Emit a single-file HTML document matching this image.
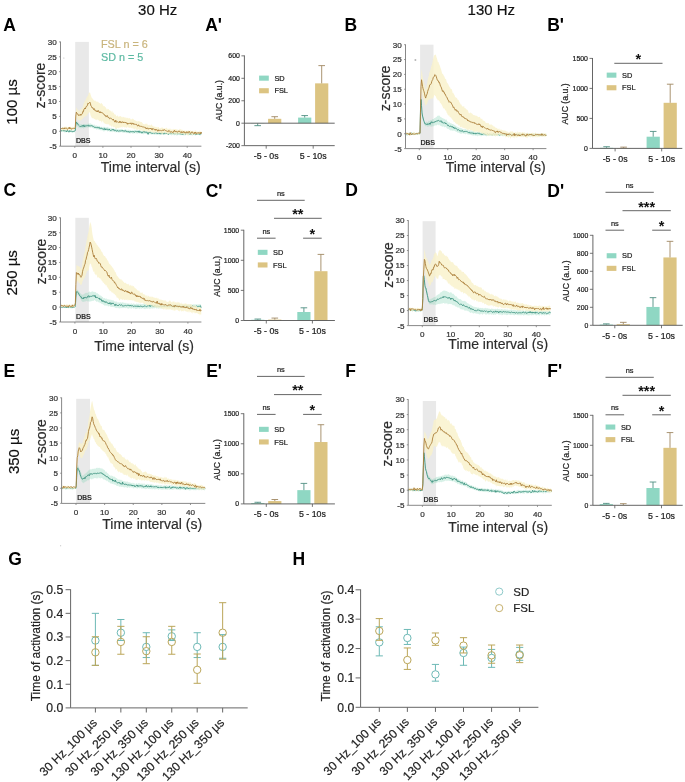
<!DOCTYPE html>
<html><head><meta charset="utf-8"><style>
html,body{margin:0;padding:0;background:#fff;}
svg{display:block;font-family:"Liberation Sans", sans-serif;will-change:transform;}
</style></head><body>
<svg width="685" height="782" viewBox="0 0 685 782">
<rect width="685" height="782" fill="#fff"/>
<rect x="75.2" y="41.9" width="13.7" height="104.3" fill="#e9e9e9"/>
<path d="M60.64,129.66 L61.15,129.66 L61.65,129.93 L62.16,129.22 L62.66,129.27 L63.17,129.52 L63.68,130.27 L64.18,129.52 L64.69,130.33 L65.19,130.06 L65.7,129.66 L66.2,129.6 L66.71,129.7 L67.22,130.07 L67.72,129.66 L68.23,130.1 L68.73,130.03 L69.24,129.7 L69.74,130.11 L70.25,130.16 L70.76,130.28 L71.26,129.86 L71.77,130.01 L72.27,130.76 L72.78,130.1 L73.29,129.89 L73.79,130.61 L74.3,129.86 L74.8,129.59 L75.31,129.21 L75.81,121.99 L76.32,120.39 L76.83,121.33 L77.33,121.4 L77.84,123.06 L78.34,122.32 L78.85,123.83 L79.36,123.43 L79.86,124.38 L80.37,123.94 L80.87,124.45 L81.38,123.95 L81.88,124.31 L82.39,125.01 L82.9,124.06 L83.4,125.06 L83.91,123.99 L84.41,124.31 L84.92,124.66 L85.42,123.96 L85.93,124.01 L86.44,124.06 L86.94,124.29 L87.45,123.6 L87.95,124.19 L88.46,123.24 L88.97,124.16 L89.47,123.64 L89.98,123.08 L90.48,123.26 L90.99,124.16 L91.49,123.67 L92,124.18 L92.51,124.48 L93.01,124.82 L93.52,124.76 L94.02,124.87 L94.53,124.57 L95.03,125.53 L95.54,125.45 L96.05,125.65 L96.55,124.97 L97.06,126.14 L97.56,125.72 L98.07,126.14 L98.58,126.02 L99.08,125.39 L99.59,126.6 L100.09,126.62 L100.6,127.65 L101.1,126.43 L101.61,126.93 L102.12,126.7 L102.62,127.69 L103.13,127.28 L103.63,126.81 L104.14,126.85 L104.65,127.04 L105.15,127.28 L105.66,127.45 L106.16,127.17 L106.67,127.56 L107.17,127.22 L107.68,126.69 L108.19,127.42 L108.69,127.78 L109.2,127.83 L109.7,128.54 L110.21,127.86 L110.71,128.53 L111.22,127.8 L111.73,127.81 L112.23,128.42 L112.74,128.22 L113.24,128.89 L113.75,128.29 L114.26,129.42 L114.76,128.81 L115.27,128.7 L115.77,128.36 L116.28,128.54 L116.78,128.47 L117.29,129.29 L117.8,129.01 L118.3,128.56 L118.81,129.92 L119.31,129.79 L119.82,129.04 L120.32,129.19 L120.83,129.2 L121.34,129.28 L121.84,128.77 L122.35,129.58 L122.85,130.06 L123.36,130.13 L123.87,129.91 L124.37,129.59 L124.88,129.77 L125.38,128.96 L125.89,129.46 L126.39,129.76 L126.9,129.93 L127.41,130.36 L127.91,129.45 L128.42,129.84 L128.92,129.82 L129.43,130.47 L129.94,129.61 L130.44,130.29 L130.95,130.54 L131.45,130.43 L131.96,130.87 L132.46,130.28 L132.97,129.81 L133.48,130.9 L133.98,130.02 L134.49,129.87 L134.99,129.94 L135.5,129.73 L136,130.08 L136.51,129.95 L137.02,130.41 L137.52,129.65 L138.03,130.21 L138.53,130.75 L139.04,129.78 L139.55,130.29 L140.05,130.86 L140.56,130.47 L141.06,130.63 L141.57,131.02 L142.07,130.38 L142.58,131.05 L143.09,129.83 L143.59,130.6 L144.1,130.65 L144.6,130.32 L145.11,130.99 L145.61,131.7 L146.12,130.94 L146.63,130.62 L147.13,131.64 L147.64,131.08 L148.14,131.37 L148.65,130.51 L149.16,131.74 L149.66,130.75 L150.17,130.75 L150.67,131.75 L151.18,132.25 L151.68,131.54 L152.19,131.82 L152.7,131.43 L153.2,131.4 L153.71,131.78 L154.21,131.68 L154.72,131.96 L155.23,131.8 L155.73,131.8 L156.24,131.87 L156.74,131.7 L157.25,131.72 L157.75,131.74 L158.26,132.61 L158.77,132.28 L159.27,132.36 L159.78,132.35 L160.28,132.13 L160.79,132.27 L161.29,131.83 L161.8,131.48 L162.31,132.03 L162.81,131.43 L163.32,131.67 L163.82,132.09 L164.33,132.16 L164.84,131.85 L165.34,132.14 L165.85,131.63 L166.35,132.05 L166.86,132.22 L167.36,131.75 L167.87,132.53 L168.38,131.99 L168.88,131.85 L169.39,131.83 L169.89,132.08 L170.4,132.25 L170.9,132.55 L171.41,132.18 L171.92,132.35 L172.42,132.44 L172.93,132.01 L173.43,132.3 L173.94,131.58 L174.45,131.85 L174.95,132.32 L175.46,131.98 L175.96,132.95 L176.47,132.06 L176.97,132.95 L177.48,132.53 L177.99,132.31 L178.49,132.1 L179,131.8 L179.5,132.82 L180.01,132.74 L180.52,132.4 L181.02,132.21 L181.53,132.84 L182.03,132.48 L182.54,132.44 L183.04,132.18 L183.55,132.47 L184.06,132.51 L184.56,132.81 L185.07,133.01 L185.57,132.43 L186.08,132.58 L186.58,132.34 L187.09,132.53 L187.6,132.58 L188.1,132.27 L188.61,132.81 L189.11,132.69 L189.62,132.97 L190.13,132.75 L190.63,132.4 L191.14,131.77 L191.64,132.21 L192.15,132.22 L192.65,132.89 L193.16,132.42 L193.67,132.53 L194.17,132.38 L194.68,132.48 L195.18,132.49 L195.69,132.26 L196.19,132.6 L196.7,132.77 L197.21,132.29 L197.71,133 L198.22,132.51 L198.72,133 L199.23,132.13 L199.74,132.64 L200.24,132.24 L200.75,132.51 L201.25,133 L201.26,132.28 L201.26,135.16 L201.25,134.9 L200.75,135.33 L200.24,135.4 L199.74,135.3 L199.23,135.14 L198.72,134.51 L198.22,134.88 L197.71,135.04 L197.21,135.12 L196.7,135.12 L196.19,134.36 L195.69,135.48 L195.18,135.5 L194.68,135.16 L194.17,134.76 L193.67,134.64 L193.16,134.26 L192.65,135 L192.15,135.93 L191.64,135.03 L191.14,135.18 L190.63,135.21 L190.13,135.02 L189.62,135.09 L189.11,135.31 L188.61,135.53 L188.1,134.93 L187.6,135.05 L187.09,135.33 L186.58,134.8 L186.08,135.12 L185.57,135.5 L185.07,134.93 L184.56,134.98 L184.06,135.96 L183.55,135.22 L183.04,134.85 L182.54,135.24 L182.03,135.07 L181.53,134.96 L181.02,135.52 L180.52,134.94 L180.01,135.32 L179.5,135.11 L179,134.51 L178.49,134.67 L177.99,134.82 L177.48,135.41 L176.97,135.28 L176.47,135.53 L175.96,134.91 L175.46,134.55 L174.95,135.53 L174.45,135.19 L173.94,134.69 L173.43,135.37 L172.93,134.88 L172.42,134.65 L171.92,135.57 L171.41,135.37 L170.9,135.07 L170.4,134.59 L169.89,134.82 L169.39,134.64 L168.88,134.82 L168.38,134.42 L167.87,134.75 L167.36,134.82 L166.86,134.5 L166.35,133.88 L165.85,134.89 L165.34,133.9 L164.84,134.48 L164.33,134.42 L163.82,134.54 L163.32,135.19 L162.81,134.45 L162.31,134.58 L161.8,134.54 L161.29,134.73 L160.79,134.61 L160.28,135.28 L159.78,134.23 L159.27,135.73 L158.77,134.51 L158.26,134.74 L157.75,135.09 L157.25,134.79 L156.74,134.33 L156.24,135.13 L155.73,134.6 L155.23,134.58 L154.72,134.61 L154.21,134.88 L153.71,134.27 L153.2,134.45 L152.7,134.36 L152.19,134.51 L151.68,134.25 L151.18,134.67 L150.67,134.28 L150.17,134.05 L149.66,133.95 L149.16,134.75 L148.65,133.86 L148.14,134.54 L147.64,134.09 L147.13,134.36 L146.63,133.43 L146.12,134.29 L145.61,133.63 L145.11,133.78 L144.6,133.77 L144.1,133.72 L143.59,134.78 L143.09,133.41 L142.58,134.08 L142.07,133.71 L141.57,133.83 L141.06,133.74 L140.56,133.34 L140.05,133.63 L139.55,133.25 L139.04,133.58 L138.53,133.26 L138.03,132.61 L137.52,134.07 L137.02,133.58 L136.51,132.92 L136,134.11 L135.5,133.1 L134.99,133.2 L134.49,133.03 L133.98,133.44 L133.48,133.57 L132.97,133.33 L132.46,133.91 L131.96,133.09 L131.45,133.06 L130.95,133.22 L130.44,133.44 L129.94,133.34 L129.43,133.35 L128.92,133.51 L128.42,132.78 L127.91,132.75 L127.41,133.22 L126.9,132.59 L126.39,133.39 L125.89,132.54 L125.38,132.85 L124.88,132.74 L124.37,132.79 L123.87,132.75 L123.36,132.33 L122.85,133.06 L122.35,132.32 L121.84,132.02 L121.34,132.19 L120.83,132.06 L120.32,132.21 L119.82,132.69 L119.31,132.16 L118.81,132.57 L118.3,132.5 L117.8,132.35 L117.29,132.01 L116.78,132.41 L116.28,131.77 L115.77,132.62 L115.27,132.06 L114.76,132.37 L114.26,131.59 L113.75,132.09 L113.24,131.4 L112.74,131.32 L112.23,132.22 L111.73,132.08 L111.22,131.39 L110.71,132.11 L110.21,131.85 L109.7,131.96 L109.2,131.11 L108.69,131.01 L108.19,131.28 L107.68,131.52 L107.17,131.15 L106.67,130.43 L106.16,130.86 L105.66,130.79 L105.15,130.38 L104.65,131.29 L104.14,131.23 L103.63,131.64 L103.13,130.42 L102.62,130.7 L102.12,129.96 L101.61,130.06 L101.1,130.71 L100.6,130.35 L100.09,130.07 L99.59,129.95 L99.08,129.65 L98.58,129.83 L98.07,129.28 L97.56,129.3 L97.06,129.18 L96.55,130.07 L96.05,128.92 L95.54,128.65 L95.03,129.05 L94.53,128.71 L94.02,128.49 L93.52,128.52 L93.01,128.21 L92.51,127.88 L92,127.81 L91.49,127.33 L90.99,127.22 L90.48,127.74 L89.98,127.52 L89.47,127.27 L88.97,127.3 L88.46,127.52 L87.95,127.14 L87.45,127.59 L86.94,127.85 L86.44,127.36 L85.93,127.58 L85.42,127.93 L84.92,127.36 L84.41,127.65 L83.91,128.74 L83.4,128.41 L82.9,128.07 L82.39,127.88 L81.88,128.21 L81.38,128.25 L80.87,128.36 L80.37,128.28 L79.86,127.66 L79.36,127.88 L78.85,128.13 L78.34,126.72 L77.84,126.57 L77.33,126.72 L76.83,125.32 L76.32,124.85 L75.81,126.21 L75.31,132.25 L74.8,132.36 L74.3,132.14 L73.79,132.17 L73.29,132.48 L72.78,132.73 L72.27,132.54 L71.77,131.94 L71.26,132.92 L70.76,132.29 L70.25,131.92 L69.74,132.68 L69.24,132.22 L68.73,132.33 L68.23,132.53 L67.72,131.82 L67.22,131.61 L66.71,132.06 L66.2,132.4 L65.7,132.17 L65.19,132.3 L64.69,132.73 L64.18,131.9 L63.68,131.76 L63.17,131.97 L62.66,131.93 L62.16,131.85 L61.65,132.06 L61.15,132.08 L60.64,131.77Z" fill="rgba(130,210,180,0.32)"/>
<path d="M60.64,131.08 L61.15,130.39 L61.65,130.82 L62.16,130.66 L62.66,130.1 L63.17,130.31 L63.68,131.12 L64.18,129.8 L64.69,130.91 L65.19,130.56 L65.7,131.27 L66.2,131 L66.71,131.84 L67.22,130.18 L67.72,130.4 L68.23,131.65 L68.73,131.82 L69.24,131.89 L69.74,130.58 L70.25,131.38 L70.76,131.21 L71.26,131.35 L71.77,131.28 L72.27,131.75 L72.78,131.24 L73.29,131.95 L73.79,131.31 L74.3,131.14 L74.8,131.07 L75.31,130.63 L75.81,124.53 L76.32,122.24 L76.83,123.29 L77.33,123.18 L77.84,124.24 L78.34,124.94 L78.85,125.42 L79.36,125.92 L79.86,126.44 L80.37,126.5 L80.87,126.39 L81.38,126.25 L81.88,126.18 L82.39,125.39 L82.9,126.67 L83.4,126.26 L83.91,124.86 L84.41,127.02 L84.92,126.32 L85.42,125.93 L85.93,125.9 L86.44,125.74 L86.94,125.99 L87.45,125.61 L87.95,125.65 L88.46,125.2 L88.97,126.36 L89.47,125.8 L89.98,125.37 L90.48,125.99 L90.99,126.16 L91.49,125.56 L92,126.39 L92.51,126.01 L93.01,126.18 L93.52,126.59 L94.02,126.68 L94.53,127.11 L95.03,127.82 L95.54,127.23 L96.05,127.08 L96.55,127.64 L97.06,127.55 L97.56,127.26 L98.07,128.17 L98.58,127.58 L99.08,127.13 L99.59,128.42 L100.09,128.22 L100.6,128.49 L101.1,127.81 L101.61,128.5 L102.12,128.32 L102.62,129.16 L103.13,128.9 L103.63,128.94 L104.14,129.82 L104.65,128.33 L105.15,128.64 L105.66,129.96 L106.16,128.83 L106.67,129.31 L107.17,129.11 L107.68,129.22 L108.19,130.18 L108.69,129.65 L109.2,128.92 L109.7,129.98 L110.21,130.28 L110.71,130.52 L111.22,130.54 L111.73,129.88 L112.23,129.31 L112.74,129.99 L113.24,130.15 L113.75,129.27 L114.26,130.65 L114.76,130.79 L115.27,130.27 L115.77,130.31 L116.28,131.11 L116.78,131.22 L117.29,130.56 L117.8,130.6 L118.3,131.36 L118.81,130.86 L119.31,131.05 L119.82,130.6 L120.32,130.9 L120.83,130.92 L121.34,131.08 L121.84,130.45 L122.35,130.33 L122.85,131.2 L123.36,130.66 L123.87,131.47 L124.37,131.12 L124.88,130.83 L125.38,130.51 L125.89,131.46 L126.39,131.35 L126.9,131.26 L127.41,132.1 L127.91,131.41 L128.42,131.78 L128.92,131.31 L129.43,132.05 L129.94,132.48 L130.44,131.54 L130.95,131.46 L131.45,131.86 L131.96,131.19 L132.46,131.77 L132.97,131.94 L133.48,131.45 L133.98,132.45 L134.49,132.05 L134.99,131.76 L135.5,131.37 L136,131.88 L136.51,131.68 L137.02,132.17 L137.52,131.75 L138.03,131.13 L138.53,132.29 L139.04,130.87 L139.55,132.34 L140.05,132.06 L140.56,132.02 L141.06,131.65 L141.57,132.77 L142.07,133.22 L142.58,131.97 L143.09,131.92 L143.59,132.04 L144.1,131.13 L144.6,132.33 L145.11,132.34 L145.61,132.06 L146.12,132.37 L146.63,131.79 L147.13,133.22 L147.64,132.85 L148.14,134.35 L148.65,132.36 L149.16,132.97 L149.66,132.39 L150.17,131.84 L150.67,132.91 L151.18,133.06 L151.68,133.22 L152.19,133.41 L152.7,133.35 L153.2,132.77 L153.71,133.09 L154.21,133.11 L154.72,133.25 L155.23,132.76 L155.73,132.99 L156.24,133.32 L156.74,132.96 L157.25,133.37 L157.75,133.87 L158.26,132.65 L158.77,133.14 L159.27,133.84 L159.78,132.87 L160.28,133.23 L160.79,134.14 L161.29,132.63 L161.8,133.24 L162.31,132.98 L162.81,133.32 L163.32,133.49 L163.82,134.16 L164.33,132.96 L164.84,133.42 L165.34,133.57 L165.85,133.28 L166.35,133.41 L166.86,133.13 L167.36,133.64 L167.87,133.48 L168.38,134.49 L168.88,133.68 L169.39,133.16 L169.89,132.86 L170.4,133.67 L170.9,133.56 L171.41,132.76 L171.92,133.68 L172.42,133.18 L172.93,132.74 L173.43,133.52 L173.94,132.97 L174.45,133.9 L174.95,133.47 L175.46,133.61 L175.96,133.53 L176.47,133.05 L176.97,132.46 L177.48,133.93 L177.99,133.89 L178.49,133.39 L179,134.14 L179.5,133.4 L180.01,133.38 L180.52,133.79 L181.02,133.41 L181.53,134.41 L182.03,133.32 L182.54,134.43 L183.04,134.03 L183.55,133.98 L184.06,133.91 L184.56,133.32 L185.07,133.7 L185.57,133.93 L186.08,133.49 L186.58,133.01 L187.09,133.77 L187.6,133.6 L188.1,133.2 L188.61,133.67 L189.11,134.41 L189.62,132.62 L190.13,132.77 L190.63,134.77 L191.14,133.85 L191.64,133.64 L192.15,133.39 L192.65,133.54 L193.16,133.99 L193.67,134.37 L194.17,133.83 L194.68,133.39 L195.18,134.41 L195.69,134.39 L196.19,133.91 L196.7,134.83 L197.21,134.04 L197.71,134.13 L198.22,133.71 L198.72,134.27 L199.23,134.36 L199.74,134.13 L200.24,133.97 L200.75,134.27 L201.25,133.95 L201.26,133.6" fill="none" stroke="#3f9481" stroke-width="0.9" stroke-linejoin="round"/>
<path d="M60.64,126.74 L61.15,127.78 L61.65,128.67 L62.16,127.71 L62.66,127.02 L63.17,127.03 L63.68,128.24 L64.18,126.6 L64.69,126.78 L65.19,126.94 L65.7,126.47 L66.2,126.68 L66.71,126.73 L67.22,127.16 L67.72,126.84 L68.23,127.67 L68.73,126.93 L69.24,126.78 L69.74,127.01 L70.25,127.18 L70.76,126.47 L71.26,127.08 L71.77,127.05 L72.27,126.71 L72.78,126.65 L73.29,127.4 L73.79,127 L74.3,126.42 L74.8,127.2 L75.31,125.68 L75.81,112.23 L76.32,108.3 L76.83,107.33 L77.33,109.47 L77.84,109.99 L78.34,109.27 L78.85,111.32 L79.36,111.09 L79.86,110.19 L80.37,108.91 L80.87,110.1 L81.38,108.44 L81.88,108.78 L82.39,107.04 L82.9,107.28 L83.4,104.24 L83.91,102.94 L84.41,102.14 L84.92,99.91 L85.42,100.69 L85.93,99.12 L86.44,97.93 L86.94,97.25 L87.45,96.12 L87.95,95.91 L88.46,93.83 L88.97,92.96 L89.47,92.86 L89.98,92.01 L90.48,94.18 L90.99,95.4 L91.49,97.48 L92,97.67 L92.51,98.8 L93.01,99.09 L93.52,99.95 L94.02,100.58 L94.53,100.89 L95.03,99.97 L95.54,101.31 L96.05,101.06 L96.55,101.71 L97.06,101.9 L97.56,101.53 L98.07,101.71 L98.58,102.62 L99.08,102.86 L99.59,103.06 L100.09,103.36 L100.6,103.9 L101.1,103.28 L101.61,102.73 L102.12,104.32 L102.62,104.12 L103.13,106.48 L103.63,105.38 L104.14,105.9 L104.65,106.27 L105.15,107.23 L105.66,107.36 L106.16,107.99 L106.67,109.65 L107.17,108.59 L107.68,109.46 L108.19,109.02 L108.69,109.08 L109.2,110.61 L109.7,110 L110.21,110.2 L110.71,111.24 L111.22,110.71 L111.73,112.49 L112.23,110.57 L112.74,112.71 L113.24,112.67 L113.75,112.56 L114.26,114.31 L114.76,114.48 L115.27,114.59 L115.77,114.78 L116.28,116.26 L116.78,116.15 L117.29,115.62 L117.8,115.46 L118.3,116.34 L118.81,117.21 L119.31,115.97 L119.82,116.45 L120.32,116.04 L120.83,116.3 L121.34,116.73 L121.84,117.29 L122.35,117.55 L122.85,116.4 L123.36,117.33 L123.87,116.81 L124.37,116.88 L124.88,117.95 L125.38,116.92 L125.89,118.24 L126.39,118.24 L126.9,117.2 L127.41,118.13 L127.91,117.64 L128.42,118.75 L128.92,117.69 L129.43,118.02 L129.94,118.54 L130.44,118.7 L130.95,119.8 L131.45,118.99 L131.96,119.4 L132.46,118.3 L132.97,119.35 L133.48,118.67 L133.98,119.91 L134.49,120.11 L134.99,120.24 L135.5,120.45 L136,121.11 L136.51,121.16 L137.02,121.06 L137.52,121.63 L138.03,121.03 L138.53,121.36 L139.04,121.04 L139.55,121.48 L140.05,121.73 L140.56,121.93 L141.06,122.09 L141.57,121.93 L142.07,122.41 L142.58,123.28 L143.09,123.7 L143.59,124.18 L144.1,123.74 L144.6,124.42 L145.11,124.25 L145.61,123.87 L146.12,123.2 L146.63,124.34 L147.13,123.62 L147.64,124.9 L148.14,124.71 L148.65,125.23 L149.16,125.35 L149.66,124.53 L150.17,125.95 L150.67,124.96 L151.18,124.58 L151.68,124.61 L152.19,125.58 L152.7,125.91 L153.2,125.61 L153.71,127 L154.21,126.79 L154.72,126.44 L155.23,126.77 L155.73,127.17 L156.24,126.66 L156.74,127.38 L157.25,127.64 L157.75,126.81 L158.26,127.09 L158.77,127.08 L159.27,128.55 L159.78,128.22 L160.28,128.14 L160.79,127.66 L161.29,127.71 L161.8,127.53 L162.31,127.83 L162.81,127.37 L163.32,129.01 L163.82,127.86 L164.33,128.75 L164.84,128.32 L165.34,128.37 L165.85,128.56 L166.35,127.84 L166.86,127.67 L167.36,128.87 L167.87,128.97 L168.38,129.13 L168.88,128.58 L169.39,128.73 L169.89,128.77 L170.4,128.42 L170.9,129.8 L171.41,128.99 L171.92,129.98 L172.42,129.13 L172.93,129.46 L173.43,128.65 L173.94,129.72 L174.45,129.02 L174.95,129.23 L175.46,128.96 L175.96,129.12 L176.47,129.3 L176.97,129.81 L177.48,129.39 L177.99,129.61 L178.49,129.99 L179,129.89 L179.5,128.93 L180.01,128.74 L180.52,129.48 L181.02,129.01 L181.53,130.08 L182.03,129.83 L182.54,129.85 L183.04,130.3 L183.55,131.01 L184.06,130.52 L184.56,130.75 L185.07,129.94 L185.57,131.17 L186.08,130.01 L186.58,131.32 L187.09,130.9 L187.6,130.79 L188.1,130.5 L188.61,130.16 L189.11,131.05 L189.62,131 L190.13,130.28 L190.63,130.6 L191.14,131.08 L191.64,131.36 L192.15,131.26 L192.65,131.46 L193.16,130.62 L193.67,130.88 L194.17,132.46 L194.68,130.39 L195.18,130.58 L195.69,130.51 L196.19,130.59 L196.7,132.01 L197.21,131.98 L197.71,130.94 L198.22,132.39 L198.72,131.12 L199.23,132.06 L199.74,130.27 L200.24,131.52 L200.75,131.52 L201.25,130.91 L201.26,132.19 L201.26,134.15 L201.25,134.5 L200.75,134 L200.24,134.38 L199.74,133.44 L199.23,133.94 L198.72,133.71 L198.22,133.79 L197.71,135.05 L197.21,134.53 L196.7,134.67 L196.19,134.03 L195.69,134.67 L195.18,133.63 L194.68,134.26 L194.17,134.31 L193.67,134.92 L193.16,133.68 L192.65,135.49 L192.15,134.76 L191.64,134.1 L191.14,134.67 L190.63,135.2 L190.13,134.05 L189.62,133.67 L189.11,134.83 L188.61,135.02 L188.1,135.21 L187.6,135.48 L187.09,134.2 L186.58,134.78 L186.08,134.69 L185.57,133.87 L185.07,133.79 L184.56,134.79 L184.06,134.92 L183.55,133.75 L183.04,134.2 L182.54,134.04 L182.03,133.53 L181.53,134.79 L181.02,134.3 L180.52,133.86 L180.01,133.33 L179.5,134.26 L179,133.8 L178.49,134.13 L177.99,133.58 L177.48,133.78 L176.97,135.01 L176.47,133.58 L175.96,134.26 L175.46,133.56 L174.95,134.67 L174.45,133.46 L173.94,134.71 L173.43,133.1 L172.93,133.56 L172.42,134.71 L171.92,134.1 L171.41,133.31 L170.9,133.11 L170.4,134.22 L169.89,133.41 L169.39,133.86 L168.88,133.89 L168.38,133.4 L167.87,134.03 L167.36,134.52 L166.86,133.12 L166.35,133.05 L165.85,134.1 L165.34,133.09 L164.84,132.13 L164.33,132.54 L163.82,132.76 L163.32,133.24 L162.81,133.24 L162.31,134.7 L161.8,133.19 L161.29,133.46 L160.79,133.31 L160.28,133.2 L159.78,132.41 L159.27,132.71 L158.77,132.93 L158.26,133.59 L157.75,133.08 L157.25,132.52 L156.74,131.97 L156.24,132.67 L155.73,132.14 L155.23,132.93 L154.72,132.34 L154.21,132.72 L153.71,133.06 L153.2,133.03 L152.7,132.06 L152.19,131.84 L151.68,132.66 L151.18,131.5 L150.67,132.91 L150.17,131.09 L149.66,131.51 L149.16,132.6 L148.65,132.46 L148.14,131.71 L147.64,131.45 L147.13,130.87 L146.63,131.45 L146.12,130.9 L145.61,130.61 L145.11,131.41 L144.6,130.75 L144.1,131.94 L143.59,130.59 L143.09,131.92 L142.58,131.08 L142.07,129.16 L141.57,130.5 L141.06,130.51 L140.56,131.19 L140.05,129.39 L139.55,129.75 L139.04,129.67 L138.53,128.75 L138.03,130.09 L137.52,129.58 L137.02,129.71 L136.51,130.16 L136,128.29 L135.5,128.76 L134.99,128.51 L134.49,129.2 L133.98,129.07 L133.48,128.3 L132.97,129.05 L132.46,127.79 L131.96,127.63 L131.45,128.31 L130.95,128.01 L130.44,127.24 L129.94,128 L129.43,127.77 L128.92,127.42 L128.42,127.45 L127.91,127.4 L127.41,126.33 L126.9,127.74 L126.39,127.79 L125.89,127.45 L125.38,127.14 L124.88,126.91 L124.37,127.85 L123.87,126.78 L123.36,126.94 L122.85,126.34 L122.35,127.75 L121.84,127.57 L121.34,126.72 L120.83,127.16 L120.32,127.52 L119.82,127.69 L119.31,127.38 L118.81,127.83 L118.3,128.2 L117.8,127.83 L117.29,127.96 L116.78,128.49 L116.28,129.3 L115.77,128.4 L115.27,128.05 L114.76,127.57 L114.26,126.75 L113.75,127.23 L113.24,127.3 L112.74,127.01 L112.23,125.32 L111.73,126.64 L111.22,126.38 L110.71,126.11 L110.21,125.18 L109.7,124.62 L109.2,126.23 L108.69,123.85 L108.19,124.56 L107.68,124.41 L107.17,123.84 L106.67,124.15 L106.16,124.22 L105.66,123.96 L105.15,123.71 L104.65,122.85 L104.14,123.88 L103.63,122.46 L103.13,121.87 L102.62,120.18 L102.12,122.3 L101.61,122.5 L101.1,121.03 L100.6,120.9 L100.09,120.81 L99.59,121.6 L99.08,120.69 L98.58,120.35 L98.07,119.83 L97.56,119.55 L97.06,119.76 L96.55,119.59 L96.05,120.51 L95.54,119.5 L95.03,119.37 L94.53,119.1 L94.02,118.64 L93.52,118.29 L93.01,118.57 L92.51,118.28 L92,117.83 L91.49,117.57 L90.99,115.94 L90.48,115.29 L89.98,112.26 L89.47,112.46 L88.97,112.25 L88.46,113.57 L87.95,113.26 L87.45,114.82 L86.94,115.32 L86.44,115.96 L85.93,116.16 L85.42,116.13 L84.92,116.74 L84.41,116.24 L83.91,118.35 L83.4,117.34 L82.9,118.66 L82.39,118.87 L81.88,119.33 L81.38,119.75 L80.87,121.02 L80.37,120.15 L79.86,120.26 L79.36,119.81 L78.85,120.01 L78.34,120.18 L77.84,119.85 L77.33,118.31 L76.83,119.03 L76.32,116.52 L75.81,118.95 L75.31,127.46 L74.8,129.58 L74.3,129.11 L73.79,130.01 L73.29,129.43 L72.78,129.76 L72.27,130.52 L71.77,129.56 L71.26,130.22 L70.76,129.89 L70.25,130.24 L69.74,129.24 L69.24,129.71 L68.73,129.51 L68.23,130.46 L67.72,130.14 L67.22,129.15 L66.71,130.54 L66.2,130.35 L65.7,130.27 L65.19,129.94 L64.69,130.08 L64.18,131.22 L63.68,130.08 L63.17,130.28 L62.66,131.01 L62.16,130.32 L61.65,129.3 L61.15,130.56 L60.64,129.44Z" fill="rgba(249,241,203,0.82)"/>
<path d="M60.64,129.11 L61.15,128.51 L61.65,128.69 L62.16,127.94 L62.66,128.18 L63.17,129.01 L63.68,128.56 L64.18,127.78 L64.69,128.99 L65.19,128.45 L65.7,128.02 L66.2,127.96 L66.71,128.34 L67.22,129.3 L67.72,129.24 L68.23,128.41 L68.73,128.31 L69.24,127.13 L69.74,128.94 L70.25,127.85 L70.76,128.03 L71.26,129.32 L71.77,128.84 L72.27,128.3 L72.78,128.64 L73.29,128.44 L73.79,128.09 L74.3,128.77 L74.8,128.07 L75.31,127.3 L75.81,116.07 L76.32,112.17 L76.83,113.4 L77.33,113.75 L77.84,113.85 L78.34,115.31 L78.85,115.53 L79.36,114.91 L79.86,115.3 L80.37,114.32 L80.87,115.42 L81.38,114.28 L81.88,114.34 L82.39,113.69 L82.9,111.33 L83.4,111.68 L83.91,109.28 L84.41,109.01 L84.92,107.97 L85.42,108.85 L85.93,107.12 L86.44,106.26 L86.94,106.28 L87.45,105.4 L87.95,103.13 L88.46,103.54 L88.97,103.15 L89.47,102.71 L89.98,102.18 L90.48,103.9 L90.99,105.99 L91.49,106.53 L92,107.88 L92.51,107.81 L93.01,107.73 L93.52,109.52 L94.02,108.88 L94.53,108.84 L95.03,110.82 L95.54,110.81 L96.05,110.92 L96.55,111.52 L97.06,110.48 L97.56,111.94 L98.07,110.9 L98.58,110.62 L99.08,112.48 L99.59,111.99 L100.09,113.02 L100.6,111.71 L101.1,112.64 L101.61,112.61 L102.12,112.74 L102.62,112.83 L103.13,113.72 L103.63,113.97 L104.14,114.73 L104.65,114.83 L105.15,115.95 L105.66,115.67 L106.16,117.07 L106.67,116.55 L107.17,115.44 L107.68,116.65 L108.19,117.67 L108.69,117.19 L109.2,118.19 L109.7,118.84 L110.21,118.55 L110.71,117.92 L111.22,118.33 L111.73,118.86 L112.23,119.62 L112.74,120.06 L113.24,119.12 L113.75,120.09 L114.26,121.1 L114.76,122.06 L115.27,121.97 L115.77,120.16 L116.28,122.31 L116.78,121.82 L117.29,121.69 L117.8,121.91 L118.3,122.01 L118.81,122.64 L119.31,122.51 L119.82,121.09 L120.32,122.44 L120.83,121.63 L121.34,123.04 L121.84,122.32 L122.35,122.08 L122.85,121.7 L123.36,122.9 L123.87,122 L124.37,122.14 L124.88,122.78 L125.38,122.19 L125.89,123 L126.39,123.03 L126.9,122.72 L127.41,124.27 L127.91,122.99 L128.42,123.58 L128.92,123.94 L129.43,123.49 L129.94,122.95 L130.44,123.65 L130.95,122.83 L131.45,124.18 L131.96,124.34 L132.46,122.91 L132.97,123.66 L133.48,123.51 L133.98,124.62 L134.49,123.92 L134.99,124.38 L135.5,124.34 L136,124.84 L136.51,124.35 L137.02,125.48 L137.52,125.76 L138.03,126.12 L138.53,124.78 L139.04,125.9 L139.55,126.18 L140.05,126.25 L140.56,126.13 L141.06,126.74 L141.57,126.38 L142.07,126.74 L142.58,126.89 L143.09,127.3 L143.59,126.96 L144.1,127.41 L144.6,127.29 L145.11,127.39 L145.61,127.51 L146.12,129.02 L146.63,128.27 L147.13,128.54 L147.64,127.8 L148.14,129.15 L148.65,128.74 L149.16,128.58 L149.66,128.67 L150.17,128.04 L150.67,128.9 L151.18,128.24 L151.68,129.65 L152.19,129.94 L152.7,128.43 L153.2,128.97 L153.71,129.06 L154.21,129.38 L154.72,129.3 L155.23,130.33 L155.73,129.28 L156.24,130.19 L156.74,129.47 L157.25,130.05 L157.75,131.24 L158.26,130.95 L158.77,129.72 L159.27,130.46 L159.78,130.63 L160.28,130.31 L160.79,130.7 L161.29,130.8 L161.8,130.49 L162.31,130.5 L162.81,129.81 L163.32,130.65 L163.82,129.71 L164.33,129.8 L164.84,129.9 L165.34,130.3 L165.85,130.86 L166.35,130.91 L166.86,131.11 L167.36,131.49 L167.87,131.18 L168.38,131.54 L168.88,130.37 L169.39,131.01 L169.89,131.59 L170.4,132.42 L170.9,131.46 L171.41,131.7 L171.92,132.09 L172.42,132.15 L172.93,132.78 L173.43,131.29 L173.94,131.65 L174.45,130.25 L174.95,131.67 L175.46,131.76 L175.96,130.93 L176.47,131.66 L176.97,131.68 L177.48,132 L177.99,132.17 L178.49,131.07 L179,131.38 L179.5,131.04 L180.01,132.19 L180.52,132.02 L181.02,132.55 L181.53,131.6 L182.03,132.91 L182.54,131.9 L183.04,131.65 L183.55,131.52 L184.06,132.82 L184.56,131.76 L185.07,132.76 L185.57,132.81 L186.08,133.14 L186.58,131.83 L187.09,131.59 L187.6,132.81 L188.1,132.91 L188.61,132.69 L189.11,131.18 L189.62,132 L190.13,132.84 L190.63,133.53 L191.14,132.95 L191.64,131.97 L192.15,131.62 L192.65,132.79 L193.16,133.03 L193.67,132.96 L194.17,133.72 L194.68,132.24 L195.18,133.33 L195.69,132.2 L196.19,133.71 L196.7,133.5 L197.21,132.69 L197.71,133.28 L198.22,132.47 L198.72,132.9 L199.23,133.56 L199.74,132.62 L200.24,132.52 L200.75,134.01 L201.25,132.03 L201.26,132.74" fill="none" stroke="#ab7f3a" stroke-width="0.9" stroke-linejoin="round"/>
<line x1="60.5" y1="41.6" x2="60.5" y2="146.2" stroke="#7a7a7a" stroke-width="0.9"/>
<line x1="60.5" y1="146.2" x2="201.4" y2="146.2" stroke="#7a7a7a" stroke-width="0.9"/>
<line x1="59.1" y1="146.2" x2="60.5" y2="146.2" stroke="#7a7a7a" stroke-width="0.8"/>
<text x="56.8" y="149.1" font-size="8.1" fill="#333" text-anchor="end" stroke="#333" stroke-width="0.22">-5</text>
<line x1="59.1" y1="131.3" x2="60.5" y2="131.3" stroke="#7a7a7a" stroke-width="0.8"/>
<text x="56.8" y="134.2" font-size="8.1" fill="#333" text-anchor="end" stroke="#333" stroke-width="0.22">0</text>
<line x1="59.1" y1="116.4" x2="60.5" y2="116.4" stroke="#7a7a7a" stroke-width="0.8"/>
<text x="56.8" y="119.3" font-size="8.1" fill="#333" text-anchor="end" stroke="#333" stroke-width="0.22">5</text>
<line x1="59.1" y1="101.5" x2="60.5" y2="101.5" stroke="#7a7a7a" stroke-width="0.8"/>
<text x="56.8" y="104.4" font-size="8.1" fill="#333" text-anchor="end" stroke="#333" stroke-width="0.22">10</text>
<line x1="59.1" y1="86.6" x2="60.5" y2="86.6" stroke="#7a7a7a" stroke-width="0.8"/>
<text x="56.8" y="89.5" font-size="8.1" fill="#333" text-anchor="end" stroke="#333" stroke-width="0.22">15</text>
<line x1="59.1" y1="71.7" x2="60.5" y2="71.7" stroke="#7a7a7a" stroke-width="0.8"/>
<text x="56.8" y="74.6" font-size="8.1" fill="#333" text-anchor="end" stroke="#333" stroke-width="0.22">20</text>
<line x1="59.1" y1="56.8" x2="60.5" y2="56.8" stroke="#7a7a7a" stroke-width="0.8"/>
<text x="56.8" y="59.7" font-size="8.1" fill="#333" text-anchor="end" stroke="#333" stroke-width="0.22">25</text>
<line x1="59.1" y1="41.9" x2="60.5" y2="41.9" stroke="#7a7a7a" stroke-width="0.8"/>
<text x="56.8" y="44.8" font-size="8.1" fill="#333" text-anchor="end" stroke="#333" stroke-width="0.22">30</text>
<line x1="74.8" y1="146.2" x2="74.8" y2="147.8" stroke="#7a7a7a" stroke-width="0.8"/>
<text x="74.8" y="157.5" font-size="8.1" fill="#333" text-anchor="middle" stroke="#333" stroke-width="0.22">0</text>
<line x1="102.9" y1="146.2" x2="102.9" y2="147.8" stroke="#7a7a7a" stroke-width="0.8"/>
<text x="102.9" y="157.5" font-size="8.1" fill="#333" text-anchor="middle" stroke="#333" stroke-width="0.22">10</text>
<line x1="131" y1="146.2" x2="131" y2="147.8" stroke="#7a7a7a" stroke-width="0.8"/>
<text x="131" y="157.5" font-size="8.1" fill="#333" text-anchor="middle" stroke="#333" stroke-width="0.22">20</text>
<line x1="159.1" y1="146.2" x2="159.1" y2="147.8" stroke="#7a7a7a" stroke-width="0.8"/>
<text x="159.1" y="157.5" font-size="8.1" fill="#333" text-anchor="middle" stroke="#333" stroke-width="0.22">30</text>
<line x1="187.2" y1="146.2" x2="187.2" y2="147.8" stroke="#7a7a7a" stroke-width="0.8"/>
<text x="187.2" y="157.5" font-size="8.1" fill="#333" text-anchor="middle" stroke="#333" stroke-width="0.22">40</text>
<text x="76" y="142.9" font-size="7.1" fill="#111" stroke="#111" stroke-width="0.22">DBS</text>
<text x="45.3" y="85.5" font-size="13.9" fill="#2c2c2c" text-anchor="middle" transform="rotate(-90 45.3 85.5)" stroke="#2c2c2c" stroke-width="0.18">z-score</text>
<text x="200.6" y="171.7" font-size="14" fill="#2c2c2c" text-anchor="end" stroke="#2c2c2c" stroke-width="0.18">Time interval (s)</text>
<rect x="420.1" y="44.7" width="13.4" height="103.9" fill="#e9e9e9"/>
<path d="M405.64,132.6 L406.15,133.12 L406.67,132.48 L407.18,133.18 L407.69,132.95 L408.2,133.47 L408.71,132.68 L409.23,132.63 L409.74,133.29 L410.25,133.1 L410.76,132.88 L411.28,132.76 L411.79,132.32 L412.3,132.83 L412.81,133.53 L413.32,132.54 L413.84,133.34 L414.35,132.78 L414.86,132.63 L415.37,133.17 L415.88,133.22 L416.4,132.8 L416.91,132.52 L417.42,132.47 L417.93,132.82 L418.44,133.13 L418.96,132.94 L419.47,131.8 L419.98,132.07 L420.49,108.64 L421.01,96.54 L421.52,102.52 L422.03,109.91 L422.54,113.83 L423.05,115.45 L423.57,117.63 L424.08,120.65 L424.59,122.54 L425.1,122.28 L425.61,122.59 L426.13,121.52 L426.64,122.07 L427.15,122.47 L427.66,121.94 L428.17,121.82 L428.69,120.41 L429.2,121.23 L429.71,120.98 L430.22,120.01 L430.74,120.24 L431.25,119.82 L431.76,120.24 L432.27,119.13 L432.78,119.04 L433.3,118.98 L433.81,119.09 L434.32,118.04 L434.83,117.98 L435.34,117.86 L435.86,117.29 L436.37,117.01 L436.88,116.73 L437.39,115.62 L437.9,116.03 L438.42,115.5 L438.93,115.8 L439.44,115.58 L439.95,116.24 L440.47,117.12 L440.98,116.95 L441.49,117.61 L442,117.79 L442.51,118.24 L443.03,118 L443.54,118.74 L444.05,118.76 L444.56,118.94 L445.07,119.18 L445.59,120.03 L446.1,119.34 L446.61,119.79 L447.12,121.06 L447.63,121.67 L448.15,121.83 L448.66,122.94 L449.17,121.78 L449.68,122.66 L450.19,123.05 L450.71,123.36 L451.22,123.43 L451.73,123.58 L452.24,123.9 L452.76,123.93 L453.27,124.25 L453.78,124.45 L454.29,125.11 L454.8,124.96 L455.32,125.56 L455.83,125.67 L456.34,126.42 L456.85,126.43 L457.36,127.11 L457.88,126.8 L458.39,127.22 L458.9,127.56 L459.41,127.8 L459.92,127.9 L460.44,127.85 L460.95,128.51 L461.46,128.29 L461.97,128.6 L462.49,128.67 L463,129.17 L463.51,129.42 L464.02,128.72 L464.53,129.63 L465.05,128.9 L465.56,129.11 L466.07,129.74 L466.58,130.04 L467.09,129.04 L467.61,129.43 L468.12,130.38 L468.63,130.13 L469.14,129.94 L469.65,130.25 L470.17,130.44 L470.68,130.41 L471.19,130.77 L471.7,130.34 L472.22,131.32 L472.73,131.11 L473.24,130.79 L473.75,131.11 L474.26,131.8 L474.78,131.52 L475.29,131.73 L475.8,132.25 L476.31,131.46 L476.82,131.81 L477.34,131.46 L477.85,132.17 L478.36,131.68 L478.87,132.63 L479.38,131.94 L479.9,132.01 L480.41,133 L480.92,131.85 L481.43,131.89 L481.95,131.8 L482.46,131.45 L482.97,132.29 L483.48,132.57 L483.99,132.52 L484.51,132.81 L485.02,132.28 L485.53,131.91 L486.04,132.09 L486.55,132.33 L487.07,132.56 L487.58,132.85 L488.09,132.83 L488.6,133.52 L489.11,132.96 L489.63,133.17 L490.14,132.54 L490.65,133.02 L491.16,132.52 L491.68,132.46 L492.19,132.93 L492.7,133.09 L493.21,132.77 L493.72,133.01 L494.24,132.99 L494.75,132.55 L495.26,132.69 L495.77,133.43 L496.28,132.81 L496.8,133.43 L497.31,133.31 L497.82,133.12 L498.33,132.96 L498.84,133.4 L499.36,132.74 L499.87,132.91 L500.38,133.49 L500.89,133.34 L501.4,133.3 L501.92,133.07 L502.43,132.89 L502.94,132.84 L503.45,133.72 L503.97,132.99 L504.48,132.64 L504.99,133.03 L505.5,133.54 L506.01,133.74 L506.53,133.04 L507.04,133.27 L507.55,133.21 L508.06,133.12 L508.57,133.09 L509.09,133.23 L509.6,133.21 L510.11,134.18 L510.62,133.6 L511.13,133.12 L511.65,133.55 L512.16,133.66 L512.67,133.34 L513.18,133.65 L513.7,133.54 L514.21,133.15 L514.72,133.7 L515.23,133.2 L515.74,133.04 L516.26,133.47 L516.77,133.07 L517.28,132.97 L517.79,133.12 L518.3,134.06 L518.82,133.26 L519.33,133.76 L519.84,132.85 L520.35,134.63 L520.86,133.83 L521.38,133.55 L521.89,133.71 L522.4,133.93 L522.91,133.62 L523.43,133.16 L523.94,133.81 L524.45,134.11 L524.96,133.06 L525.47,133.93 L525.99,133.15 L526.5,134.12 L527.01,133.34 L527.52,132.83 L528.03,133.67 L528.55,133.08 L529.06,133.05 L529.57,133.24 L530.08,133.37 L530.59,133.96 L531.11,133.46 L531.62,133.89 L532.13,134.25 L532.64,133.64 L533.16,134.11 L533.67,133.77 L534.18,133.29 L534.69,133.34 L535.2,133.72 L535.72,134.06 L536.23,133.67 L536.74,134.82 L537.25,133.96 L537.76,133.49 L538.28,133.63 L538.79,133.47 L539.3,134.31 L539.81,134.15 L540.32,133.61 L540.84,133.63 L541.35,133.75 L541.86,133.55 L542.37,133.06 L542.89,133.98 L543.4,134.03 L543.91,133 L544.42,134.49 L544.93,134.17 L545.45,133.72 L545.96,133.09 L546.26,134.03 L546.26,135.43 L545.96,136.42 L545.45,136.02 L544.93,135.94 L544.42,136.57 L543.91,135.87 L543.4,136.01 L542.89,136.28 L542.37,135.67 L541.86,135.87 L541.35,136.44 L540.84,136.43 L540.32,136.09 L539.81,136.54 L539.3,136.21 L538.79,135.98 L538.28,136.28 L537.76,135.97 L537.25,136.27 L536.74,136.35 L536.23,135.6 L535.72,136.1 L535.2,136.31 L534.69,136.5 L534.18,136.09 L533.67,135.59 L533.16,135.77 L532.64,136.18 L532.13,135.19 L531.62,136.45 L531.11,135.88 L530.59,136.12 L530.08,135.85 L529.57,136.33 L529.06,137.07 L528.55,136.42 L528.03,136.1 L527.52,136.18 L527.01,135.81 L526.5,136.21 L525.99,136.09 L525.47,135.9 L524.96,136.17 L524.45,136.41 L523.94,135.81 L523.43,135.88 L522.91,136.47 L522.4,135.38 L521.89,135.7 L521.38,136.4 L520.86,136.12 L520.35,136.38 L519.84,136.37 L519.33,136.24 L518.82,136.06 L518.3,135.72 L517.79,136.13 L517.28,136.64 L516.77,136.22 L516.26,136.14 L515.74,135.7 L515.23,135.79 L514.72,136.07 L514.21,136.74 L513.7,135.86 L513.18,135.78 L512.67,136.36 L512.16,135.95 L511.65,136.29 L511.13,136.78 L510.62,136.23 L510.11,136.06 L509.6,136.54 L509.09,136.1 L508.57,136.17 L508.06,136.62 L507.55,136.48 L507.04,136.66 L506.53,136.46 L506.01,136.54 L505.5,135.65 L504.99,135.81 L504.48,136.22 L503.97,135.9 L503.45,135.84 L502.94,135.92 L502.43,136.32 L501.92,135.92 L501.4,135.44 L500.89,134.99 L500.38,136.15 L499.87,136.2 L499.36,135.96 L498.84,135.66 L498.33,135.54 L497.82,135.7 L497.31,136.2 L496.8,135.82 L496.28,135.38 L495.77,136.12 L495.26,136.31 L494.75,135.65 L494.24,135.62 L493.72,135.52 L493.21,135.72 L492.7,135.89 L492.19,135.45 L491.68,135.96 L491.16,135.51 L490.65,135.35 L490.14,135.92 L489.63,135.87 L489.11,136 L488.6,136.02 L488.09,136.05 L487.58,136.01 L487.07,135.84 L486.55,136.46 L486.04,135.95 L485.53,135.86 L485.02,135.71 L484.51,135.55 L483.99,135.74 L483.48,135.95 L482.97,135.32 L482.46,135.9 L481.95,135.53 L481.43,136.3 L480.92,136.41 L480.41,135.27 L479.9,135.34 L479.38,135.98 L478.87,135.15 L478.36,136.03 L477.85,135.43 L477.34,136.43 L476.82,135.89 L476.31,135.28 L475.8,136 L475.29,135.46 L474.78,135.34 L474.26,135.45 L473.75,135.35 L473.24,135.74 L472.73,135.41 L472.22,135.37 L471.7,135.03 L471.19,135.22 L470.68,134.88 L470.17,134.16 L469.65,134.57 L469.14,134.68 L468.63,134.56 L468.12,134.49 L467.61,134.48 L467.09,134 L466.58,133.79 L466.07,133.61 L465.56,134.7 L465.05,133.59 L464.53,133.77 L464.02,133.85 L463.51,133.47 L463,133.62 L462.49,133.09 L461.97,133.82 L461.46,133.72 L460.95,133.38 L460.44,133.84 L459.92,133.38 L459.41,133.03 L458.9,133.1 L458.39,132.42 L457.88,132.79 L457.36,132.51 L456.85,131.71 L456.34,132.01 L455.83,131.47 L455.32,131.58 L454.8,130.61 L454.29,131.06 L453.78,130.94 L453.27,130.31 L452.76,130.9 L452.24,130.38 L451.73,130.6 L451.22,130.21 L450.71,130.43 L450.19,130.16 L449.68,129.78 L449.17,129.76 L448.66,128.67 L448.15,128.96 L447.63,128.83 L447.12,128.75 L446.61,127.94 L446.1,127.24 L445.59,126.91 L445.07,127.02 L444.56,127.48 L444.05,126.87 L443.54,126.61 L443.03,126.23 L442.51,127.02 L442,126.21 L441.49,126.2 L440.98,126.15 L440.47,125.43 L439.95,125.7 L439.44,124.61 L438.93,124.63 L438.42,125.42 L437.9,124.13 L437.39,124.86 L436.88,125.4 L436.37,125.37 L435.86,125.27 L435.34,125.58 L434.83,125.56 L434.32,125.65 L433.81,126.24 L433.3,126.21 L432.78,126.77 L432.27,125.86 L431.76,126.81 L431.25,126.61 L430.74,126.27 L430.22,126.72 L429.71,126.03 L429.2,126.31 L428.69,126.66 L428.17,126.28 L427.66,126.6 L427.15,126.93 L426.64,125.74 L426.13,125.55 L425.61,126.35 L425.1,126.18 L424.59,125.09 L424.08,123.91 L423.57,121.66 L423.05,119.71 L422.54,118.59 L422.03,116.42 L421.52,108.96 L421.01,102.9 L420.49,112.15 L419.98,134.44 L419.47,134.42 L418.96,134.66 L418.44,134.84 L417.93,134.85 L417.42,134.34 L416.91,134.65 L416.4,134.56 L415.88,134.4 L415.37,134.3 L414.86,134.15 L414.35,134.43 L413.84,134.58 L413.32,134.93 L412.81,135.01 L412.3,134.9 L411.79,134.31 L411.28,135.03 L410.76,134.05 L410.25,134.6 L409.74,134.98 L409.23,134.76 L408.71,134.08 L408.2,134.86 L407.69,134.52 L407.18,135.37 L406.67,135.17 L406.15,134.77 L405.64,135.31Z" fill="rgba(130,210,180,0.32)"/>
<path d="M405.64,133.59 L406.15,134.13 L406.67,134.72 L407.18,134.48 L407.69,134.92 L408.2,133.72 L408.71,133.74 L409.23,133.29 L409.74,133.82 L410.25,134.09 L410.76,134.11 L411.28,132.85 L411.79,134.6 L412.3,133.67 L412.81,133.74 L413.32,133.46 L413.84,133.95 L414.35,133.52 L414.86,133.37 L415.37,133.83 L415.88,133.97 L416.4,133.85 L416.91,134.22 L417.42,133.86 L417.93,133.9 L418.44,133.66 L418.96,133.12 L419.47,133.14 L419.98,133.45 L420.49,109.92 L421.01,99.43 L421.52,105.56 L422.03,112.93 L422.54,116.13 L423.05,117.95 L423.57,120.1 L424.08,121.4 L424.59,122.89 L425.1,123.94 L425.61,124.01 L426.13,124.05 L426.64,124.34 L427.15,124.92 L427.66,123.71 L428.17,123.89 L428.69,124.21 L429.2,124.29 L429.71,123.06 L430.22,124.32 L430.74,122.4 L431.25,122.7 L431.76,121.67 L432.27,122.97 L432.78,122.51 L433.3,122.63 L433.81,122.17 L434.32,122.17 L434.83,122.21 L435.34,121.12 L435.86,121.76 L436.37,121.39 L436.88,120.66 L437.39,120.98 L437.9,120.77 L438.42,120.26 L438.93,120.66 L439.44,121.26 L439.95,120.95 L440.47,121.27 L440.98,120.65 L441.49,122.29 L442,121.61 L442.51,122.73 L443.03,122.79 L443.54,122.99 L444.05,122.88 L444.56,122.75 L445.07,122.55 L445.59,123.96 L446.1,123.36 L446.61,123.88 L447.12,124.35 L447.63,125.49 L448.15,125.08 L448.66,125.91 L449.17,126 L449.68,126.55 L450.19,126.3 L450.71,126.2 L451.22,126.31 L451.73,127.09 L452.24,126.68 L452.76,126.64 L453.27,127.97 L453.78,127.04 L454.29,128.59 L454.8,127.93 L455.32,128.15 L455.83,127.97 L456.34,128.79 L456.85,129.4 L457.36,129.8 L457.88,130.26 L458.39,129.54 L458.9,130.24 L459.41,130.69 L459.92,130.3 L460.44,131.1 L460.95,131.12 L461.46,131.29 L461.97,130.42 L462.49,130.63 L463,131.48 L463.51,132.2 L464.02,131.38 L464.53,131.54 L465.05,131.48 L465.56,131.45 L466.07,131.96 L466.58,131.46 L467.09,131.6 L467.61,131.99 L468.12,132.39 L468.63,132.53 L469.14,132.08 L469.65,133.04 L470.17,132.71 L470.68,133.1 L471.19,133.51 L471.7,132.67 L472.22,133.07 L472.73,133.14 L473.24,132.83 L473.75,134.05 L474.26,133.46 L474.78,133.36 L475.29,133.18 L475.8,134.15 L476.31,133.35 L476.82,133.64 L477.34,133.12 L477.85,133.24 L478.36,133.53 L478.87,132.79 L479.38,133.83 L479.9,134.05 L480.41,134.03 L480.92,134.34 L481.43,133.93 L481.95,134.83 L482.46,134.01 L482.97,133.79 L483.48,133.55 L483.99,134.21 L484.51,133.42 L485.02,134.41 L485.53,134.19 L486.04,135.05 L486.55,134.54 L487.07,134.58 L487.58,133.54 L488.09,134.01 L488.6,134.78 L489.11,134.04 L489.63,134.09 L490.14,134.43 L490.65,134.33 L491.16,134.49 L491.68,134.61 L492.19,135.18 L492.7,134.41 L493.21,133.78 L493.72,133.72 L494.24,134.53 L494.75,134.76 L495.26,134.52 L495.77,134.02 L496.28,134.28 L496.8,134.73 L497.31,134.3 L497.82,134.58 L498.33,134.26 L498.84,134.7 L499.36,135.21 L499.87,134.51 L500.38,134.2 L500.89,135.08 L501.4,134.63 L501.92,134.18 L502.43,134.77 L502.94,134.91 L503.45,133.68 L503.97,134.24 L504.48,134.16 L504.99,135.08 L505.5,133.89 L506.01,135.42 L506.53,134.89 L507.04,134.31 L507.55,134.04 L508.06,135.09 L508.57,134.97 L509.09,134.57 L509.6,135.56 L510.11,134.37 L510.62,134.41 L511.13,134.88 L511.65,134.43 L512.16,134.32 L512.67,134.54 L513.18,134.44 L513.7,133.99 L514.21,134.91 L514.72,134.62 L515.23,134.94 L515.74,134.22 L516.26,134.89 L516.77,134.49 L517.28,134.65 L517.79,134.68 L518.3,133.93 L518.82,134.76 L519.33,134.07 L519.84,134.35 L520.35,134.13 L520.86,134.81 L521.38,134.31 L521.89,134.4 L522.4,135.03 L522.91,134.63 L523.43,134.82 L523.94,134.78 L524.45,134.17 L524.96,135.1 L525.47,135.55 L525.99,135.58 L526.5,134.99 L527.01,135.08 L527.52,134.78 L528.03,134.54 L528.55,133.99 L529.06,134.66 L529.57,134.6 L530.08,135.15 L530.59,134.55 L531.11,134.2 L531.62,134.21 L532.13,135.72 L532.64,134.42 L533.16,134.11 L533.67,134.46 L534.18,135.53 L534.69,134.99 L535.2,134.58 L535.72,134.67 L536.23,135.23 L536.74,135.27 L537.25,134.43 L537.76,135.48 L538.28,134.22 L538.79,134.87 L539.3,134.75 L539.81,135.5 L540.32,135.16 L540.84,134.58 L541.35,135.57 L541.86,133.95 L542.37,135.55 L542.89,135.47 L543.4,134.89 L543.91,134.69 L544.42,134.58 L544.93,135.09 L545.45,135.02 L545.96,135.03 L546.26,135.19" fill="none" stroke="#3f9481" stroke-width="0.9" stroke-linejoin="round"/>
<path d="M405.64,134.19 L406.15,132.74 L406.67,133.19 L407.18,132.87 L407.69,132.3 L408.2,132.74 L408.71,133.03 L409.23,133.42 L409.74,133.17 L410.25,133.37 L410.76,132.6 L411.28,133.03 L411.79,133.32 L412.3,132.79 L412.81,133.13 L413.32,131.72 L413.84,131.91 L414.35,132.14 L414.86,132.8 L415.37,133.19 L415.88,133.07 L416.4,132.28 L416.91,133.14 L417.42,133.48 L417.93,132.53 L418.44,133.12 L418.96,132.19 L419.47,133.36 L419.98,132.92 L420.49,108.85 L421.01,77.07 L421.52,69.29 L422.03,72.12 L422.54,76.31 L423.05,78.82 L423.57,81.06 L424.08,82.9 L424.59,85.27 L425.1,88.23 L425.61,89.17 L426.13,88.6 L426.64,86.58 L427.15,83.57 L427.66,80.3 L428.17,77.81 L428.69,76.39 L429.2,73.18 L429.71,71.8 L430.22,70.22 L430.74,68.65 L431.25,66.21 L431.76,64.9 L432.27,63.13 L432.78,60.4 L433.3,58.56 L433.81,56.34 L434.32,55.33 L434.83,55.04 L435.34,54.57 L435.86,54.81 L436.37,56.69 L436.88,58.23 L437.39,60.06 L437.9,62.3 L438.42,61.68 L438.93,63.79 L439.44,64.67 L439.95,66.01 L440.47,67.96 L440.98,69.01 L441.49,71.08 L442,72.95 L442.51,74.06 L443.03,74.07 L443.54,75.5 L444.05,75.79 L444.56,76.93 L445.07,78.84 L445.59,78.8 L446.1,79.59 L446.61,81.41 L447.12,82.68 L447.63,83.21 L448.15,84.07 L448.66,85.14 L449.17,86.18 L449.68,87.26 L450.19,87.44 L450.71,88.88 L451.22,89.24 L451.73,88.99 L452.24,90.69 L452.76,93.18 L453.27,92.44 L453.78,93.97 L454.29,94.83 L454.8,95.67 L455.32,97.67 L455.83,96.77 L456.34,98.3 L456.85,97.42 L457.36,99.27 L457.88,99.81 L458.39,100.02 L458.9,100.41 L459.41,102.3 L459.92,102.85 L460.44,103.92 L460.95,104.82 L461.46,104.5 L461.97,106.2 L462.49,106.45 L463,106.24 L463.51,106.72 L464.02,105.84 L464.53,107.91 L465.05,108.26 L465.56,108.28 L466.07,109.09 L466.58,109.62 L467.09,109.66 L467.61,110.05 L468.12,110.92 L468.63,113.09 L469.14,112.73 L469.65,113.5 L470.17,112.28 L470.68,112.69 L471.19,113.22 L471.7,113.21 L472.22,113.8 L472.73,114.27 L473.24,115.15 L473.75,114.84 L474.26,115.09 L474.78,115.44 L475.29,115.16 L475.8,115.97 L476.31,115.78 L476.82,115.65 L477.34,116.03 L477.85,116.97 L478.36,117.12 L478.87,117.28 L479.38,116.85 L479.9,116.98 L480.41,118.37 L480.92,118.77 L481.43,118.91 L481.95,118.62 L482.46,119.46 L482.97,120.7 L483.48,120.57 L483.99,120.68 L484.51,121.2 L485.02,121.36 L485.53,122.61 L486.04,122.96 L486.55,122.88 L487.07,122.76 L487.58,123.16 L488.09,123.02 L488.6,123.05 L489.11,123.88 L489.63,124.97 L490.14,123.94 L490.65,125.07 L491.16,124.56 L491.68,124.6 L492.19,125.34 L492.7,125.44 L493.21,125.52 L493.72,126.8 L494.24,126.37 L494.75,127 L495.26,127.62 L495.77,127.77 L496.28,128.05 L496.8,127.74 L497.31,128.89 L497.82,128.57 L498.33,129.47 L498.84,128.46 L499.36,128.6 L499.87,130.34 L500.38,128.94 L500.89,130.72 L501.4,129.13 L501.92,129.91 L502.43,130.16 L502.94,130.21 L503.45,130.36 L503.97,131.06 L504.48,130.55 L504.99,130.25 L505.5,130.7 L506.01,131.12 L506.53,131.37 L507.04,132.53 L507.55,131.11 L508.06,132.14 L508.57,132.75 L509.09,131.6 L509.6,132.57 L510.11,131.85 L510.62,131.02 L511.13,132.26 L511.65,131.14 L512.16,131.08 L512.67,131.76 L513.18,132.02 L513.7,132.4 L514.21,132.96 L514.72,132.57 L515.23,132.22 L515.74,132.28 L516.26,132.44 L516.77,132.79 L517.28,132.65 L517.79,130.82 L518.3,132.91 L518.82,132.03 L519.33,132.12 L519.84,132.16 L520.35,132.01 L520.86,132.81 L521.38,132.95 L521.89,132.16 L522.4,132.3 L522.91,131.98 L523.43,132.69 L523.94,132.68 L524.45,132.07 L524.96,133.27 L525.47,132.77 L525.99,133.04 L526.5,133.41 L527.01,133.34 L527.52,132.2 L528.03,133.19 L528.55,134.09 L529.06,133.26 L529.57,133.12 L530.08,132.84 L530.59,133.86 L531.11,132.95 L531.62,133.23 L532.13,132.88 L532.64,132.47 L533.16,132.86 L533.67,133.18 L534.18,133.45 L534.69,133.63 L535.2,132.19 L535.72,132.7 L536.23,134.55 L536.74,133.05 L537.25,133.16 L537.76,133.28 L538.28,133.9 L538.79,133.39 L539.3,133.66 L539.81,133.09 L540.32,133.34 L540.84,134.09 L541.35,133.86 L541.86,133.22 L542.37,132.7 L542.89,133.95 L543.4,133.16 L543.91,132.86 L544.42,134.08 L544.93,132.82 L545.45,133.25 L545.96,134.11 L546.26,133.26 L546.26,136.76 L545.96,135.83 L545.45,136.65 L544.93,137.54 L544.42,136.36 L543.91,135.69 L543.4,136.94 L542.89,136.69 L542.37,136.89 L541.86,136.33 L541.35,136.72 L540.84,136.5 L540.32,135.5 L539.81,135.95 L539.3,137.17 L538.79,137.13 L538.28,136.84 L537.76,137.25 L537.25,137.27 L536.74,136.02 L536.23,137.73 L535.72,137.31 L535.2,136.81 L534.69,135.53 L534.18,137.39 L533.67,137.31 L533.16,136.98 L532.64,137.69 L532.13,136.67 L531.62,136.66 L531.11,136.23 L530.59,137.74 L530.08,137 L529.57,136.86 L529.06,136.69 L528.55,136.35 L528.03,136.8 L527.52,137.7 L527.01,138.52 L526.5,137.31 L525.99,137.87 L525.47,137.11 L524.96,136.81 L524.45,137.03 L523.94,137.02 L523.43,136.91 L522.91,137.84 L522.4,135.92 L521.89,137.54 L521.38,136.82 L520.86,137.34 L520.35,136.65 L519.84,136.64 L519.33,136.97 L518.82,136.99 L518.3,136.43 L517.79,137.24 L517.28,137.36 L516.77,137.49 L516.26,137.64 L515.74,136.57 L515.23,137.55 L514.72,138.63 L514.21,136.56 L513.7,137.8 L513.18,137.41 L512.67,136.91 L512.16,137.56 L511.65,136.71 L511.13,137.55 L510.62,138.93 L510.11,137.82 L509.6,136.79 L509.09,136.36 L508.57,137.88 L508.06,137.6 L507.55,136.47 L507.04,136.96 L506.53,136.48 L506.01,137.83 L505.5,137.02 L504.99,135.7 L504.48,135.79 L503.97,134.7 L503.45,136.98 L502.94,135.73 L502.43,135.39 L501.92,135.44 L501.4,135.98 L500.89,134.97 L500.38,135.25 L499.87,134.79 L499.36,135.05 L498.84,134.81 L498.33,134.34 L497.82,135.97 L497.31,135.84 L496.8,135.62 L496.28,135.99 L495.77,135.52 L495.26,136.85 L494.75,135.38 L494.24,135.83 L493.72,135.73 L493.21,135.35 L492.7,135.49 L492.19,135.72 L491.68,135.45 L491.16,135.86 L490.65,135.18 L490.14,135.18 L489.63,135.36 L489.11,134.99 L488.6,136.53 L488.09,135.47 L487.58,135.84 L487.07,135.29 L486.55,135.05 L486.04,134.91 L485.53,134.67 L485.02,134.86 L484.51,134.4 L483.99,133.74 L483.48,133.58 L482.97,134.16 L482.46,133.4 L481.95,133.5 L481.43,132.96 L480.92,133.02 L480.41,132.06 L479.9,132.2 L479.38,132.05 L478.87,132.53 L478.36,132.4 L477.85,131.05 L477.34,131.91 L476.82,132.2 L476.31,130.97 L475.8,131.24 L475.29,132.38 L474.78,131.36 L474.26,132.46 L473.75,131.23 L473.24,131.44 L472.73,130.44 L472.22,130.88 L471.7,130.04 L471.19,130.19 L470.68,130.48 L470.17,129.9 L469.65,129.59 L469.14,129.22 L468.63,130.58 L468.12,129.5 L467.61,129.83 L467.09,129.51 L466.58,129.81 L466.07,128.53 L465.56,128.62 L465.05,128.82 L464.53,128.31 L464.02,128.3 L463.51,128.01 L463,127.76 L462.49,127.95 L461.97,126.32 L461.46,127.24 L460.95,127.21 L460.44,126.97 L459.92,126.77 L459.41,124.79 L458.9,125.47 L458.39,125.75 L457.88,123.95 L457.36,124.48 L456.85,124.29 L456.34,123.75 L455.83,123.29 L455.32,123.35 L454.8,122.08 L454.29,121.65 L453.78,122.03 L453.27,120.87 L452.76,119.82 L452.24,119.38 L451.73,118.76 L451.22,117.87 L450.71,117.59 L450.19,116.94 L449.68,117.03 L449.17,115.29 L448.66,115.51 L448.15,115.5 L447.63,114.58 L447.12,113.2 L446.61,112.81 L446.1,110.51 L445.59,110.65 L445.07,109.67 L444.56,108.63 L444.05,108.23 L443.54,108.52 L443.03,107.63 L442.51,106.51 L442,105.24 L441.49,104.51 L440.98,103.5 L440.47,103 L439.95,102.72 L439.44,100.81 L438.93,101.21 L438.42,99.81 L437.9,100.4 L437.39,99.44 L436.88,98.42 L436.37,98.49 L435.86,95.91 L435.34,96.51 L434.83,94.86 L434.32,95.21 L433.81,97 L433.3,97.54 L432.78,98.13 L432.27,98.76 L431.76,98.25 L431.25,98.92 L430.74,98.58 L430.22,99.13 L429.71,99.14 L429.2,99.37 L428.69,99.7 L428.17,100.28 L427.66,102.07 L427.15,103.46 L426.64,104.54 L426.13,104.76 L425.61,105.65 L425.1,105.02 L424.59,102.63 L424.08,100.15 L423.57,98.79 L423.05,97.6 L422.54,95.77 L422.03,92.46 L421.52,90.86 L421.01,94.99 L420.49,116.16 L419.98,133.8 L419.47,134.14 L418.96,134.25 L418.44,135.17 L417.93,134.59 L417.42,133.72 L416.91,135.01 L416.4,134.83 L415.88,133.98 L415.37,135.3 L414.86,134.82 L414.35,134.82 L413.84,135.73 L413.32,134.86 L412.81,134.12 L412.3,134.44 L411.79,134.84 L411.28,134.09 L410.76,134.83 L410.25,135.51 L409.74,134.16 L409.23,134.7 L408.71,133.88 L408.2,135.2 L407.69,135.53 L407.18,134.69 L406.67,134.52 L406.15,134.57 L405.64,134.15Z" fill="rgba(249,241,203,0.82)"/>
<path d="M405.64,133.53 L406.15,133.42 L406.67,133.36 L407.18,133.46 L407.69,133.54 L408.2,134.37 L408.71,133.98 L409.23,133.69 L409.74,135.2 L410.25,132.65 L410.76,133.95 L411.28,134.31 L411.79,134.7 L412.3,133.63 L412.81,133.74 L413.32,134.06 L413.84,133.97 L414.35,134.22 L414.86,134.15 L415.37,133.81 L415.88,134.09 L416.4,133.4 L416.91,133.83 L417.42,133.69 L417.93,133.55 L418.44,133.1 L418.96,133.44 L419.47,133.64 L419.98,133.32 L420.49,112.57 L421.01,86.45 L421.52,79.76 L422.03,82.92 L422.54,86.36 L423.05,88.67 L423.57,90.41 L424.08,91.75 L424.59,93.86 L425.1,96.28 L425.61,98.09 L426.13,96.49 L426.64,94.91 L427.15,93.87 L427.66,91.41 L428.17,89.86 L428.69,88.46 L429.2,87.17 L429.71,84.93 L430.22,84.41 L430.74,84.36 L431.25,83.49 L431.76,81.38 L432.27,80.29 L432.78,79.47 L433.3,77.21 L433.81,77.03 L434.32,76.42 L434.83,74.51 L435.34,74.97 L435.86,75.55 L436.37,76.87 L436.88,78.75 L437.39,80.19 L437.9,80.85 L438.42,80.87 L438.93,82.75 L439.44,82.41 L439.95,84.14 L440.47,86.14 L440.98,86.79 L441.49,87.95 L442,89.85 L442.51,91.39 L443.03,90.67 L443.54,91.96 L444.05,91.81 L444.56,93.82 L445.07,93.78 L445.59,95.1 L446.1,96.47 L446.61,96.88 L447.12,97.72 L447.63,99.11 L448.15,100.39 L448.66,100.54 L449.17,102.31 L449.68,101.76 L450.19,102.28 L450.71,102.09 L451.22,103.07 L451.73,104.06 L452.24,104.92 L452.76,105.92 L453.27,107.53 L453.78,106.95 L454.29,108.24 L454.8,109.34 L455.32,110.33 L455.83,109.33 L456.34,110.15 L456.85,111.46 L457.36,110.99 L457.88,110.92 L458.39,112.53 L458.9,112.95 L459.41,114.04 L459.92,114.8 L460.44,114.54 L460.95,114.07 L461.46,116.12 L461.97,116.69 L462.49,116.56 L463,117.36 L463.51,117.02 L464.02,117.21 L464.53,118.45 L465.05,118.79 L465.56,118.62 L466.07,118.52 L466.58,119.19 L467.09,119.07 L467.61,120.8 L468.12,120.18 L468.63,121.08 L469.14,121 L469.65,121.13 L470.17,122 L470.68,121.75 L471.19,122.36 L471.7,121.78 L472.22,122.55 L472.73,122.57 L473.24,122.43 L473.75,123.12 L474.26,122.43 L474.78,123.58 L475.29,123.02 L475.8,123.5 L476.31,124.34 L476.82,124.04 L477.34,124.48 L477.85,124.38 L478.36,124.52 L478.87,123.64 L479.38,125.03 L479.9,124.25 L480.41,125.09 L480.92,126.29 L481.43,127.1 L481.95,125.86 L482.46,127.55 L482.97,126.45 L483.48,126.59 L483.99,127.21 L484.51,127.81 L485.02,128.09 L485.53,128.07 L486.04,128.59 L486.55,128.91 L487.07,129 L487.58,128.34 L488.09,129.38 L488.6,128.97 L489.11,129.89 L489.63,129.81 L490.14,130.32 L490.65,129.9 L491.16,129.64 L491.68,130.05 L492.19,130.67 L492.7,130.32 L493.21,131.02 L493.72,130.86 L494.24,131.1 L494.75,131.14 L495.26,132.87 L495.77,132.41 L496.28,131.46 L496.8,132.01 L497.31,130.86 L497.82,132.21 L498.33,132.45 L498.84,131.47 L499.36,132.05 L499.87,131.46 L500.38,132.28 L500.89,132.76 L501.4,132.41 L501.92,133.31 L502.43,133.27 L502.94,133.46 L503.45,133.42 L503.97,133.04 L504.48,133.83 L504.99,133.55 L505.5,134.11 L506.01,133.53 L506.53,135.53 L507.04,134.34 L507.55,134.26 L508.06,135.02 L508.57,134.04 L509.09,134.54 L509.6,134.08 L510.11,134.32 L510.62,134.55 L511.13,135.02 L511.65,135.51 L512.16,135.06 L512.67,135.18 L513.18,134.82 L513.7,135.18 L514.21,133.37 L514.72,135.77 L515.23,134.34 L515.74,135.19 L516.26,135.07 L516.77,134.47 L517.28,134.94 L517.79,135.57 L518.3,134.73 L518.82,135.05 L519.33,136.01 L519.84,134.84 L520.35,135.49 L520.86,135.33 L521.38,134.7 L521.89,134.79 L522.4,135.09 L522.91,133.82 L523.43,134.73 L523.94,135.26 L524.45,134.82 L524.96,135.01 L525.47,136.08 L525.99,135.76 L526.5,135.66 L527.01,133.88 L527.52,135.04 L528.03,135.09 L528.55,135.24 L529.06,134.44 L529.57,134.93 L530.08,134.06 L530.59,134.54 L531.11,134.1 L531.62,135.01 L532.13,134.75 L532.64,135.17 L533.16,135.03 L533.67,135.84 L534.18,135.24 L534.69,135.43 L535.2,135.28 L535.72,134.32 L536.23,134.81 L536.74,134.31 L537.25,134.5 L537.76,134.47 L538.28,134.43 L538.79,135.26 L539.3,134.53 L539.81,135.11 L540.32,135.22 L540.84,134.33 L541.35,133.83 L541.86,135.45 L542.37,134.05 L542.89,134.52 L543.4,135.38 L543.91,134.8 L544.42,134.75 L544.93,134.75 L545.45,135.13 L545.96,135.61 L546.26,134.93" fill="none" stroke="#ab7f3a" stroke-width="0.9" stroke-linejoin="round"/>
<line x1="405.5" y1="44.4" x2="405.5" y2="148.6" stroke="#7a7a7a" stroke-width="0.9"/>
<line x1="405.5" y1="148.6" x2="546.4" y2="148.6" stroke="#7a7a7a" stroke-width="0.9"/>
<line x1="404.1" y1="148.6" x2="405.5" y2="148.6" stroke="#7a7a7a" stroke-width="0.8"/>
<text x="401.8" y="151.5" font-size="8.1" fill="#333" text-anchor="end" stroke="#333" stroke-width="0.22">-5</text>
<line x1="404.1" y1="133.76" x2="405.5" y2="133.76" stroke="#7a7a7a" stroke-width="0.8"/>
<text x="401.8" y="136.66" font-size="8.1" fill="#333" text-anchor="end" stroke="#333" stroke-width="0.22">0</text>
<line x1="404.1" y1="118.91" x2="405.5" y2="118.91" stroke="#7a7a7a" stroke-width="0.8"/>
<text x="401.8" y="121.81" font-size="8.1" fill="#333" text-anchor="end" stroke="#333" stroke-width="0.22">5</text>
<line x1="404.1" y1="104.07" x2="405.5" y2="104.07" stroke="#7a7a7a" stroke-width="0.8"/>
<text x="401.8" y="106.97" font-size="8.1" fill="#333" text-anchor="end" stroke="#333" stroke-width="0.22">10</text>
<line x1="404.1" y1="89.23" x2="405.5" y2="89.23" stroke="#7a7a7a" stroke-width="0.8"/>
<text x="401.8" y="92.13" font-size="8.1" fill="#333" text-anchor="end" stroke="#333" stroke-width="0.22">15</text>
<line x1="404.1" y1="74.39" x2="405.5" y2="74.39" stroke="#7a7a7a" stroke-width="0.8"/>
<text x="401.8" y="77.29" font-size="8.1" fill="#333" text-anchor="end" stroke="#333" stroke-width="0.22">20</text>
<line x1="404.1" y1="59.54" x2="405.5" y2="59.54" stroke="#7a7a7a" stroke-width="0.8"/>
<text x="401.8" y="62.44" font-size="8.1" fill="#333" text-anchor="end" stroke="#333" stroke-width="0.22">25</text>
<line x1="404.1" y1="44.7" x2="405.5" y2="44.7" stroke="#7a7a7a" stroke-width="0.8"/>
<text x="401.8" y="47.6" font-size="8.1" fill="#333" text-anchor="end" stroke="#333" stroke-width="0.22">30</text>
<line x1="419.3" y1="148.6" x2="419.3" y2="150.2" stroke="#7a7a7a" stroke-width="0.8"/>
<text x="419.3" y="160.1" font-size="8.1" fill="#333" text-anchor="middle" stroke="#333" stroke-width="0.22">0</text>
<line x1="447.75" y1="148.6" x2="447.75" y2="150.2" stroke="#7a7a7a" stroke-width="0.8"/>
<text x="447.75" y="160.1" font-size="8.1" fill="#333" text-anchor="middle" stroke="#333" stroke-width="0.22">10</text>
<line x1="476.2" y1="148.6" x2="476.2" y2="150.2" stroke="#7a7a7a" stroke-width="0.8"/>
<text x="476.2" y="160.1" font-size="8.1" fill="#333" text-anchor="middle" stroke="#333" stroke-width="0.22">20</text>
<line x1="504.65" y1="148.6" x2="504.65" y2="150.2" stroke="#7a7a7a" stroke-width="0.8"/>
<text x="504.65" y="160.1" font-size="8.1" fill="#333" text-anchor="middle" stroke="#333" stroke-width="0.22">30</text>
<line x1="533.1" y1="148.6" x2="533.1" y2="150.2" stroke="#7a7a7a" stroke-width="0.8"/>
<text x="533.1" y="160.1" font-size="8.1" fill="#333" text-anchor="middle" stroke="#333" stroke-width="0.22">40</text>
<text x="420.5" y="145.1" font-size="7.1" fill="#111" stroke="#111" stroke-width="0.22">DBS</text>
<text x="390.3" y="88.3" font-size="13.9" fill="#2c2c2c" text-anchor="middle" transform="rotate(-90 390.3 88.3)" stroke="#2c2c2c" stroke-width="0.18">z-score</text>
<text x="545.6" y="172.2" font-size="14" fill="#2c2c2c" text-anchor="end" stroke="#2c2c2c" stroke-width="0.18">Time interval (s)</text>
<rect x="75.35" y="217.8" width="13.5" height="104.2" fill="#e9e9e9"/>
<path d="M60.64,305.92 L61.15,305.99 L61.66,306.56 L62.17,306.1 L62.68,306.17 L63.18,306.18 L63.69,306.97 L64.2,305.37 L64.71,306.85 L65.22,306.71 L65.73,306.14 L66.23,306.06 L66.74,305.87 L67.25,306.52 L67.76,306.11 L68.27,306.45 L68.78,306.74 L69.29,306.25 L69.79,306.21 L70.3,306.12 L70.81,306.62 L71.32,306.09 L71.83,306.07 L72.34,306.17 L72.85,305.88 L73.35,306.35 L73.86,306.2 L74.37,306.31 L74.88,306.33 L75.39,304.36 L75.9,295.94 L76.4,288.65 L76.91,290.01 L77.42,289.87 L77.93,290.52 L78.44,290.95 L78.95,291.39 L79.46,291.92 L79.96,293.16 L80.47,293.1 L80.98,294.15 L81.49,294.18 L82,294.4 L82.51,294.69 L83.02,295.1 L83.52,294.23 L84.03,294.02 L84.54,293.5 L85.05,293.45 L85.56,292.7 L86.07,293.03 L86.57,292.72 L87.08,292.76 L87.59,293.07 L88.1,292.35 L88.61,292.5 L89.12,291.76 L89.63,291.2 L90.13,291.93 L90.64,292.16 L91.15,292 L91.66,291.39 L92.17,291.29 L92.68,291.51 L93.19,291.54 L93.69,292 L94.2,291.83 L94.71,292.2 L95.22,292.25 L95.73,292.11 L96.24,292.85 L96.74,293.48 L97.25,293.16 L97.76,293.32 L98.27,294.21 L98.78,294.31 L99.29,294.75 L99.8,295.69 L100.3,295.73 L100.81,295.34 L101.32,295.92 L101.83,296.47 L102.34,297.02 L102.85,297.03 L103.36,298.42 L103.86,298.12 L104.37,298.01 L104.88,298.25 L105.39,299.19 L105.9,298.27 L106.41,298.34 L106.91,299.73 L107.42,299.34 L107.93,299.36 L108.44,299.78 L108.95,299.04 L109.46,300.17 L109.97,299.04 L110.47,300.02 L110.98,300.56 L111.49,299.71 L112,300.32 L112.51,300.57 L113.02,299.93 L113.53,300.52 L114.03,301.07 L114.54,301.6 L115.05,301.47 L115.56,301.42 L116.07,301.95 L116.58,301.22 L117.08,301.68 L117.59,302.66 L118.1,302.25 L118.61,302.26 L119.12,302.92 L119.63,302.32 L120.14,302.21 L120.64,302.37 L121.15,302.58 L121.66,302.66 L122.17,302.76 L122.68,301.81 L123.19,302.64 L123.7,302.58 L124.2,303.02 L124.71,302.69 L125.22,303.23 L125.73,302.73 L126.24,302.83 L126.75,303.76 L127.25,303.57 L127.76,303.29 L128.27,303.25 L128.78,303.81 L129.29,303.36 L129.8,303.93 L130.31,303.75 L130.81,303.69 L131.32,303.53 L131.83,303.37 L132.34,304.13 L132.85,303.68 L133.36,303.27 L133.87,303.7 L134.37,304.29 L134.88,303.53 L135.39,304.36 L135.9,304.17 L136.41,303.77 L136.92,303.3 L137.42,304.06 L137.93,303.76 L138.44,303.59 L138.95,304.3 L139.46,304.25 L139.97,303.66 L140.48,303.55 L140.98,304.59 L141.49,304.12 L142,304.28 L142.51,304 L143.02,303.74 L143.53,303.59 L144.04,303.9 L144.54,303.3 L145.05,303.95 L145.56,304.36 L146.07,303.55 L146.58,304.07 L147.09,303.95 L147.59,304.47 L148.1,303.98 L148.61,303.92 L149.12,304.38 L149.63,303.84 L150.14,304 L150.65,303.79 L151.15,303.46 L151.66,303.79 L152.17,303.61 L152.68,304.59 L153.19,303.33 L153.7,303.79 L154.21,304.22 L154.71,304.22 L155.22,303.88 L155.73,303.83 L156.24,303.85 L156.75,303.41 L157.26,303.61 L157.76,304.14 L158.27,304.42 L158.78,304.35 L159.29,304.52 L159.8,303.94 L160.31,303.41 L160.82,303.75 L161.32,303.93 L161.83,304.26 L162.34,304.6 L162.85,304.19 L163.36,304.22 L163.87,304.34 L164.38,303.91 L164.88,304.5 L165.39,303.95 L165.9,304.04 L166.41,304.66 L166.92,303.57 L167.43,303.4 L167.93,304.26 L168.44,303.95 L168.95,303.47 L169.46,304.28 L169.97,304.23 L170.48,303.95 L170.99,303.91 L171.49,304.01 L172,304.71 L172.51,304.11 L173.02,304.12 L173.53,303.91 L174.04,305.35 L174.55,303.74 L175.05,304.95 L175.56,304.18 L176.07,304.7 L176.58,304.25 L177.09,303.55 L177.6,304.55 L178.1,303.97 L178.61,304.39 L179.12,304.1 L179.63,304.33 L180.14,304.28 L180.65,304.43 L181.16,304.1 L181.66,304.51 L182.17,304.08 L182.68,304.14 L183.19,304.96 L183.7,304.95 L184.21,304.38 L184.72,304.17 L185.22,304.09 L185.73,304.31 L186.24,304.95 L186.75,304.86 L187.26,304.63 L187.77,304.53 L188.27,304.88 L188.78,304.79 L189.29,304.51 L189.8,304.69 L190.31,304.06 L190.82,304.67 L191.33,304.5 L191.83,304.53 L192.34,304.43 L192.85,304.99 L193.36,304.45 L193.87,303.97 L194.38,304.51 L194.89,304.57 L195.39,304.53 L195.9,304.17 L196.41,304.4 L196.92,304.61 L197.43,304.65 L197.94,304.11 L198.44,304.42 L198.95,304.45 L199.46,304.18 L199.97,304.07 L200.48,303.99 L200.99,305.32 L201.26,305.19 L201.26,308.32 L200.99,308.54 L200.48,308.3 L199.97,308.82 L199.46,307.92 L198.95,307.94 L198.44,307.71 L197.94,308.4 L197.43,308.48 L196.92,308.25 L196.41,308.44 L195.9,308.52 L195.39,307.79 L194.89,307.48 L194.38,308.28 L193.87,308.41 L193.36,308.27 L192.85,308.75 L192.34,308.96 L191.83,307.96 L191.33,307.26 L190.82,308.38 L190.31,307.7 L189.8,308.69 L189.29,307.79 L188.78,308.81 L188.27,308.24 L187.77,308.43 L187.26,308.26 L186.75,308.73 L186.24,308.18 L185.73,308.14 L185.22,308.02 L184.72,308.51 L184.21,308.05 L183.7,308.26 L183.19,308.84 L182.68,308.18 L182.17,308.6 L181.66,308.29 L181.16,308.86 L180.65,308.28 L180.14,307.85 L179.63,308.27 L179.12,308.95 L178.61,308.67 L178.1,308.36 L177.6,309.15 L177.09,308.22 L176.58,308.06 L176.07,308.49 L175.56,308.2 L175.05,308.23 L174.55,308.66 L174.04,308.13 L173.53,307.82 L173.02,308.23 L172.51,308.7 L172,307.73 L171.49,308.27 L170.99,308.35 L170.48,307.91 L169.97,308.01 L169.46,308.84 L168.95,308.29 L168.44,308.25 L167.93,308.91 L167.43,308.61 L166.92,308.45 L166.41,308.56 L165.9,308.09 L165.39,307.83 L164.88,308.4 L164.38,307.82 L163.87,308.2 L163.36,308.18 L162.85,308.75 L162.34,308.22 L161.83,308.35 L161.32,308.4 L160.82,308.46 L160.31,308.41 L159.8,307.68 L159.29,308.44 L158.78,308.59 L158.27,308.83 L157.76,308.36 L157.26,308.35 L156.75,308.31 L156.24,308.84 L155.73,307.77 L155.22,307.82 L154.71,308.04 L154.21,308.69 L153.7,308.29 L153.19,308.29 L152.68,308.68 L152.17,308.33 L151.66,308.25 L151.15,308.47 L150.65,308.75 L150.14,308.62 L149.63,308.81 L149.12,309.36 L148.61,308.34 L148.1,308.26 L147.59,308.91 L147.09,308.38 L146.58,308.99 L146.07,308.11 L145.56,309.11 L145.05,309.19 L144.54,308.99 L144.04,308.95 L143.53,308.1 L143.02,309.2 L142.51,307.86 L142,308.28 L141.49,308.96 L140.98,308.56 L140.48,308.41 L139.97,308.32 L139.46,309.24 L138.95,308.65 L138.44,307.9 L137.93,308.88 L137.42,308.28 L136.92,308.78 L136.41,308.9 L135.9,308.94 L135.39,309.25 L134.88,308.3 L134.37,308.14 L133.87,308.99 L133.36,308.24 L132.85,308.14 L132.34,307.71 L131.83,308.76 L131.32,308.44 L130.81,308.52 L130.31,308.35 L129.8,307.67 L129.29,308.54 L128.78,308.43 L128.27,308.63 L127.76,308.02 L127.25,308.67 L126.75,307.97 L126.24,307.42 L125.73,308.22 L125.22,307.93 L124.71,307.97 L124.2,307.79 L123.7,308.22 L123.19,307.85 L122.68,308.33 L122.17,307.81 L121.66,308.04 L121.15,308.37 L120.64,308.32 L120.14,307.85 L119.63,308.48 L119.12,308.43 L118.61,307.87 L118.1,308.55 L117.59,307.33 L117.08,308.39 L116.58,307.88 L116.07,307.82 L115.56,307.93 L115.05,307.76 L114.54,307.06 L114.03,307.37 L113.53,306.84 L113.02,307.32 L112.51,306.81 L112,306.96 L111.49,307.12 L110.98,306.44 L110.47,306.94 L109.97,306.18 L109.46,305.57 L108.95,306.44 L108.44,306.18 L107.93,306.27 L107.42,305.53 L106.91,305.54 L106.41,305.55 L105.9,306.04 L105.39,305.09 L104.88,305.94 L104.37,305.21 L103.86,304.92 L103.36,304.78 L102.85,303.87 L102.34,304.28 L101.83,304.1 L101.32,303.58 L100.81,303.36 L100.3,302.72 L99.8,303.25 L99.29,301.9 L98.78,302.59 L98.27,302.03 L97.76,301.86 L97.25,301.37 L96.74,301.98 L96.24,301.5 L95.73,300.72 L95.22,300.86 L94.71,299.96 L94.2,300.32 L93.69,300.86 L93.19,301.05 L92.68,300.78 L92.17,300.88 L91.66,301.54 L91.15,300.68 L90.64,301.73 L90.13,301.18 L89.63,301.58 L89.12,301.87 L88.61,300.92 L88.1,301.78 L87.59,301.21 L87.08,301.18 L86.57,301.04 L86.07,300.63 L85.56,301.47 L85.05,301.44 L84.54,301.52 L84.03,301.65 L83.52,301.98 L83.02,301.59 L82.51,301.89 L82,301.24 L81.49,301.05 L80.98,299.79 L80.47,298.92 L79.96,297.78 L79.46,296.76 L78.95,296.71 L78.44,294.87 L77.93,295.07 L77.42,294.65 L76.91,293.26 L76.4,292.88 L75.9,297.41 L75.39,306.03 L74.88,307.84 L74.37,308.19 L73.86,307.43 L73.35,307.92 L72.85,308.14 L72.34,308.03 L71.83,308.38 L71.32,308.31 L70.81,308.38 L70.3,308.02 L69.79,307.52 L69.29,308.13 L68.78,308.36 L68.27,308.13 L67.76,308.1 L67.25,308.04 L66.74,307.94 L66.23,307.78 L65.73,307.42 L65.22,308.24 L64.71,307.96 L64.2,307.93 L63.69,308.02 L63.18,307.29 L62.68,307.83 L62.17,307.66 L61.66,308.02 L61.15,307.63 L60.64,307.74Z" fill="rgba(130,210,180,0.32)"/>
<path d="M60.64,307.82 L61.15,307.59 L61.66,306.97 L62.17,307.04 L62.68,307.49 L63.18,307.23 L63.69,307.16 L64.2,307.08 L64.71,307.12 L65.22,307.22 L65.73,306.7 L66.23,307.88 L66.74,307.35 L67.25,307.05 L67.76,307.3 L68.27,307.38 L68.78,307.32 L69.29,307.01 L69.79,306.52 L70.3,307.2 L70.81,307.24 L71.32,306.95 L71.83,307.23 L72.34,308.03 L72.85,306.99 L73.35,307.29 L73.86,307.39 L74.37,306.82 L74.88,307.09 L75.39,305.62 L75.9,297.9 L76.4,291.9 L76.91,291.45 L77.42,292 L77.93,292.34 L78.44,293.12 L78.95,294.19 L79.46,295.33 L79.96,296.01 L80.47,296.28 L80.98,297.42 L81.49,297.08 L82,298.53 L82.51,299.02 L83.02,298.18 L83.52,298.81 L84.03,297.05 L84.54,298.14 L85.05,297.53 L85.56,297.45 L86.07,297.55 L86.57,297.85 L87.08,297.76 L87.59,296.36 L88.1,296.21 L88.61,295.63 L89.12,297.32 L89.63,296.32 L90.13,296.54 L90.64,296.07 L91.15,296.66 L91.66,296.01 L92.17,295.87 L92.68,295.95 L93.19,295.5 L93.69,296.23 L94.2,295.38 L94.71,296.48 L95.22,295.55 L95.73,297.92 L96.24,296.92 L96.74,297.66 L97.25,297.65 L97.76,297.51 L98.27,297.97 L98.78,298.52 L99.29,297.95 L99.8,299.64 L100.3,299.57 L100.81,298.78 L101.32,299.7 L101.83,301.23 L102.34,300.48 L102.85,301.59 L103.36,300.68 L103.86,301.14 L104.37,302.19 L104.88,301.45 L105.39,302.53 L105.9,301.76 L106.41,302.01 L106.91,302.43 L107.42,303.14 L107.93,302.7 L108.44,303.77 L108.95,303.06 L109.46,303.8 L109.97,302.47 L110.47,303.64 L110.98,304.47 L111.49,303.17 L112,303.42 L112.51,303.97 L113.02,302.86 L113.53,303.64 L114.03,304.12 L114.54,304.59 L115.05,305.82 L115.56,304.31 L116.07,304.2 L116.58,305.05 L117.08,305.55 L117.59,304.99 L118.1,305.86 L118.61,305.14 L119.12,304.85 L119.63,304.57 L120.14,305.21 L120.64,305.25 L121.15,305.01 L121.66,304.71 L122.17,305.55 L122.68,306.01 L123.19,305.82 L123.7,306.07 L124.2,305.92 L124.71,305.58 L125.22,305.39 L125.73,305.51 L126.24,305.58 L126.75,305.82 L127.25,305.48 L127.76,305.29 L128.27,305.38 L128.78,305.06 L129.29,305.95 L129.8,305.96 L130.31,305.07 L130.81,305.81 L131.32,305.74 L131.83,306.13 L132.34,305.54 L132.85,306.22 L133.36,306.54 L133.87,306.11 L134.37,306.32 L134.88,305.73 L135.39,306.33 L135.9,306.11 L136.41,306.29 L136.92,306.04 L137.42,306.52 L137.93,305.69 L138.44,306.9 L138.95,306.4 L139.46,306.56 L139.97,305.91 L140.48,306.2 L140.98,305.99 L141.49,306.38 L142,306.56 L142.51,306.75 L143.02,306.38 L143.53,306.48 L144.04,306.09 L144.54,306.05 L145.05,305.76 L145.56,306.27 L146.07,306.58 L146.58,306.73 L147.09,306.19 L147.59,306.05 L148.1,305.29 L148.61,306.13 L149.12,305.38 L149.63,305.33 L150.14,306.72 L150.65,305.64 L151.15,305.68 L151.66,305.58 L152.17,306.23 L152.68,305.77 L153.19,306.45 L153.7,306.25 L154.21,306.21 L154.71,305.37 L155.22,306.32 L155.73,305.77 L156.24,306.19 L156.75,306.56 L157.26,306.11 L157.76,305.91 L158.27,306.56 L158.78,305.92 L159.29,306.56 L159.8,306.64 L160.31,306.12 L160.82,306.34 L161.32,306.69 L161.83,307 L162.34,306.22 L162.85,306.12 L163.36,306.45 L163.87,306.15 L164.38,306.97 L164.88,306.05 L165.39,306.05 L165.9,306.11 L166.41,306.54 L166.92,306.21 L167.43,306.19 L167.93,305.75 L168.44,306.13 L168.95,306.14 L169.46,306.61 L169.97,305.86 L170.48,305.72 L170.99,306.51 L171.49,305.98 L172,306.14 L172.51,306.31 L173.02,306.9 L173.53,305.46 L174.04,307.19 L174.55,306.16 L175.05,306.49 L175.56,305.77 L176.07,306.52 L176.58,306.3 L177.09,306.03 L177.6,306.11 L178.1,306.58 L178.61,306.01 L179.12,306.15 L179.63,305.87 L180.14,306.59 L180.65,306.37 L181.16,306.54 L181.66,306.76 L182.17,306.24 L182.68,306.18 L183.19,305.7 L183.7,306.53 L184.21,306.2 L184.72,305.84 L185.22,306.45 L185.73,306.37 L186.24,306.34 L186.75,306.73 L187.26,306.88 L187.77,305.88 L188.27,306.33 L188.78,306.46 L189.29,307.01 L189.8,306.37 L190.31,305.88 L190.82,306.98 L191.33,306.86 L191.83,305.92 L192.34,305.77 L192.85,305.71 L193.36,306.72 L193.87,306.17 L194.38,306.82 L194.89,306.22 L195.39,306.64 L195.9,306.38 L196.41,305.84 L196.92,306.32 L197.43,306.6 L197.94,306.46 L198.44,306.36 L198.95,306.73 L199.46,306.4 L199.97,306.21 L200.48,305.76 L200.99,307.48 L201.26,307.07" fill="none" stroke="#3f9481" stroke-width="0.9" stroke-linejoin="round"/>
<path d="M60.64,305.39 L61.15,303.43 L61.66,304.67 L62.17,306.03 L62.68,306.39 L63.18,305 L63.69,304.55 L64.2,304.14 L64.71,304.53 L65.22,304.97 L65.73,305.17 L66.23,304.22 L66.74,304.2 L67.25,304 L67.76,304.76 L68.27,305.51 L68.78,304.47 L69.29,303.74 L69.79,304.56 L70.3,305.43 L70.81,304.59 L71.32,304.7 L71.83,305.24 L72.34,305.68 L72.85,305.29 L73.35,304.32 L73.86,304.22 L74.37,303.61 L74.88,304.65 L75.39,301.06 L75.9,278.86 L76.4,265.73 L76.91,264.82 L77.42,266.09 L77.93,265.68 L78.44,266.52 L78.95,266.13 L79.46,266.66 L79.96,266.57 L80.47,268.43 L80.98,268.69 L81.49,268.02 L82,266.56 L82.51,261.97 L83.02,260.05 L83.52,257.36 L84.03,254.35 L84.54,253.13 L85.05,250.29 L85.56,246.15 L86.07,243.81 L86.57,240.39 L87.08,239.03 L87.59,235.13 L88.1,233.58 L88.61,231.59 L89.12,227.68 L89.63,224.65 L90.13,222 L90.64,223.19 L91.15,224.54 L91.66,227.66 L92.17,232.3 L92.68,235.43 L93.19,237.99 L93.69,239.92 L94.2,241.23 L94.71,240.84 L95.22,242.23 L95.73,243.06 L96.24,243.32 L96.74,244.68 L97.25,245.07 L97.76,245.45 L98.27,246.92 L98.78,246.48 L99.29,247.85 L99.8,248.49 L100.3,248.99 L100.81,249.9 L101.32,251.3 L101.83,252.06 L102.34,252.14 L102.85,253.64 L103.36,255.04 L103.86,255.61 L104.37,256.32 L104.88,256.11 L105.39,256.7 L105.9,258.06 L106.41,258.31 L106.91,259.17 L107.42,260.39 L107.93,260.41 L108.44,261.72 L108.95,263.15 L109.46,263.92 L109.97,264.35 L110.47,264.71 L110.98,265.52 L111.49,265.93 L112,266.7 L112.51,267.68 L113.02,267.79 L113.53,269.02 L114.03,269.92 L114.54,270.59 L115.05,272.36 L115.56,271.64 L116.07,273.38 L116.58,274.95 L117.08,276.21 L117.59,276.08 L118.1,277.22 L118.61,277.5 L119.12,278.19 L119.63,279.12 L120.14,279.06 L120.64,279.78 L121.15,279.08 L121.66,280.02 L122.17,280.91 L122.68,280.08 L123.19,281.89 L123.7,281.52 L124.2,282.88 L124.71,282.84 L125.22,282.91 L125.73,282.62 L126.24,283.68 L126.75,283.67 L127.25,283.98 L127.76,284.22 L128.27,284.7 L128.78,283.47 L129.29,285.07 L129.8,285.9 L130.31,285.45 L130.81,284.48 L131.32,285.42 L131.83,286.3 L132.34,285.37 L132.85,286.39 L133.36,286.34 L133.87,286.03 L134.37,287.18 L134.88,288.01 L135.39,288.34 L135.9,288.62 L136.41,289.24 L136.92,289.39 L137.42,290.62 L137.93,290.23 L138.44,290.53 L138.95,291.1 L139.46,290.42 L139.97,292.94 L140.48,292.3 L140.98,293.12 L141.49,292.67 L142,292.54 L142.51,292.61 L143.02,293.96 L143.53,294.13 L144.04,294.16 L144.54,294.5 L145.05,294.69 L145.56,295.57 L146.07,296.5 L146.58,295.35 L147.09,295.06 L147.59,297 L148.1,295.72 L148.61,295.67 L149.12,296.38 L149.63,296.78 L150.14,296.71 L150.65,296.46 L151.15,297.39 L151.66,296.18 L152.17,296.95 L152.68,296.58 L153.19,297.39 L153.7,297.25 L154.21,297.85 L154.71,297.55 L155.22,298.33 L155.73,297.81 L156.24,297.61 L156.75,298.13 L157.26,297.69 L157.76,299.02 L158.27,297.81 L158.78,299.57 L159.29,299.66 L159.8,299.11 L160.31,299.38 L160.82,299.64 L161.32,299.85 L161.83,299.83 L162.34,299.9 L162.85,300.24 L163.36,300.87 L163.87,300.04 L164.38,300.87 L164.88,300.22 L165.39,300.1 L165.9,301.32 L166.41,301.22 L166.92,301.94 L167.43,301.76 L167.93,302.15 L168.44,301.42 L168.95,301.61 L169.46,300.53 L169.97,300.55 L170.48,300.75 L170.99,302.29 L171.49,301.79 L172,302.63 L172.51,301.6 L173.02,301.64 L173.53,301.75 L174.04,300.71 L174.55,302.51 L175.05,302.42 L175.56,302.05 L176.07,302.69 L176.58,302.09 L177.09,303.23 L177.6,301.68 L178.1,301.9 L178.61,302.57 L179.12,302.16 L179.63,302.74 L180.14,303.66 L180.65,302.91 L181.16,304.14 L181.66,301.97 L182.17,304.35 L182.68,303.43 L183.19,303.86 L183.7,303.89 L184.21,303.32 L184.72,303.93 L185.22,303.68 L185.73,303.04 L186.24,303.8 L186.75,303.67 L187.26,304.14 L187.77,304.84 L188.27,303.81 L188.78,304.3 L189.29,304.45 L189.8,304.52 L190.31,304.34 L190.82,304.09 L191.33,304.59 L191.83,304.67 L192.34,304.67 L192.85,306.38 L193.36,305.79 L193.87,305.45 L194.38,305.31 L194.89,306.08 L195.39,305.69 L195.9,305.73 L196.41,306.43 L196.92,306.06 L197.43,307.79 L197.94,307.87 L198.44,307.06 L198.95,307.09 L199.46,306.86 L199.97,307.5 L200.48,307.61 L200.99,307.75 L201.26,307.56 L201.26,315.08 L200.99,314.3 L200.48,314.14 L199.97,315.66 L199.46,314.03 L198.95,314.27 L198.44,313.93 L197.94,313.76 L197.43,313.22 L196.92,313.07 L196.41,312.92 L195.9,313.2 L195.39,312.93 L194.89,313.42 L194.38,312.52 L193.87,312.5 L193.36,311.95 L192.85,314.03 L192.34,312.02 L191.83,313.13 L191.33,312.13 L190.82,312.32 L190.31,312.09 L189.8,310.88 L189.29,312.61 L188.78,312.56 L188.27,310.91 L187.77,312.2 L187.26,311.45 L186.75,310.92 L186.24,312.13 L185.73,311.17 L185.22,311.07 L184.72,310.75 L184.21,310.58 L183.7,310.64 L183.19,311.66 L182.68,311.04 L182.17,310.98 L181.66,311.64 L181.16,310.84 L180.65,310.67 L180.14,309.81 L179.63,311.77 L179.12,311 L178.61,310.91 L178.1,310.53 L177.6,309.42 L177.09,310.42 L176.58,309.73 L176.07,309.53 L175.56,309.8 L175.05,311.37 L174.55,309.9 L174.04,311.17 L173.53,310.35 L173.02,309.06 L172.51,310.37 L172,309.97 L171.49,309.67 L170.99,309.38 L170.48,309.53 L169.97,308.81 L169.46,309.82 L168.95,309.19 L168.44,309.86 L167.93,308.97 L167.43,309.57 L166.92,309.97 L166.41,309.49 L165.9,308.3 L165.39,309.74 L164.88,309.51 L164.38,308.34 L163.87,310.21 L163.36,308.71 L162.85,309.08 L162.34,308.52 L161.83,308.85 L161.32,308.24 L160.82,307.97 L160.31,307.6 L159.8,309 L159.29,307 L158.78,307.82 L158.27,307.17 L157.76,308.04 L157.26,307.53 L156.75,307.25 L156.24,307.76 L155.73,307.19 L155.22,306.72 L154.71,306.7 L154.21,306.76 L153.7,306.56 L153.19,306.94 L152.68,307.47 L152.17,304.6 L151.66,306.28 L151.15,305.17 L150.65,304.31 L150.14,305.2 L149.63,304.94 L149.12,304.7 L148.61,305.94 L148.1,305.21 L147.59,305.71 L147.09,304.82 L146.58,305.27 L146.07,304.07 L145.56,304.11 L145.05,303.45 L144.54,304.44 L144.04,303.9 L143.53,303.1 L143.02,303.18 L142.51,302.74 L142,301.92 L141.49,303.32 L140.98,302.73 L140.48,303.07 L139.97,302.49 L139.46,303.39 L138.95,301.76 L138.44,302.68 L137.93,302.33 L137.42,302.3 L136.92,301.57 L136.41,302.48 L135.9,301.41 L135.39,301.6 L134.88,301.75 L134.37,301.07 L133.87,300.19 L133.36,300.45 L132.85,301.1 L132.34,300 L131.83,300.57 L131.32,299.8 L130.81,300.34 L130.31,300.01 L129.8,299.9 L129.29,300.22 L128.78,300.54 L128.27,299.51 L127.76,300.77 L127.25,299.26 L126.75,300.1 L126.24,299.68 L125.73,299.47 L125.22,299.92 L124.71,300.29 L124.2,299.69 L123.7,299.16 L123.19,299.47 L122.68,299.98 L122.17,299.51 L121.66,299.36 L121.15,299.17 L120.64,298.61 L120.14,299.82 L119.63,300.52 L119.12,299.89 L118.61,298.21 L118.1,298.47 L117.59,297.2 L117.08,297.9 L116.58,297.22 L116.07,295.59 L115.56,295.28 L115.05,295.05 L114.54,293.75 L114.03,294.07 L113.53,293.4 L113.02,292.54 L112.51,292.99 L112,291.81 L111.49,292.65 L110.98,290.7 L110.47,290.68 L109.97,291.5 L109.46,290.36 L108.95,289.8 L108.44,288.49 L107.93,288.14 L107.42,287.08 L106.91,286.87 L106.41,284.78 L105.9,285.73 L105.39,284.46 L104.88,284.21 L104.37,283.91 L103.86,283.05 L103.36,282.47 L102.85,282.48 L102.34,280.93 L101.83,281.05 L101.32,279.47 L100.81,279.59 L100.3,278.19 L99.8,278.3 L99.29,278.24 L98.78,277.36 L98.27,277.34 L97.76,277.74 L97.25,277.04 L96.74,275.37 L96.24,274.18 L95.73,275.61 L95.22,274.12 L94.71,273.88 L94.2,271.34 L93.69,272.24 L93.19,271.05 L92.68,269.62 L92.17,267.5 L91.66,266.76 L91.15,264.68 L90.64,263.54 L90.13,263.63 L89.63,264.87 L89.12,267.14 L88.61,270.13 L88.1,270.87 L87.59,270.96 L87.08,270.78 L86.57,272.74 L86.07,273.42 L85.56,275.6 L85.05,276.87 L84.54,278.3 L84.03,278.04 L83.52,279.33 L83.02,280.21 L82.51,281.29 L82,283.74 L81.49,284.53 L80.98,285.54 L80.47,284.74 L79.96,283.34 L79.46,283.16 L78.95,283.42 L78.44,282.34 L77.93,281.09 L77.42,281.43 L76.91,281.2 L76.4,279.74 L75.9,289.62 L75.39,303.16 L74.88,307.05 L74.37,306.74 L73.86,307.31 L73.35,307.23 L72.85,308.02 L72.34,306.51 L71.83,307.42 L71.32,306.79 L70.81,307.23 L70.3,307.21 L69.79,306.88 L69.29,306.18 L68.78,306.81 L68.27,307.43 L67.76,306.53 L67.25,307.11 L66.74,306.26 L66.23,307.04 L65.73,306.45 L65.22,306.62 L64.71,305.76 L64.2,307.12 L63.69,307.43 L63.18,307.37 L62.68,307.03 L62.17,307.21 L61.66,306.51 L61.15,307.01 L60.64,306.65Z" fill="rgba(249,241,203,0.82)"/>
<path d="M60.64,305.31 L61.15,305.05 L61.66,305.98 L62.17,305.95 L62.68,305.42 L63.18,306.63 L63.69,306.38 L64.2,305.32 L64.71,305.45 L65.22,306.18 L65.73,306.33 L66.23,305.74 L66.74,306.67 L67.25,306.19 L67.76,306.05 L68.27,307.23 L68.78,305.61 L69.29,305.52 L69.79,305.36 L70.3,306.69 L70.81,306.6 L71.32,306.36 L71.83,306.62 L72.34,304.83 L72.85,306.44 L73.35,306.09 L73.86,305.81 L74.37,305.68 L74.88,305.15 L75.39,302.85 L75.9,284.19 L76.4,272.52 L76.91,273.52 L77.42,273.23 L77.93,274.41 L78.44,273.08 L78.95,274.8 L79.46,274.51 L79.96,275.03 L80.47,276.69 L80.98,277.33 L81.49,276.48 L82,275.25 L82.51,271.75 L83.02,269.61 L83.52,268.1 L84.03,266.88 L84.54,264.77 L85.05,264.11 L85.56,260.31 L86.07,259.35 L86.57,256.8 L87.08,255.19 L87.59,252.22 L88.1,251.52 L88.61,249.54 L89.12,247.33 L89.63,244.96 L90.13,242.09 L90.64,242.94 L91.15,244.86 L91.66,247.1 L92.17,249.58 L92.68,252.28 L93.19,254.56 L93.69,256.72 L94.2,255.22 L94.71,257.6 L95.22,258.79 L95.73,258.85 L96.24,258.3 L96.74,259.5 L97.25,261.21 L97.76,261.33 L98.27,261.9 L98.78,263.34 L99.29,262.98 L99.8,263.28 L100.3,263.53 L100.81,265.58 L101.32,266.97 L101.83,267.44 L102.34,267.24 L102.85,268.14 L103.36,268.79 L103.86,269.38 L104.37,270.13 L104.88,271.03 L105.39,270.5 L105.9,271.1 L106.41,271.67 L106.91,272.08 L107.42,274.24 L107.93,275.69 L108.44,276.25 L108.95,274.99 L109.46,277.4 L109.97,277.39 L110.47,278.2 L110.98,278.26 L111.49,277.28 L112,279.67 L112.51,279.95 L113.02,280.73 L113.53,280.9 L114.03,281.43 L114.54,282.96 L115.05,282.49 L115.56,283.36 L116.07,284.51 L116.58,285.57 L117.08,286.37 L117.59,287.81 L118.1,287.21 L118.61,288.65 L119.12,288.88 L119.63,288.48 L120.14,289.78 L120.64,289.7 L121.15,289.14 L121.66,288.81 L122.17,290.42 L122.68,289.71 L123.19,290.9 L123.7,290.58 L124.2,290.74 L124.71,291.78 L125.22,290.76 L125.73,290.43 L126.24,291.47 L126.75,291.48 L127.25,292.4 L127.76,290.98 L128.27,292.08 L128.78,292.98 L129.29,292.06 L129.8,293.42 L130.31,293.16 L130.81,294.07 L131.32,292.3 L131.83,291.93 L132.34,293.62 L132.85,293.85 L133.36,294.07 L133.87,294.37 L134.37,294.11 L134.88,293.97 L135.39,295.65 L135.9,295.23 L136.41,296.76 L136.92,295.28 L137.42,296.4 L137.93,296.94 L138.44,295.89 L138.95,296.9 L139.46,296.26 L139.97,296.6 L140.48,296.49 L140.98,298.03 L141.49,297.81 L142,297.9 L142.51,298.47 L143.02,297.82 L143.53,299.29 L144.04,298.63 L144.54,298.7 L145.05,300.72 L145.56,300.41 L146.07,300.58 L146.58,300.57 L147.09,300.22 L147.59,300.64 L148.1,300.58 L148.61,300.94 L149.12,300.81 L149.63,300.6 L150.14,300.55 L150.65,301.47 L151.15,301.22 L151.66,301.69 L152.17,301.49 L152.68,302.29 L153.19,301.15 L153.7,301.44 L154.21,302 L154.71,302.45 L155.22,302.48 L155.73,302.74 L156.24,303.37 L156.75,301.82 L157.26,301.09 L157.76,303.67 L158.27,303.79 L158.78,303.01 L159.29,303.15 L159.8,304.47 L160.31,304.81 L160.82,303.64 L161.32,305.14 L161.83,303.45 L162.34,304.61 L162.85,304.43 L163.36,304.6 L163.87,305.01 L164.38,304.9 L164.88,305.08 L165.39,304.35 L165.9,305.16 L166.41,305.2 L166.92,305.54 L167.43,305.67 L167.93,305.75 L168.44,305.39 L168.95,304.44 L169.46,304.87 L169.97,305.39 L170.48,304.67 L170.99,305.08 L171.49,305.57 L172,305.82 L172.51,306.39 L173.02,305.73 L173.53,306.1 L174.04,306.85 L174.55,306.76 L175.05,305.1 L175.56,306.1 L176.07,306.02 L176.58,306.25 L177.09,306.67 L177.6,306.24 L178.1,305.98 L178.61,306.79 L179.12,306.41 L179.63,306.2 L180.14,307.06 L180.65,306.77 L181.16,307.31 L181.66,306.64 L182.17,307.2 L182.68,306.43 L183.19,307.49 L183.7,306.2 L184.21,307.32 L184.72,307.67 L185.22,307.77 L185.73,307 L186.24,307.89 L186.75,306.55 L187.26,306.92 L187.77,307.43 L188.27,308.57 L188.78,307.92 L189.29,308.41 L189.8,309.11 L190.31,308.03 L190.82,307.2 L191.33,308.79 L191.83,308.2 L192.34,308.07 L192.85,309.41 L193.36,309.21 L193.87,309.02 L194.38,309.04 L194.89,310.05 L195.39,309.45 L195.9,309.76 L196.41,309.33 L196.92,310.83 L197.43,310.4 L197.94,310.5 L198.44,310.52 L198.95,310.08 L199.46,310.93 L199.97,309.24 L200.48,311.19 L200.99,310.47 L201.26,310.42" fill="none" stroke="#ab7f3a" stroke-width="0.9" stroke-linejoin="round"/>
<line x1="60.5" y1="217.5" x2="60.5" y2="322" stroke="#7a7a7a" stroke-width="0.9"/>
<line x1="60.5" y1="322" x2="201.4" y2="322" stroke="#7a7a7a" stroke-width="0.9"/>
<line x1="59.1" y1="322" x2="60.5" y2="322" stroke="#7a7a7a" stroke-width="0.8"/>
<text x="56.8" y="324.9" font-size="8.1" fill="#333" text-anchor="end" stroke="#333" stroke-width="0.22">-5</text>
<line x1="59.1" y1="307.11" x2="60.5" y2="307.11" stroke="#7a7a7a" stroke-width="0.8"/>
<text x="56.8" y="310.01" font-size="8.1" fill="#333" text-anchor="end" stroke="#333" stroke-width="0.22">0</text>
<line x1="59.1" y1="292.23" x2="60.5" y2="292.23" stroke="#7a7a7a" stroke-width="0.8"/>
<text x="56.8" y="295.13" font-size="8.1" fill="#333" text-anchor="end" stroke="#333" stroke-width="0.22">5</text>
<line x1="59.1" y1="277.34" x2="60.5" y2="277.34" stroke="#7a7a7a" stroke-width="0.8"/>
<text x="56.8" y="280.24" font-size="8.1" fill="#333" text-anchor="end" stroke="#333" stroke-width="0.22">10</text>
<line x1="59.1" y1="262.46" x2="60.5" y2="262.46" stroke="#7a7a7a" stroke-width="0.8"/>
<text x="56.8" y="265.36" font-size="8.1" fill="#333" text-anchor="end" stroke="#333" stroke-width="0.22">15</text>
<line x1="59.1" y1="247.57" x2="60.5" y2="247.57" stroke="#7a7a7a" stroke-width="0.8"/>
<text x="56.8" y="250.47" font-size="8.1" fill="#333" text-anchor="end" stroke="#333" stroke-width="0.22">20</text>
<line x1="59.1" y1="232.69" x2="60.5" y2="232.69" stroke="#7a7a7a" stroke-width="0.8"/>
<text x="56.8" y="235.59" font-size="8.1" fill="#333" text-anchor="end" stroke="#333" stroke-width="0.22">25</text>
<line x1="59.1" y1="217.8" x2="60.5" y2="217.8" stroke="#7a7a7a" stroke-width="0.8"/>
<text x="56.8" y="220.7" font-size="8.1" fill="#333" text-anchor="end" stroke="#333" stroke-width="0.22">30</text>
<line x1="74.9" y1="322" x2="74.9" y2="323.6" stroke="#7a7a7a" stroke-width="0.8"/>
<text x="74.9" y="333.6" font-size="8.1" fill="#333" text-anchor="middle" stroke="#333" stroke-width="0.22">0</text>
<line x1="103.15" y1="322" x2="103.15" y2="323.6" stroke="#7a7a7a" stroke-width="0.8"/>
<text x="103.15" y="333.6" font-size="8.1" fill="#333" text-anchor="middle" stroke="#333" stroke-width="0.22">10</text>
<line x1="131.4" y1="322" x2="131.4" y2="323.6" stroke="#7a7a7a" stroke-width="0.8"/>
<text x="131.4" y="333.6" font-size="8.1" fill="#333" text-anchor="middle" stroke="#333" stroke-width="0.22">20</text>
<line x1="159.65" y1="322" x2="159.65" y2="323.6" stroke="#7a7a7a" stroke-width="0.8"/>
<text x="159.65" y="333.6" font-size="8.1" fill="#333" text-anchor="middle" stroke="#333" stroke-width="0.22">30</text>
<line x1="187.9" y1="322" x2="187.9" y2="323.6" stroke="#7a7a7a" stroke-width="0.8"/>
<text x="187.9" y="333.6" font-size="8.1" fill="#333" text-anchor="middle" stroke="#333" stroke-width="0.22">40</text>
<text x="76.1" y="318.7" font-size="7.1" fill="#111" stroke="#111" stroke-width="0.22">DBS</text>
<text x="45.8" y="261.5" font-size="13.9" fill="#2c2c2c" text-anchor="middle" transform="rotate(-90 45.8 261.5)" stroke="#2c2c2c" stroke-width="0.18">z-score</text>
<text x="194" y="351.1" font-size="14" fill="#2c2c2c" text-anchor="end" stroke="#2c2c2c" stroke-width="0.18">Time interval (s)</text>
<rect x="422.6" y="221.2" width="13" height="104.4" fill="#e9e9e9"/>
<path d="M408.44,308.25 L408.96,308.92 L409.47,308.41 L409.98,308.47 L410.49,309.02 L411.01,308.22 L411.52,309.34 L412.03,309.1 L412.55,308.49 L413.06,309.19 L413.57,309.2 L414.09,308.91 L414.6,308.93 L415.11,309.24 L415.62,309.23 L416.14,308.8 L416.65,309.44 L417.16,308.6 L417.68,309.18 L418.19,308.84 L418.7,308.93 L419.22,309.3 L419.73,309.96 L420.24,309.88 L420.75,309.09 L421.27,309.05 L421.78,308.69 L422.29,309.46 L422.81,297.79 L423.32,273.81 L423.83,272.76 L424.35,276.63 L424.86,281.46 L425.37,285.36 L425.88,287.05 L426.4,287.38 L426.91,290.21 L427.42,293.27 L427.94,295.59 L428.45,298.03 L428.96,298.99 L429.48,299.16 L429.99,299.66 L430.5,298.69 L431.01,299.11 L431.53,298.85 L432.04,298.1 L432.55,298.21 L433.07,297.73 L433.58,297.4 L434.09,296.97 L434.61,297.29 L435.12,296.72 L435.63,296.75 L436.14,296.48 L436.66,295.27 L437.17,295.27 L437.68,294.65 L438.2,294.08 L438.71,294.39 L439.22,294.55 L439.74,293.29 L440.25,293.02 L440.76,292.05 L441.27,292.36 L441.79,291.64 L442.3,291.2 L442.81,290.93 L443.33,290.55 L443.84,290.81 L444.35,290.56 L444.87,290.75 L445.38,290.85 L445.89,290.91 L446.4,290.98 L446.92,291.15 L447.43,291.38 L447.94,292.1 L448.46,292.03 L448.97,292.23 L449.48,292.77 L450,292.71 L450.51,292.28 L451.02,292.03 L451.53,292.71 L452.05,293.55 L452.56,293.8 L453.07,293.81 L453.59,293.67 L454.1,294.84 L454.61,295.23 L455.13,295.68 L455.64,296.75 L456.15,295.77 L456.66,296.71 L457.18,297.26 L457.69,298.14 L458.2,298.39 L458.72,298.86 L459.23,299.03 L459.74,299.26 L460.26,299.09 L460.77,299.54 L461.28,299.75 L461.79,300.44 L462.31,301 L462.82,300.65 L463.33,301.35 L463.85,300.77 L464.36,300.75 L464.87,301.18 L465.39,301.23 L465.9,301.55 L466.41,302.12 L466.92,302.87 L467.44,303.15 L467.95,303.37 L468.46,303.54 L468.98,304.16 L469.49,304.22 L470,304.7 L470.52,304.66 L471.03,304.95 L471.54,305.32 L472.05,305.95 L472.57,305.96 L473.08,306.29 L473.59,306.94 L474.11,306.48 L474.62,306.95 L475.13,307.31 L475.65,307.07 L476.16,307.08 L476.67,307.57 L477.18,307.76 L477.7,307.54 L478.21,307.7 L478.72,307.32 L479.24,308.29 L479.75,307.8 L480.26,308 L480.78,307.77 L481.29,308.31 L481.8,308.04 L482.31,308.21 L482.83,307.64 L483.34,308.45 L483.85,308.52 L484.37,308.09 L484.88,308.38 L485.39,308.07 L485.91,307.86 L486.42,308.57 L486.93,308.36 L487.44,307.88 L487.96,308.83 L488.47,308.77 L488.98,308.23 L489.5,308.67 L490.01,309.09 L490.52,308.98 L491.04,308.91 L491.55,308.25 L492.06,309.05 L492.57,308.63 L493.09,308.65 L493.6,309.3 L494.11,308.96 L494.63,309.17 L495.14,309.29 L495.65,308.79 L496.17,309.12 L496.68,309.51 L497.19,308.23 L497.7,309 L498.22,309.04 L498.73,309.15 L499.24,308.91 L499.76,309.2 L500.27,310.2 L500.78,308.84 L501.3,309.12 L501.81,309.1 L502.32,309.58 L502.83,309.22 L503.35,309.33 L503.86,310.38 L504.37,309.01 L504.89,309.37 L505.4,309.27 L505.91,309.69 L506.43,309.76 L506.94,309.62 L507.45,309.3 L507.96,309.96 L508.48,310.07 L508.99,309.42 L509.5,309.84 L510.02,310.01 L510.53,309.72 L511.04,309.38 L511.56,309.35 L512.07,310.09 L512.58,310.13 L513.09,310.02 L513.61,309.52 L514.12,310.05 L514.63,310.18 L515.15,310.28 L515.66,309.89 L516.17,310.64 L516.69,310.42 L517.2,309.78 L517.71,309.52 L518.22,310.26 L518.74,310.33 L519.25,309.87 L519.76,310.23 L520.28,310.27 L520.79,310.34 L521.3,310.5 L521.82,310.39 L522.33,310.72 L522.84,310.03 L523.35,310.44 L523.87,310.72 L524.38,310.5 L524.89,310.91 L525.41,310.84 L525.92,310.56 L526.43,309.65 L526.95,310.42 L527.46,310.41 L527.97,309.46 L528.48,310.4 L529,310.24 L529.51,310.18 L530.02,309.64 L530.54,311.04 L531.05,310.59 L531.56,310.28 L532.08,310.18 L532.59,310.14 L533.1,310.34 L533.61,310.61 L534.13,310.34 L534.64,310.65 L535.15,309.92 L535.67,310.15 L536.18,310.46 L536.69,309.97 L537.21,310.6 L537.72,309.9 L538.23,311.07 L538.74,310.48 L539.26,310.75 L539.77,310.55 L540.28,310.35 L540.8,310.77 L541.31,310.54 L541.82,310.8 L542.34,310.65 L542.85,310.37 L543.36,311.14 L543.87,310.13 L544.39,310.76 L544.9,310.9 L545.41,311.09 L545.93,310.97 L546.44,310.98 L546.95,310.43 L547.47,311.43 L547.98,310.62 L548.49,311.21 L549,310.58 L549.52,311.1 L550.03,311.18 L550.36,310.77 L550.36,314.71 L550.03,314.76 L549.52,315.4 L549,314.93 L548.49,314.57 L547.98,314.55 L547.47,315.12 L546.95,315.29 L546.44,315.12 L545.93,315.4 L545.41,314.61 L544.9,314.9 L544.39,315.82 L543.87,314.99 L543.36,315.11 L542.85,315.19 L542.34,314.84 L541.82,315.43 L541.31,315.32 L540.8,314.5 L540.28,314.23 L539.77,315.47 L539.26,315.47 L538.74,315.24 L538.23,315.24 L537.72,314.64 L537.21,315.34 L536.69,315.38 L536.18,315.36 L535.67,315.11 L535.15,315.49 L534.64,314.29 L534.13,314.83 L533.61,315.21 L533.1,315.03 L532.59,315.03 L532.08,315.28 L531.56,315.27 L531.05,315.5 L530.54,314.84 L530.02,315.02 L529.51,315.48 L529,315.29 L528.48,315.38 L527.97,315.49 L527.46,315.17 L526.95,315.25 L526.43,315.24 L525.92,314.82 L525.41,315.37 L524.89,314.89 L524.38,315.24 L523.87,315.56 L523.35,315.55 L522.84,314.91 L522.33,315.1 L521.82,315.21 L521.3,315.17 L520.79,315.29 L520.28,315.3 L519.76,315.4 L519.25,314.68 L518.74,315.09 L518.22,315.5 L517.71,315.26 L517.2,315.07 L516.69,314.69 L516.17,314.92 L515.66,314.46 L515.15,314.96 L514.63,315.53 L514.12,314.94 L513.61,315.14 L513.09,314.72 L512.58,314.42 L512.07,315.08 L511.56,314.66 L511.04,315.09 L510.53,314.83 L510.02,315.28 L509.5,314.7 L508.99,314.23 L508.48,314.41 L507.96,314.95 L507.45,314.93 L506.94,315.31 L506.43,314.89 L505.91,314.58 L505.4,314.77 L504.89,314.82 L504.37,314.61 L503.86,314.4 L503.35,314.2 L502.83,314.95 L502.32,314.89 L501.81,315.45 L501.3,314.26 L500.78,314.63 L500.27,314.6 L499.76,314.11 L499.24,315.35 L498.73,314.64 L498.22,314.23 L497.7,313.99 L497.19,313.99 L496.68,314.1 L496.17,314.33 L495.65,314.5 L495.14,314.93 L494.63,314.21 L494.11,314.58 L493.6,314.9 L493.09,314.79 L492.57,313.95 L492.06,314.8 L491.55,314.52 L491.04,314.73 L490.52,314.07 L490.01,314.07 L489.5,314.44 L488.98,314.4 L488.47,314.57 L487.96,314.24 L487.44,313.81 L486.93,314.65 L486.42,314.16 L485.91,314.84 L485.39,314.45 L484.88,313.36 L484.37,313.93 L483.85,313.19 L483.34,313.91 L482.83,314.61 L482.31,314.74 L481.8,313.56 L481.29,313.92 L480.78,314.49 L480.26,313.76 L479.75,314.14 L479.24,314.7 L478.72,313.94 L478.21,313.72 L477.7,313.61 L477.18,314.1 L476.67,314.08 L476.16,312.97 L475.65,313.83 L475.13,313.1 L474.62,313.25 L474.11,313.02 L473.59,313.24 L473.08,313.82 L472.57,312.69 L472.05,312.91 L471.54,311.9 L471.03,312.97 L470.52,312.91 L470,312.22 L469.49,312.15 L468.98,311.76 L468.46,311.12 L467.95,311.47 L467.44,310.82 L466.92,310.9 L466.41,310.33 L465.9,310.71 L465.39,310.49 L464.87,310.59 L464.36,310.42 L463.85,309.96 L463.33,309.25 L462.82,309.74 L462.31,309.27 L461.79,309.66 L461.28,308.71 L460.77,309.49 L460.26,308.56 L459.74,308.61 L459.23,307.36 L458.72,307.63 L458.2,307.29 L457.69,307.72 L457.18,307 L456.66,306.96 L456.15,306.31 L455.64,306.62 L455.13,306.37 L454.61,305.55 L454.1,305.27 L453.59,305.33 L453.07,305.13 L452.56,305.03 L452.05,304.48 L451.53,304.12 L451.02,304.33 L450.51,304.06 L450,304.12 L449.48,303.8 L448.97,304.25 L448.46,303.66 L447.94,304.84 L447.43,303.49 L446.92,303.15 L446.4,303.4 L445.89,303.41 L445.38,303.52 L444.87,303.13 L444.35,303.67 L443.84,303 L443.33,303.06 L442.81,302.88 L442.3,303.82 L441.79,303.44 L441.27,303.52 L440.76,304.03 L440.25,303.55 L439.74,303.76 L439.22,304.16 L438.71,304.07 L438.2,304.04 L437.68,304.25 L437.17,304.37 L436.66,304.79 L436.14,304.49 L435.63,305.24 L435.12,304.9 L434.61,304.43 L434.09,304.38 L433.58,304.77 L433.07,304.73 L432.55,304.3 L432.04,304.4 L431.53,304.18 L431.01,304.63 L430.5,304.07 L429.99,304.77 L429.48,304.24 L428.96,303.76 L428.45,301.78 L427.94,300.77 L427.42,298.13 L426.91,295.54 L426.4,293.62 L425.88,291.11 L425.37,289.94 L424.86,286.34 L424.35,282.82 L423.83,277.64 L423.32,278.79 L422.81,300.36 L422.29,311.04 L421.78,311.27 L421.27,311.14 L420.75,311.71 L420.24,312.07 L419.73,311.29 L419.22,311.68 L418.7,311.7 L418.19,311.49 L417.68,311.6 L417.16,311.57 L416.65,312.27 L416.14,311.94 L415.62,311.46 L415.11,311.49 L414.6,311.36 L414.09,310.38 L413.57,310.4 L413.06,310.9 L412.55,311.65 L412.03,311.54 L411.52,310.5 L411.01,311.31 L410.49,311.45 L409.98,310.87 L409.47,311.01 L408.96,311.11 L408.44,311.07Z" fill="rgba(130,210,180,0.32)"/>
<path d="M408.44,308.94 L408.96,309.81 L409.47,309.87 L409.98,308.97 L410.49,310.52 L411.01,310.15 L411.52,310.15 L412.03,310.18 L412.55,309.97 L413.06,310.47 L413.57,309.56 L414.09,310.78 L414.6,310.56 L415.11,311.01 L415.62,310.91 L416.14,310 L416.65,310.02 L417.16,310.44 L417.68,309.98 L418.19,310.11 L418.7,310.71 L419.22,310.48 L419.73,310.31 L420.24,309.56 L420.75,310.74 L421.27,310.37 L421.78,310.31 L422.29,310.01 L422.81,298.7 L423.32,275.93 L423.83,275.62 L424.35,279.65 L424.86,285.24 L425.37,287.76 L425.88,288 L426.4,290.77 L426.91,293.07 L427.42,295.42 L427.94,297.85 L428.45,300.58 L428.96,301.8 L429.48,301.92 L429.99,301.69 L430.5,302.07 L431.01,301.61 L431.53,301.78 L432.04,301.94 L432.55,301.51 L433.07,301.48 L433.58,300.63 L434.09,300.32 L434.61,300.56 L435.12,300.8 L435.63,300.79 L436.14,301.08 L436.66,300.38 L437.17,299.17 L437.68,299.13 L438.2,299.31 L438.71,299.27 L439.22,298.9 L439.74,298.44 L440.25,298.38 L440.76,297.92 L441.27,298.25 L441.79,297.63 L442.3,297.61 L442.81,296.75 L443.33,297.67 L443.84,296.32 L444.35,296.85 L444.87,297.05 L445.38,296.91 L445.89,296.99 L446.4,297.31 L446.92,297.16 L447.43,297.81 L447.94,298.51 L448.46,297.57 L448.97,298.08 L449.48,297.44 L450,298.18 L450.51,299.42 L451.02,297.98 L451.53,299.04 L452.05,298.64 L452.56,298.08 L453.07,298.87 L453.59,300.18 L454.1,300.02 L454.61,301.07 L455.13,300.34 L455.64,300.76 L456.15,301.87 L456.66,301.56 L457.18,301.72 L457.69,302.16 L458.2,303.22 L458.72,303.59 L459.23,304.13 L459.74,304.54 L460.26,304.07 L460.77,304.48 L461.28,304.12 L461.79,304.82 L462.31,305.27 L462.82,305.92 L463.33,304.65 L463.85,305.44 L464.36,305.69 L464.87,306.34 L465.39,306.55 L465.9,305.98 L466.41,306.95 L466.92,306.46 L467.44,306.69 L467.95,307.42 L468.46,308.26 L468.98,307.57 L469.49,307.37 L470,308.68 L470.52,309.13 L471.03,308.27 L471.54,308.95 L472.05,309.54 L472.57,308.88 L473.08,309.78 L473.59,309.61 L474.11,310.18 L474.62,310.47 L475.13,310.14 L475.65,310.71 L476.16,311.21 L476.67,310.7 L477.18,309.95 L477.7,310.11 L478.21,309.69 L478.72,310.33 L479.24,310.09 L479.75,310.77 L480.26,311.11 L480.78,310.71 L481.29,311.4 L481.8,310.63 L482.31,311.22 L482.83,310.92 L483.34,311.48 L483.85,311.17 L484.37,310.69 L484.88,311.29 L485.39,311.55 L485.91,311.13 L486.42,310.9 L486.93,311.44 L487.44,311.95 L487.96,312.16 L488.47,312.11 L488.98,311.01 L489.5,311.59 L490.01,311.36 L490.52,311.12 L491.04,311.52 L491.55,311.46 L492.06,311.94 L492.57,312.5 L493.09,311.46 L493.6,311.82 L494.11,311.52 L494.63,312.3 L495.14,311.87 L495.65,310.87 L496.17,312.22 L496.68,311.8 L497.19,311.24 L497.7,311.98 L498.22,311.82 L498.73,312.9 L499.24,311.54 L499.76,312.13 L500.27,311.34 L500.78,312 L501.3,312.14 L501.81,311.79 L502.32,312.12 L502.83,312.27 L503.35,311.33 L503.86,311.61 L504.37,312.03 L504.89,311.73 L505.4,311.74 L505.91,311.88 L506.43,312.14 L506.94,312.16 L507.45,312.02 L507.96,311.97 L508.48,312.08 L508.99,312.53 L509.5,312.32 L510.02,312.1 L510.53,312.79 L511.04,312.36 L511.56,312.02 L512.07,312.32 L512.58,312.54 L513.09,312.44 L513.61,312.67 L514.12,312.01 L514.63,312.66 L515.15,313.29 L515.66,313.08 L516.17,312.4 L516.69,312.45 L517.2,312.79 L517.71,313.19 L518.22,312.67 L518.74,312.99 L519.25,312.93 L519.76,312.63 L520.28,313.01 L520.79,312.51 L521.3,313.02 L521.82,312.89 L522.33,312.79 L522.84,312.01 L523.35,311.95 L523.87,312.25 L524.38,313.05 L524.89,312.69 L525.41,312.28 L525.92,312.33 L526.43,313.48 L526.95,312.74 L527.46,313.07 L527.97,312.37 L528.48,312.43 L529,312.98 L529.51,311.73 L530.02,312.87 L530.54,311.6 L531.05,312.83 L531.56,312.8 L532.08,311.89 L532.59,313.02 L533.1,312.99 L533.61,312.09 L534.13,312.8 L534.64,312.57 L535.15,313.37 L535.67,311.97 L536.18,312.36 L536.69,312.65 L537.21,312.5 L537.72,313.07 L538.23,313.05 L538.74,313.59 L539.26,312.68 L539.77,312.28 L540.28,312.46 L540.8,312.44 L541.31,312.54 L541.82,313.32 L542.34,313.48 L542.85,312.59 L543.36,312.82 L543.87,312.44 L544.39,313.03 L544.9,313.33 L545.41,312.71 L545.93,313.19 L546.44,313.68 L546.95,313.23 L547.47,313.34 L547.98,313.47 L548.49,313.2 L549,312.51 L549.52,311.88 L550.03,312.15 L550.36,313.15" fill="none" stroke="#3f9481" stroke-width="0.9" stroke-linejoin="round"/>
<path d="M408.44,307.35 L408.96,307.76 L409.47,308.03 L409.98,307.06 L410.49,307.72 L411.01,307.91 L411.52,308.27 L412.03,307.78 L412.55,307.67 L413.06,307.99 L413.57,308.5 L414.09,308.32 L414.6,307.73 L415.11,308.06 L415.62,308.76 L416.14,308.42 L416.65,308.37 L417.16,308.81 L417.68,307.27 L418.19,308.37 L418.7,308.01 L419.22,308.4 L419.73,307.73 L420.24,308.99 L420.75,308.44 L421.27,307.95 L421.78,307.35 L422.29,307.74 L422.81,295.61 L423.32,270.62 L423.83,259.24 L424.35,248.98 L424.86,251.51 L425.37,254.12 L425.88,257.6 L426.4,258.09 L426.91,257.66 L427.42,260.2 L427.94,260.68 L428.45,262.14 L428.96,264.07 L429.48,265.12 L429.99,263.74 L430.5,264.2 L431.01,262.35 L431.53,260.46 L432.04,259.72 L432.55,259.49 L433.07,257.83 L433.58,257.04 L434.09,253.14 L434.61,254.27 L435.12,252.53 L435.63,252.35 L436.14,252.88 L436.66,253.6 L437.17,255.97 L437.68,255.41 L438.2,252.89 L438.71,251.26 L439.22,250.48 L439.74,250.2 L440.25,250.49 L440.76,250.25 L441.27,251.18 L441.79,251.57 L442.3,253.24 L442.81,253.41 L443.33,253.19 L443.84,254.19 L444.35,254.93 L444.87,255.17 L445.38,255.85 L445.89,256.25 L446.4,255.47 L446.92,256.51 L447.43,256.85 L447.94,257 L448.46,258.81 L448.97,258.94 L449.48,260.38 L450,260.23 L450.51,261.22 L451.02,261.92 L451.53,261.8 L452.05,262.55 L452.56,262.03 L453.07,262.56 L453.59,263.53 L454.1,264.79 L454.61,264.73 L455.13,265.27 L455.64,265.59 L456.15,265.9 L456.66,265.51 L457.18,266.35 L457.69,266.99 L458.2,268.18 L458.72,268.14 L459.23,268.64 L459.74,270.06 L460.26,270.2 L460.77,269.46 L461.28,270.4 L461.79,271.69 L462.31,272.01 L462.82,271.42 L463.33,271.88 L463.85,272.03 L464.36,274.17 L464.87,272.86 L465.39,274.47 L465.9,274.33 L466.41,275.27 L466.92,275.46 L467.44,276.66 L467.95,276.43 L468.46,278.13 L468.98,278.11 L469.49,278.99 L470,279.81 L470.52,279.55 L471.03,281.19 L471.54,281.85 L472.05,283.23 L472.57,282.64 L473.08,283.03 L473.59,284.44 L474.11,284.97 L474.62,285.33 L475.13,285.26 L475.65,284.75 L476.16,285.36 L476.67,286.2 L477.18,285.56 L477.7,286.5 L478.21,286.5 L478.72,287.05 L479.24,287.24 L479.75,287.15 L480.26,287.52 L480.78,287.18 L481.29,287.59 L481.8,288.21 L482.31,289.46 L482.83,289.74 L483.34,289.13 L483.85,289.95 L484.37,290.6 L484.88,291.61 L485.39,290.81 L485.91,291.68 L486.42,291.95 L486.93,292.48 L487.44,292.1 L487.96,293.43 L488.47,292.04 L488.98,294.07 L489.5,293.33 L490.01,293.77 L490.52,294.86 L491.04,293.81 L491.55,293.71 L492.06,295.3 L492.57,294.35 L493.09,294.44 L493.6,295.3 L494.11,295.72 L494.63,296.16 L495.14,296.55 L495.65,295.23 L496.17,295.94 L496.68,296.46 L497.19,296.33 L497.7,296.88 L498.22,297.4 L498.73,297.19 L499.24,298.72 L499.76,298.03 L500.27,299 L500.78,298.35 L501.3,298.89 L501.81,298.67 L502.32,299.62 L502.83,300.39 L503.35,298.81 L503.86,299.83 L504.37,299.18 L504.89,300.34 L505.4,299.34 L505.91,300.3 L506.43,299.45 L506.94,300.71 L507.45,300.6 L507.96,300.58 L508.48,301.86 L508.99,300.89 L509.5,300.36 L510.02,301.32 L510.53,300.6 L511.04,300.93 L511.56,301.82 L512.07,301.11 L512.58,301.85 L513.09,302.46 L513.61,301.52 L514.12,301.23 L514.63,302.21 L515.15,301.53 L515.66,301.4 L516.17,302.71 L516.69,302.9 L517.2,302.52 L517.71,302.54 L518.22,303.01 L518.74,302.76 L519.25,303.43 L519.76,303.55 L520.28,302.53 L520.79,304.17 L521.3,303.11 L521.82,303.46 L522.33,303.07 L522.84,303.09 L523.35,303.89 L523.87,303.79 L524.38,304.23 L524.89,304.6 L525.41,305.05 L525.92,303.74 L526.43,304.29 L526.95,304.38 L527.46,305.1 L527.97,304.64 L528.48,304.56 L529,305.78 L529.51,305.18 L530.02,305.09 L530.54,305.27 L531.05,305.4 L531.56,305.38 L532.08,306.37 L532.59,305.82 L533.1,306.44 L533.61,305.85 L534.13,306.06 L534.64,305.53 L535.15,306.09 L535.67,305.64 L536.18,305.4 L536.69,305.94 L537.21,306.09 L537.72,306.23 L538.23,305.69 L538.74,306.11 L539.26,306.5 L539.77,304.84 L540.28,305.65 L540.8,306.29 L541.31,307.2 L541.82,305.14 L542.34,306.2 L542.85,305.83 L543.36,306.13 L543.87,306.39 L544.39,306.04 L544.9,306.74 L545.41,306.46 L545.93,306.12 L546.44,306.93 L546.95,306.09 L547.47,306.76 L547.98,305.54 L548.49,306.5 L549,305.31 L549.52,305.5 L550.03,306.28 L550.36,306.09 L550.36,311.66 L550.03,310.57 L549.52,311.07 L549,311.76 L548.49,311.42 L547.98,310.43 L547.47,311.21 L546.95,311.97 L546.44,310.3 L545.93,312.18 L545.41,310.71 L544.9,311.62 L544.39,310.98 L543.87,311.16 L543.36,311.11 L542.85,311.64 L542.34,311.32 L541.82,311.26 L541.31,310.93 L540.8,311.1 L540.28,311.4 L539.77,311.87 L539.26,311.61 L538.74,312.3 L538.23,311.64 L537.72,310.36 L537.21,310.83 L536.69,311.29 L536.18,310.89 L535.67,310.73 L535.15,312.18 L534.64,311.17 L534.13,310.96 L533.61,311.73 L533.1,311.49 L532.59,311.61 L532.08,310.93 L531.56,311.95 L531.05,310.32 L530.54,311.06 L530.02,311.38 L529.51,310.93 L529,311.16 L528.48,309.9 L527.97,311.22 L527.46,310.85 L526.95,310.73 L526.43,310.59 L525.92,310.59 L525.41,310.93 L524.89,309.72 L524.38,309.59 L523.87,309.55 L523.35,310.82 L522.84,311.05 L522.33,310.3 L521.82,309.3 L521.3,310.03 L520.79,310.45 L520.28,310.39 L519.76,310.36 L519.25,310.62 L518.74,310.81 L518.22,310.56 L517.71,310.56 L517.2,309.64 L516.69,309.75 L516.17,310.12 L515.66,309.55 L515.15,309.49 L514.63,309.9 L514.12,309.22 L513.61,309.83 L513.09,308.5 L512.58,309.96 L512.07,309.1 L511.56,309.22 L511.04,309.56 L510.53,309.15 L510.02,308.04 L509.5,308.64 L508.99,308.81 L508.48,308.1 L507.96,307.95 L507.45,308.28 L506.94,308.77 L506.43,307.22 L505.91,307.85 L505.4,308.32 L504.89,308.51 L504.37,307.91 L503.86,307.94 L503.35,308.32 L502.83,308.52 L502.32,307.51 L501.81,307.87 L501.3,307.95 L500.78,306.69 L500.27,307.38 L499.76,306.49 L499.24,306.52 L498.73,307.93 L498.22,306.99 L497.7,307.25 L497.19,307.08 L496.68,306.64 L496.17,306.72 L495.65,306.93 L495.14,305.99 L494.63,306.12 L494.11,306.35 L493.6,307.08 L493.09,305.23 L492.57,306.01 L492.06,304.91 L491.55,305.58 L491.04,305.01 L490.52,305.47 L490.01,305.18 L489.5,305.73 L488.98,305.16 L488.47,305.89 L487.96,305.1 L487.44,305.6 L486.93,304.44 L486.42,305 L485.91,303.98 L485.39,303.78 L484.88,304.08 L484.37,304.58 L483.85,302.44 L483.34,303.04 L482.83,302.58 L482.31,303.61 L481.8,302.25 L481.29,301.83 L480.78,301.7 L480.26,302.19 L479.75,301.56 L479.24,302.08 L478.72,302.26 L478.21,301.21 L477.7,301.7 L477.18,300.35 L476.67,301.54 L476.16,300.84 L475.65,299.63 L475.13,299.64 L474.62,300.31 L474.11,300.88 L473.59,298.92 L473.08,300.46 L472.57,299.15 L472.05,299.55 L471.54,299.37 L471.03,298.3 L470.52,297.7 L470,297.68 L469.49,295.67 L468.98,297.43 L468.46,296.14 L467.95,295.05 L467.44,296.01 L466.92,294.61 L466.41,294.31 L465.9,294.33 L465.39,293.5 L464.87,292.73 L464.36,293.28 L463.85,293.03 L463.33,294.11 L462.82,292.06 L462.31,291.7 L461.79,292.34 L461.28,292.14 L460.77,291.96 L460.26,290.68 L459.74,291.06 L459.23,289.67 L458.72,289.55 L458.2,290.43 L457.69,289.38 L457.18,289.01 L456.66,288.51 L456.15,289.53 L455.64,288.56 L455.13,288.34 L454.61,289.17 L454.1,287.34 L453.59,287.19 L453.07,287.17 L452.56,286.73 L452.05,285.5 L451.53,286.56 L451.02,285.31 L450.51,284.58 L450,285.86 L449.48,283.11 L448.97,284.25 L448.46,283.2 L447.94,283.52 L447.43,281.24 L446.92,281.83 L446.4,280.1 L445.89,280.19 L445.38,280.07 L444.87,279.82 L444.35,279.05 L443.84,278.95 L443.33,279.02 L442.81,279.2 L442.3,276.82 L441.79,276.64 L441.27,276.14 L440.76,275.74 L440.25,274.66 L439.74,275.51 L439.22,275.12 L438.71,275.95 L438.2,278.7 L437.68,278.75 L437.17,278.7 L436.66,278.47 L436.14,277.21 L435.63,276.54 L435.12,276.07 L434.61,276.27 L434.09,278.38 L433.58,279.17 L433.07,280.18 L432.55,282.16 L432.04,282.08 L431.53,282.17 L431.01,284.25 L430.5,284.66 L429.99,286.05 L429.48,286.24 L428.96,285.8 L428.45,282.96 L427.94,281.95 L427.42,280.34 L426.91,279.19 L426.4,278.1 L425.88,276.98 L425.37,273.25 L424.86,270.37 L424.35,268.14 L423.83,277.83 L423.32,285.3 L422.81,300.93 L422.29,310.14 L421.78,310.95 L421.27,310.96 L420.75,310.4 L420.24,311.15 L419.73,310.32 L419.22,310.68 L418.7,310.88 L418.19,310.75 L417.68,310.66 L417.16,310.52 L416.65,310.65 L416.14,310.28 L415.62,309.74 L415.11,309.6 L414.6,309.9 L414.09,310.38 L413.57,310.72 L413.06,310.27 L412.55,311.19 L412.03,311.49 L411.52,310 L411.01,311.05 L410.49,310.73 L409.98,310.8 L409.47,311.25 L408.96,310.72 L408.44,310.39Z" fill="rgba(249,241,203,0.82)"/>
<path d="M408.44,309.96 L408.96,309.17 L409.47,308.92 L409.98,308.5 L410.49,310.6 L411.01,308.56 L411.52,308.95 L412.03,308.51 L412.55,308.9 L413.06,309.23 L413.57,309.14 L414.09,309.18 L414.6,309.74 L415.11,309.49 L415.62,309.39 L416.14,309.71 L416.65,310.27 L417.16,310.27 L417.68,309.28 L418.19,309.29 L418.7,309.53 L419.22,310.21 L419.73,309.17 L420.24,309.84 L420.75,310.74 L421.27,308.85 L421.78,310.45 L422.29,308.51 L422.81,298.47 L423.32,277.95 L423.83,269.15 L424.35,259.39 L424.86,260.4 L425.37,263.52 L425.88,266.52 L426.4,268.47 L426.91,268.83 L427.42,270.1 L427.94,271.19 L428.45,272.96 L428.96,273.98 L429.48,275.97 L429.99,275.48 L430.5,273.5 L431.01,273.84 L431.53,271.37 L432.04,269.57 L432.55,269.73 L433.07,269.94 L433.58,267.22 L434.09,267.32 L434.61,264.8 L435.12,264.28 L435.63,263.94 L436.14,264.82 L436.66,266.28 L437.17,266.17 L437.68,266.39 L438.2,265.76 L438.71,264.36 L439.22,261.25 L439.74,262.61 L440.25,262.53 L440.76,263.23 L441.27,263.92 L441.79,265.07 L442.3,264.89 L442.81,265.47 L443.33,265.47 L443.84,266.78 L444.35,267.79 L444.87,267.91 L445.38,267.66 L445.89,267.83 L446.4,268.02 L446.92,269.14 L447.43,269.28 L447.94,270.16 L448.46,270.04 L448.97,271.64 L449.48,272.16 L450,272.5 L450.51,272.62 L451.02,274.09 L451.53,274.09 L452.05,274.29 L452.56,275.66 L453.07,274.31 L453.59,274.86 L454.1,275.81 L454.61,274.38 L455.13,275.71 L455.64,275.54 L456.15,276.09 L456.66,276.79 L457.18,278.42 L457.69,277.33 L458.2,278.41 L458.72,279.76 L459.23,279.61 L459.74,279.73 L460.26,280.08 L460.77,280.93 L461.28,281.68 L461.79,281.32 L462.31,282.38 L462.82,282.24 L463.33,282.07 L463.85,283.53 L464.36,282.92 L464.87,284.53 L465.39,284.4 L465.9,285.02 L466.41,284.9 L466.92,284.99 L467.44,285.91 L467.95,285.95 L468.46,286.93 L468.98,287.64 L469.49,287.83 L470,288.76 L470.52,289.1 L471.03,289.15 L471.54,290.49 L472.05,290.06 L472.57,291.69 L473.08,291.64 L473.59,292.8 L474.11,292.51 L474.62,291.7 L475.13,292.6 L475.65,292.29 L476.16,293.9 L476.67,293.88 L477.18,293.37 L477.7,293.47 L478.21,293.72 L478.72,295.27 L479.24,294.31 L479.75,294.75 L480.26,294.8 L480.78,294.8 L481.29,295.41 L481.8,296.39 L482.31,296.34 L482.83,296.82 L483.34,297.07 L483.85,296.77 L484.37,296.34 L484.88,297.72 L485.39,298.07 L485.91,298.58 L486.42,299.19 L486.93,298.52 L487.44,299.06 L487.96,299.16 L488.47,299.73 L488.98,299.14 L489.5,300.14 L490.01,299.31 L490.52,300.04 L491.04,299.4 L491.55,300.4 L492.06,299.84 L492.57,299.99 L493.09,300.42 L493.6,299.68 L494.11,300.62 L494.63,301.36 L495.14,300.72 L495.65,301.71 L496.17,301.75 L496.68,301.66 L497.19,301.77 L497.7,301.16 L498.22,303.16 L498.73,302.58 L499.24,302.04 L499.76,302.89 L500.27,302.81 L500.78,302.33 L501.3,303.93 L501.81,303.41 L502.32,303.15 L502.83,304 L503.35,304.71 L503.86,304.42 L504.37,303.87 L504.89,303.92 L505.4,303.11 L505.91,303.44 L506.43,305.01 L506.94,303.72 L507.45,303.87 L507.96,303.58 L508.48,304.6 L508.99,304.9 L509.5,304.63 L510.02,303.99 L510.53,304.58 L511.04,304.12 L511.56,304.71 L512.07,305.54 L512.58,305.87 L513.09,304.48 L513.61,306.35 L514.12,305.86 L514.63,305.95 L515.15,306.37 L515.66,306.3 L516.17,306.1 L516.69,304.97 L517.2,306.34 L517.71,306.67 L518.22,306.42 L518.74,306.08 L519.25,307.08 L519.76,306.94 L520.28,307.71 L520.79,306.49 L521.3,306.55 L521.82,306.18 L522.33,307.63 L522.84,305.9 L523.35,306.63 L523.87,307.28 L524.38,307.4 L524.89,307.42 L525.41,307.97 L525.92,307 L526.43,307.8 L526.95,307.94 L527.46,307.37 L527.97,307.67 L528.48,308.12 L529,308.02 L529.51,308.24 L530.02,307.37 L530.54,307.63 L531.05,308.62 L531.56,308.34 L532.08,307.67 L532.59,308.61 L533.1,307.6 L533.61,308.36 L534.13,308.3 L534.64,309.79 L535.15,308.3 L535.67,308.6 L536.18,308.48 L536.69,308.53 L537.21,308.51 L537.72,309.05 L538.23,308.31 L538.74,308.75 L539.26,309.33 L539.77,309.32 L540.28,308.7 L540.8,308.61 L541.31,309.94 L541.82,309.87 L542.34,308.23 L542.85,308.79 L543.36,307.29 L543.87,309.59 L544.39,308.91 L544.9,309.1 L545.41,308.49 L545.93,308.04 L546.44,307.94 L546.95,309.32 L547.47,308.14 L547.98,309.43 L548.49,308.62 L549,308.69 L549.52,308.46 L550.03,309.21 L550.36,308.08" fill="none" stroke="#ab7f3a" stroke-width="0.9" stroke-linejoin="round"/>
<line x1="408.3" y1="220.2" x2="408.3" y2="325.6" stroke="#7a7a7a" stroke-width="0.9"/>
<line x1="408.3" y1="325.6" x2="550.5" y2="325.6" stroke="#7a7a7a" stroke-width="0.9"/>
<line x1="406.9" y1="325.6" x2="408.3" y2="325.6" stroke="#7a7a7a" stroke-width="0.8"/>
<text x="404.6" y="328.5" font-size="8.1" fill="#333" text-anchor="end" stroke="#333" stroke-width="0.22">-5</text>
<line x1="406.9" y1="310.59" x2="408.3" y2="310.59" stroke="#7a7a7a" stroke-width="0.8"/>
<text x="404.6" y="313.49" font-size="8.1" fill="#333" text-anchor="end" stroke="#333" stroke-width="0.22">0</text>
<line x1="406.9" y1="295.57" x2="408.3" y2="295.57" stroke="#7a7a7a" stroke-width="0.8"/>
<text x="404.6" y="298.47" font-size="8.1" fill="#333" text-anchor="end" stroke="#333" stroke-width="0.22">5</text>
<line x1="406.9" y1="280.56" x2="408.3" y2="280.56" stroke="#7a7a7a" stroke-width="0.8"/>
<text x="404.6" y="283.46" font-size="8.1" fill="#333" text-anchor="end" stroke="#333" stroke-width="0.22">10</text>
<line x1="406.9" y1="265.54" x2="408.3" y2="265.54" stroke="#7a7a7a" stroke-width="0.8"/>
<text x="404.6" y="268.44" font-size="8.1" fill="#333" text-anchor="end" stroke="#333" stroke-width="0.22">15</text>
<line x1="406.9" y1="250.53" x2="408.3" y2="250.53" stroke="#7a7a7a" stroke-width="0.8"/>
<text x="404.6" y="253.43" font-size="8.1" fill="#333" text-anchor="end" stroke="#333" stroke-width="0.22">20</text>
<line x1="406.9" y1="235.51" x2="408.3" y2="235.51" stroke="#7a7a7a" stroke-width="0.8"/>
<text x="404.6" y="238.41" font-size="8.1" fill="#333" text-anchor="end" stroke="#333" stroke-width="0.22">25</text>
<line x1="406.9" y1="220.5" x2="408.3" y2="220.5" stroke="#7a7a7a" stroke-width="0.8"/>
<text x="404.6" y="223.4" font-size="8.1" fill="#333" text-anchor="end" stroke="#333" stroke-width="0.22">30</text>
<line x1="422.3" y1="325.6" x2="422.3" y2="327.2" stroke="#7a7a7a" stroke-width="0.8"/>
<text x="422.3" y="337.2" font-size="8.1" fill="#333" text-anchor="middle" stroke="#333" stroke-width="0.22">0</text>
<line x1="450.8" y1="325.6" x2="450.8" y2="327.2" stroke="#7a7a7a" stroke-width="0.8"/>
<text x="450.8" y="337.2" font-size="8.1" fill="#333" text-anchor="middle" stroke="#333" stroke-width="0.22">10</text>
<line x1="479.3" y1="325.6" x2="479.3" y2="327.2" stroke="#7a7a7a" stroke-width="0.8"/>
<text x="479.3" y="337.2" font-size="8.1" fill="#333" text-anchor="middle" stroke="#333" stroke-width="0.22">20</text>
<line x1="507.8" y1="325.6" x2="507.8" y2="327.2" stroke="#7a7a7a" stroke-width="0.8"/>
<text x="507.8" y="337.2" font-size="8.1" fill="#333" text-anchor="middle" stroke="#333" stroke-width="0.22">30</text>
<line x1="536.3" y1="325.6" x2="536.3" y2="327.2" stroke="#7a7a7a" stroke-width="0.8"/>
<text x="536.3" y="337.2" font-size="8.1" fill="#333" text-anchor="middle" stroke="#333" stroke-width="0.22">40</text>
<text x="423.5" y="322.1" font-size="7.1" fill="#111" stroke="#111" stroke-width="0.22">DBS</text>
<text x="393" y="265" font-size="13.9" fill="#2c2c2c" text-anchor="middle" transform="rotate(-90 393 265)" stroke="#2c2c2c" stroke-width="0.18">z-score</text>
<text x="548.2" y="349.4" font-size="14" fill="#2c2c2c" text-anchor="end" stroke="#2c2c2c" stroke-width="0.18">Time interval (s)</text>
<rect x="76.2" y="398.8" width="13.8" height="104.6" fill="#e9e9e9"/>
<path d="M61.74,487.43 L62.26,487.5 L62.77,487.15 L63.29,487.25 L63.8,487.72 L64.32,487.41 L64.83,487.47 L65.35,487.25 L65.86,487.65 L66.38,487.51 L66.89,487.2 L67.41,487.43 L67.93,487.2 L68.44,487.65 L68.96,486.81 L69.47,487.47 L69.99,487.13 L70.5,487.3 L71.02,487.6 L71.53,487.18 L72.05,487.21 L72.56,487.06 L73.08,487.75 L73.59,487.47 L74.11,486.51 L74.62,486.93 L75.14,487.55 L75.65,488.18 L76.17,486.31 L76.68,476.75 L77.2,466.12 L77.71,464.53 L78.23,465.44 L78.74,467.14 L79.26,468.62 L79.77,469.21 L80.29,470.35 L80.8,472.1 L81.32,473.35 L81.83,474.65 L82.35,475.63 L82.86,475.47 L83.38,475.34 L83.89,474.92 L84.41,474.51 L84.93,473.77 L85.44,473.6 L85.96,473.31 L86.47,472.83 L86.99,471.95 L87.5,471.92 L88.02,470.52 L88.53,470.59 L89.05,470.14 L89.56,469.7 L90.08,469 L90.59,469.53 L91.11,469.42 L91.62,469.36 L92.14,468.87 L92.65,469.05 L93.17,468.8 L93.68,468.93 L94.2,468.16 L94.71,469.05 L95.23,468.44 L95.74,468.74 L96.26,467.78 L96.77,468.06 L97.29,467.46 L97.8,468.17 L98.32,467.98 L98.83,467.8 L99.35,467.75 L99.86,467.94 L100.38,467.96 L100.9,468.63 L101.41,468.68 L101.93,467.84 L102.44,468.66 L102.96,469.38 L103.47,469.32 L103.99,469.8 L104.5,470.08 L105.02,470.76 L105.53,471.88 L106.05,471.51 L106.56,471.75 L107.08,473.05 L107.59,473.35 L108.11,473.52 L108.62,474.25 L109.14,475.09 L109.65,475.29 L110.17,475.27 L110.68,475.98 L111.2,476.5 L111.71,474.99 L112.23,476.03 L112.74,476.02 L113.26,476.67 L113.77,476.48 L114.29,476.4 L114.8,477.05 L115.32,477.13 L115.83,477.99 L116.35,478.34 L116.87,477.94 L117.38,479.2 L117.9,479.31 L118.41,479.97 L118.93,479.09 L119.44,479.81 L119.96,479.83 L120.47,479.94 L120.99,479.61 L121.5,480.15 L122.02,480.49 L122.53,480.64 L123.05,481.04 L123.56,481.08 L124.08,481.25 L124.59,481.19 L125.11,481.37 L125.62,481.71 L126.14,481.17 L126.65,481.88 L127.17,481.38 L127.68,481.59 L128.2,482.36 L128.71,482.35 L129.23,482.23 L129.74,482.19 L130.26,482.93 L130.77,482.22 L131.29,483.27 L131.8,483.1 L132.32,482.61 L132.84,483.68 L133.35,482.76 L133.87,483.31 L134.38,483.07 L134.9,484.17 L135.41,484.16 L135.93,483.3 L136.44,483.06 L136.96,483.67 L137.47,484.13 L137.99,482.72 L138.5,483.48 L139.02,483.11 L139.53,483.26 L140.05,483.88 L140.56,483.55 L141.08,483.73 L141.59,483.55 L142.11,483.83 L142.62,483.67 L143.14,483.15 L143.65,484.47 L144.17,483.08 L144.68,484.22 L145.2,485 L145.71,484.1 L146.23,483.87 L146.74,484.78 L147.26,483.95 L147.77,483.78 L148.29,484.45 L148.81,483.97 L149.32,484.22 L149.84,484.73 L150.35,484.3 L150.87,484.55 L151.38,484.57 L151.9,484.12 L152.41,484.63 L152.93,484.68 L153.44,484.78 L153.96,485.02 L154.47,485.68 L154.99,484.82 L155.5,484.96 L156.02,484.88 L156.53,484.66 L157.05,485.18 L157.56,484.86 L158.08,485.19 L158.59,485.06 L159.11,484.75 L159.62,485.96 L160.14,484.74 L160.65,485.41 L161.17,484.93 L161.68,485.28 L162.2,485.86 L162.71,485.63 L163.23,485.19 L163.74,486.1 L164.26,484.92 L164.78,485.52 L165.29,485.82 L165.81,485.42 L166.32,485.09 L166.84,485.11 L167.35,485.9 L167.87,485.41 L168.38,485.39 L168.9,485.69 L169.41,485.58 L169.93,485.1 L170.44,485.46 L170.96,485.25 L171.47,485.21 L171.99,485.83 L172.5,485.46 L173.02,485.38 L173.53,486.06 L174.05,485.81 L174.56,485.5 L175.08,486.12 L175.59,485.92 L176.11,486 L176.62,485.81 L177.14,485.83 L177.65,486.29 L178.17,486.97 L178.68,485.26 L179.2,486.04 L179.71,485.95 L180.23,485.78 L180.75,486.28 L181.26,486.18 L181.78,486.19 L182.29,486.32 L182.81,485.25 L183.32,485.64 L183.84,485.84 L184.35,485.79 L184.87,486.03 L185.38,486.24 L185.9,486.15 L186.41,485.96 L186.93,486.62 L187.44,486.27 L187.96,486.42 L188.47,486.06 L188.99,486.37 L189.5,487.41 L190.02,486.38 L190.53,486.38 L191.05,486.55 L191.56,486.72 L192.08,486.47 L192.59,486.79 L193.11,486.22 L193.62,486.79 L194.14,486.65 L194.65,487.22 L195.17,486.95 L195.68,487 L196.2,486.8 L196.72,487.18 L197.23,486.66 L197.75,486.89 L198.26,486.29 L198.78,486.92 L199.29,486.72 L199.81,486.66 L200.32,486.85 L200.84,487.15 L201.35,486.51 L201.87,487.53 L202.38,486.84 L202.9,487.12 L203.41,487.15 L203.93,487.81 L204.44,487.49 L204.96,487.59 L205.16,487.06 L205.16,490.09 L204.96,490.42 L204.44,490.34 L203.93,490 L203.41,489.66 L202.9,490.08 L202.38,489.82 L201.87,490.69 L201.35,489.48 L200.84,489.87 L200.32,489.58 L199.81,490.48 L199.29,489.47 L198.78,490.52 L198.26,489.84 L197.75,489.83 L197.23,489.92 L196.72,489.73 L196.2,490.45 L195.68,489.31 L195.17,490.68 L194.65,489.64 L194.14,490.27 L193.62,490.35 L193.11,489.93 L192.59,489.84 L192.08,489.91 L191.56,489.6 L191.05,490.14 L190.53,489.9 L190.02,490.68 L189.5,490.37 L188.99,490.48 L188.47,489.87 L187.96,489.8 L187.44,489.95 L186.93,489.82 L186.41,490.36 L185.9,489.76 L185.38,489.94 L184.87,490.35 L184.35,489.37 L183.84,489.73 L183.32,490.11 L182.81,489.3 L182.29,489.42 L181.78,489.71 L181.26,488.88 L180.75,489.91 L180.23,490.14 L179.71,489.58 L179.2,490.21 L178.68,490.04 L178.17,489.22 L177.65,489.68 L177.14,489.97 L176.62,489.77 L176.11,489.13 L175.59,489.59 L175.08,488.91 L174.56,489.57 L174.05,488.94 L173.53,489.87 L173.02,489.64 L172.5,489.85 L171.99,489.73 L171.47,489.47 L170.96,489.45 L170.44,489.53 L169.93,489.76 L169.41,490.03 L168.9,489.13 L168.38,489.53 L167.87,489.19 L167.35,490.1 L166.84,489.65 L166.32,489.51 L165.81,488.95 L165.29,489.94 L164.78,489.28 L164.26,489.52 L163.74,489.74 L163.23,489.13 L162.71,489.74 L162.2,489.41 L161.68,489.91 L161.17,489.13 L160.65,489.78 L160.14,489.09 L159.62,489.21 L159.11,489.13 L158.59,489.63 L158.08,489.7 L157.56,489.06 L157.05,488.97 L156.53,489.36 L156.02,488.92 L155.5,489.44 L154.99,489.11 L154.47,489.76 L153.96,489.08 L153.44,489.11 L152.93,489.62 L152.41,489.07 L151.9,489.64 L151.38,488.38 L150.87,489.19 L150.35,488.97 L149.84,489.14 L149.32,488.56 L148.81,489.05 L148.29,488.92 L147.77,488.72 L147.26,488.08 L146.74,488.97 L146.23,488.99 L145.71,489.18 L145.2,488.73 L144.68,488.64 L144.17,488.7 L143.65,488.34 L143.14,488.48 L142.62,488.33 L142.11,488.73 L141.59,488.44 L141.08,488.48 L140.56,487.75 L140.05,487.93 L139.53,488.35 L139.02,488.19 L138.5,487.53 L137.99,488.42 L137.47,488.55 L136.96,488.26 L136.44,488.21 L135.93,488.01 L135.41,488.27 L134.9,487.11 L134.38,488.1 L133.87,489.06 L133.35,487.83 L132.84,488.34 L132.32,487.11 L131.8,487.63 L131.29,487.19 L130.77,487.36 L130.26,487.36 L129.74,487.68 L129.23,487.65 L128.71,486.98 L128.2,487.48 L127.68,487.96 L127.17,487.93 L126.65,487.45 L126.14,487.12 L125.62,487.09 L125.11,487.5 L124.59,487.59 L124.08,487.16 L123.56,487.35 L123.05,486.95 L122.53,486.74 L122.02,486.76 L121.5,486.88 L120.99,486.86 L120.47,486.53 L119.96,486.52 L119.44,486.77 L118.93,486.66 L118.41,485.52 L117.9,485.68 L117.38,486.06 L116.87,486.06 L116.35,485.39 L115.83,484.92 L115.32,484.7 L114.8,484.61 L114.29,484.44 L113.77,484.51 L113.26,483.5 L112.74,483.97 L112.23,484.05 L111.71,483.48 L111.2,483.56 L110.68,483.47 L110.17,483.36 L109.65,482.19 L109.14,482.43 L108.62,481.63 L108.11,482.4 L107.59,480.62 L107.08,480.93 L106.56,481.18 L106.05,480.11 L105.53,480.25 L105.02,480 L104.5,479.46 L103.99,479.24 L103.47,479.44 L102.96,479.14 L102.44,478.36 L101.93,477.88 L101.41,477.94 L100.9,478.35 L100.38,478.62 L99.86,478.23 L99.35,478.07 L98.83,478.44 L98.32,477.35 L97.8,478.16 L97.29,478.48 L96.77,478.4 L96.26,478.34 L95.74,478.23 L95.23,478 L94.71,478.2 L94.2,477.89 L93.68,478.31 L93.17,479.2 L92.65,478.55 L92.14,479.54 L91.62,479.51 L91.11,478.98 L90.59,478.7 L90.08,478.77 L89.56,479.22 L89.05,480.1 L88.53,480.36 L88.02,480.83 L87.5,479.8 L86.99,481.01 L86.47,481.31 L85.96,481.21 L85.44,481.71 L84.93,481.94 L84.41,482.62 L83.89,482.46 L83.38,483.34 L82.86,483.03 L82.35,482.05 L81.83,481.99 L81.32,480.23 L80.8,479.18 L80.29,477.48 L79.77,476.3 L79.26,474.66 L78.74,473.04 L78.23,471.51 L77.71,470.87 L77.2,471.59 L76.68,480.27 L76.17,487.9 L75.65,488.89 L75.14,489.03 L74.62,489.09 L74.11,488.68 L73.59,488.94 L73.08,489.65 L72.56,490.16 L72.05,489.08 L71.53,489.41 L71.02,489.5 L70.5,489.37 L69.99,489.25 L69.47,489.13 L68.96,489.29 L68.44,489.1 L67.93,489.65 L67.41,488.78 L66.89,489.16 L66.38,489.37 L65.86,489.93 L65.35,489.84 L64.83,488.89 L64.32,488.92 L63.8,489.32 L63.29,488.57 L62.77,489.1 L62.26,489.59 L61.74,489.23Z" fill="rgba(130,210,180,0.32)"/>
<path d="M61.74,487.46 L62.26,488.42 L62.77,488.15 L63.29,488.15 L63.8,488.19 L64.32,487.62 L64.83,488.25 L65.35,488.24 L65.86,488.37 L66.38,488.31 L66.89,488.34 L67.41,487.84 L67.93,488.3 L68.44,488.28 L68.96,488.34 L69.47,487.95 L69.99,488.54 L70.5,487.87 L71.02,488.59 L71.53,487.98 L72.05,487.4 L72.56,488.2 L73.08,488.36 L73.59,488.88 L74.11,487.96 L74.62,488.31 L75.14,487.88 L75.65,488.63 L76.17,486.97 L76.68,477.28 L77.2,468.54 L77.71,467.86 L78.23,469.28 L78.74,469.87 L79.26,470.95 L79.77,472.5 L80.29,474.86 L80.8,476.3 L81.32,477.6 L81.83,478.73 L82.35,479.21 L82.86,479.01 L83.38,478 L83.89,478.56 L84.41,477.66 L84.93,478.79 L85.44,476.9 L85.96,476.86 L86.47,476.63 L86.99,476.04 L87.5,475.73 L88.02,474.73 L88.53,474.89 L89.05,475.77 L89.56,475.48 L90.08,473.64 L90.59,474.24 L91.11,473.47 L91.62,474.2 L92.14,474.26 L92.65,474.02 L93.17,473.59 L93.68,473.54 L94.2,473.8 L94.71,473.13 L95.23,472.98 L95.74,473.6 L96.26,473.6 L96.77,473.93 L97.29,473.08 L97.8,472.94 L98.32,473.31 L98.83,473.31 L99.35,473.14 L99.86,473.11 L100.38,472.9 L100.9,472.81 L101.41,473.03 L101.93,472.89 L102.44,474.11 L102.96,473.62 L103.47,474.04 L103.99,475.05 L104.5,475.23 L105.02,475.09 L105.53,475.66 L106.05,476.71 L106.56,476.8 L107.08,476.22 L107.59,476.95 L108.11,477.71 L108.62,477.48 L109.14,478.9 L109.65,478.86 L110.17,478.6 L110.68,479.46 L111.2,480.03 L111.71,479.36 L112.23,479.02 L112.74,481.18 L113.26,480.11 L113.77,481.01 L114.29,480.81 L114.8,481.62 L115.32,479.99 L115.83,481.85 L116.35,481.79 L116.87,482.44 L117.38,482.85 L117.9,482.85 L118.41,482.77 L118.93,482.24 L119.44,483.12 L119.96,482.66 L120.47,484.01 L120.99,483.52 L121.5,483.82 L122.02,484.42 L122.53,481.96 L123.05,483.94 L123.56,483.79 L124.08,484.35 L124.59,484.36 L125.11,484.68 L125.62,483.8 L126.14,484.59 L126.65,484.57 L127.17,484.52 L127.68,485.3 L128.2,484.71 L128.71,485 L129.23,484.8 L129.74,485.29 L130.26,485.18 L130.77,485.03 L131.29,484.9 L131.8,485.76 L132.32,485.03 L132.84,486.02 L133.35,485.68 L133.87,485.55 L134.38,485.56 L134.9,486.84 L135.41,486.14 L135.93,485.78 L136.44,485.28 L136.96,486.08 L137.47,485.05 L137.99,486.66 L138.5,485.79 L139.02,485.6 L139.53,485.88 L140.05,485.8 L140.56,485.51 L141.08,486.37 L141.59,485.74 L142.11,485.56 L142.62,486.21 L143.14,487.24 L143.65,486.75 L144.17,486.62 L144.68,486.76 L145.2,486.09 L145.71,486.72 L146.23,485.2 L146.74,486.15 L147.26,487.09 L147.77,486.64 L148.29,485.82 L148.81,486.27 L149.32,487.12 L149.84,486.18 L150.35,486.94 L150.87,485.7 L151.38,487.06 L151.9,486.55 L152.41,486.6 L152.93,487.12 L153.44,487.02 L153.96,486.43 L154.47,486.78 L154.99,487.08 L155.5,486.88 L156.02,486.29 L156.53,486.71 L157.05,486.96 L157.56,487.06 L158.08,487.99 L158.59,487.2 L159.11,487.52 L159.62,486.97 L160.14,487.63 L160.65,487.15 L161.17,487.88 L161.68,486.97 L162.2,487.76 L162.71,487.43 L163.23,487.15 L163.74,487.59 L164.26,487.44 L164.78,486.94 L165.29,486.62 L165.81,488.33 L166.32,487.91 L166.84,487.17 L167.35,487.05 L167.87,487.74 L168.38,487.48 L168.9,487.62 L169.41,486.46 L169.93,487.65 L170.44,488.14 L170.96,488.32 L171.47,488.2 L171.99,486.99 L172.5,487.81 L173.02,486.7 L173.53,487.34 L174.05,487.48 L174.56,487.37 L175.08,487.32 L175.59,487.27 L176.11,488.19 L176.62,488.01 L177.14,488.02 L177.65,487.72 L178.17,487.91 L178.68,488.39 L179.2,488.15 L179.71,486.99 L180.23,486.84 L180.75,488.28 L181.26,487.71 L181.78,487.92 L182.29,488.33 L182.81,487.6 L183.32,487.99 L183.84,487.18 L184.35,487.77 L184.87,488.16 L185.38,489.29 L185.9,488.09 L186.41,487.66 L186.93,488.42 L187.44,487.67 L187.96,487.79 L188.47,488.97 L188.99,488.24 L189.5,488.01 L190.02,487.82 L190.53,488.12 L191.05,488.22 L191.56,488.4 L192.08,488.39 L192.59,488.26 L193.11,488.79 L193.62,487.99 L194.14,488.47 L194.65,488.08 L195.17,488.58 L195.68,488.16 L196.2,488.31 L196.72,487.96 L197.23,488.18 L197.75,487.97 L198.26,488.51 L198.78,488.47 L199.29,488.58 L199.81,489.06 L200.32,488.54 L200.84,487.97 L201.35,488.13 L201.87,488.92 L202.38,488.38 L202.9,488.18 L203.41,489.19 L203.93,488.39 L204.44,488.41 L204.96,488.21 L205.16,488.45" fill="none" stroke="#3f9481" stroke-width="0.9" stroke-linejoin="round"/>
<path d="M61.74,487.14 L62.26,485.14 L62.77,485.52 L63.29,486.16 L63.8,485.47 L64.32,485.92 L64.83,485.69 L65.35,486.96 L65.86,486.13 L66.38,485.79 L66.89,486.3 L67.41,485.46 L67.93,485.65 L68.44,486.25 L68.96,486.79 L69.47,486.12 L69.99,485.91 L70.5,486.33 L71.02,485.88 L71.53,486.01 L72.05,487.07 L72.56,486.55 L73.08,487.18 L73.59,486.6 L74.11,487.62 L74.62,486.42 L75.14,486.62 L75.65,487.05 L76.17,483.51 L76.68,466.66 L77.2,454.75 L77.71,451.65 L78.23,446.9 L78.74,443.43 L79.26,441.67 L79.77,442.76 L80.29,442.93 L80.8,444.11 L81.32,444.35 L81.83,443.15 L82.35,443.25 L82.86,442.42 L83.38,439.82 L83.89,438.25 L84.41,436.96 L84.93,435 L85.44,432.78 L85.96,433.29 L86.47,432.21 L86.99,430.85 L87.5,428.31 L88.02,424.13 L88.53,420.41 L89.05,417.7 L89.56,416 L90.08,411.18 L90.59,408.15 L91.11,404.96 L91.62,402.35 L92.14,400.75 L92.65,403.08 L93.17,405.98 L93.68,408.35 L94.2,410.27 L94.71,410.65 L95.23,413.53 L95.74,413.99 L96.26,415.96 L96.77,416.93 L97.29,418.73 L97.8,418.76 L98.32,419.48 L98.83,420.94 L99.35,422.46 L99.86,423.4 L100.38,424.55 L100.9,425.96 L101.41,425.85 L101.93,426.66 L102.44,429.76 L102.96,429.51 L103.47,429.99 L103.99,429.69 L104.5,430.42 L105.02,432.01 L105.53,432.62 L106.05,433.48 L106.56,434.48 L107.08,435.11 L107.59,436.64 L108.11,437.81 L108.62,438.76 L109.14,439.73 L109.65,441.64 L110.17,441.32 L110.68,442.25 L111.2,443.38 L111.71,443.38 L112.23,443.76 L112.74,444.85 L113.26,445.98 L113.77,446.56 L114.29,447.96 L114.8,447.97 L115.32,447.66 L115.83,449.53 L116.35,450.24 L116.87,451.42 L117.38,452.05 L117.9,452.15 L118.41,452.33 L118.93,453.16 L119.44,453.7 L119.96,454.2 L120.47,453.73 L120.99,455.35 L121.5,454.99 L122.02,456.21 L122.53,456.92 L123.05,456.92 L123.56,457.7 L124.08,456.86 L124.59,457.88 L125.11,458.79 L125.62,458.89 L126.14,460.39 L126.65,459.3 L127.17,459.91 L127.68,459.1 L128.2,460.38 L128.71,460.19 L129.23,461.82 L129.74,462.34 L130.26,461.47 L130.77,462.69 L131.29,462.9 L131.8,463.5 L132.32,462.65 L132.84,464.34 L133.35,463.79 L133.87,464.5 L134.38,465.47 L134.9,464.47 L135.41,464.36 L135.93,465.45 L136.44,466.38 L136.96,466.28 L137.47,467.8 L137.99,467.55 L138.5,468.79 L139.02,468.74 L139.53,469.16 L140.05,469.4 L140.56,469.14 L141.08,471.09 L141.59,470.73 L142.11,471.88 L142.62,473.09 L143.14,472.12 L143.65,472.39 L144.17,471.79 L144.68,472.11 L145.2,471.21 L145.71,471.77 L146.23,471.88 L146.74,472.51 L147.26,473.71 L147.77,473.58 L148.29,473.76 L148.81,473.64 L149.32,473.45 L149.84,474.21 L150.35,473.94 L150.87,474.33 L151.38,473.87 L151.9,474.9 L152.41,475.09 L152.93,475.12 L153.44,475.16 L153.96,475.9 L154.47,475.57 L154.99,475.81 L155.5,475.55 L156.02,475.81 L156.53,476.38 L157.05,475.95 L157.56,476.43 L158.08,476.09 L158.59,477.1 L159.11,476.57 L159.62,477.66 L160.14,477.43 L160.65,476.78 L161.17,476.81 L161.68,477.55 L162.2,477.3 L162.71,477.89 L163.23,477.99 L163.74,477.58 L164.26,477.97 L164.78,476.46 L165.29,476.96 L165.81,477.91 L166.32,477.05 L166.84,477.64 L167.35,478.69 L167.87,478.65 L168.38,478.9 L168.9,477.81 L169.41,479.71 L169.93,479.03 L170.44,479.13 L170.96,478.88 L171.47,479.65 L171.99,478.77 L172.5,480.44 L173.02,479.46 L173.53,480.02 L174.05,479.71 L174.56,479.69 L175.08,480.19 L175.59,479.67 L176.11,479.74 L176.62,480.87 L177.14,480.6 L177.65,480 L178.17,480.87 L178.68,480.21 L179.2,480.48 L179.71,481.39 L180.23,480.86 L180.75,480.99 L181.26,481.13 L181.78,480.78 L182.29,481.61 L182.81,480.46 L183.32,481.43 L183.84,480.82 L184.35,481.42 L184.87,481.31 L185.38,481.6 L185.9,481.18 L186.41,481.77 L186.93,481.65 L187.44,482.78 L187.96,481.83 L188.47,482.61 L188.99,481.71 L189.5,482.56 L190.02,482.84 L190.53,481.57 L191.05,483.54 L191.56,483.58 L192.08,483.07 L192.59,484.16 L193.11,483.91 L193.62,483.56 L194.14,483.19 L194.65,483.07 L195.17,483.1 L195.68,484.14 L196.2,484.29 L196.72,485.06 L197.23,485.82 L197.75,485.37 L198.26,485.36 L198.78,485.03 L199.29,485.5 L199.81,485.12 L200.32,485.43 L200.84,484.83 L201.35,484.71 L201.87,485.24 L202.38,485.48 L202.9,485.58 L203.41,486.22 L203.93,486.06 L204.44,486.41 L204.96,486.58 L205.16,486.07 L205.16,489.26 L204.96,489.49 L204.44,488.75 L203.93,490.31 L203.41,489.09 L202.9,489.85 L202.38,490.09 L201.87,488.61 L201.35,490.1 L200.84,488.9 L200.32,488.99 L199.81,489.77 L199.29,490.17 L198.78,489.16 L198.26,488.68 L197.75,488.75 L197.23,489.05 L196.72,488.13 L196.2,489.24 L195.68,488.04 L195.17,487.63 L194.65,487.52 L194.14,487.97 L193.62,488.02 L193.11,488.38 L192.59,487.13 L192.08,488.19 L191.56,488.46 L191.05,486.57 L190.53,487.59 L190.02,486.06 L189.5,487.88 L188.99,487.69 L188.47,487.47 L187.96,487.03 L187.44,487.39 L186.93,486 L186.41,485.83 L185.9,486.26 L185.38,485.98 L184.87,486.98 L184.35,486.52 L183.84,486.5 L183.32,486.29 L182.81,486.28 L182.29,486.8 L181.78,486.1 L181.26,486.15 L180.75,486.4 L180.23,485.91 L179.71,486.43 L179.2,486.43 L178.68,484.77 L178.17,485.53 L177.65,486.32 L177.14,485.78 L176.62,485.91 L176.11,485.84 L175.59,485.17 L175.08,486.11 L174.56,485.37 L174.05,484.56 L173.53,484.32 L173.02,484.81 L172.5,485.2 L171.99,484.66 L171.47,485.03 L170.96,484.01 L170.44,483.66 L169.93,483.89 L169.41,484.98 L168.9,483.63 L168.38,484.43 L167.87,484.07 L167.35,484.52 L166.84,484.58 L166.32,482.88 L165.81,483.99 L165.29,484.74 L164.78,484.13 L164.26,484.29 L163.74,483.36 L163.23,483.62 L162.71,483.16 L162.2,484.57 L161.68,483.63 L161.17,483.58 L160.65,483.07 L160.14,483.78 L159.62,482.91 L159.11,483.92 L158.59,483.28 L158.08,482.36 L157.56,482.58 L157.05,483.06 L156.53,483.17 L156.02,482.34 L155.5,482.36 L154.99,482.36 L154.47,483.13 L153.96,482.07 L153.44,482.58 L152.93,482.53 L152.41,482.03 L151.9,481.64 L151.38,481.93 L150.87,482.09 L150.35,481.67 L149.84,481.57 L149.32,481.05 L148.81,479.91 L148.29,480.76 L147.77,480.82 L147.26,480.53 L146.74,480.55 L146.23,480.59 L145.71,479.88 L145.2,480.21 L144.68,481.17 L144.17,480.05 L143.65,480.47 L143.14,479.81 L142.62,480.07 L142.11,480.77 L141.59,480.8 L141.08,479.76 L140.56,479.46 L140.05,479.79 L139.53,479.86 L139.02,480.18 L138.5,478.66 L137.99,479.04 L137.47,479.95 L136.96,480.13 L136.44,479.8 L135.93,480.3 L135.41,479.13 L134.9,478.08 L134.38,479.1 L133.87,478.85 L133.35,478.7 L132.84,478.03 L132.32,477.79 L131.8,478.29 L131.29,478.65 L130.77,477.56 L130.26,478.19 L129.74,477.47 L129.23,476.38 L128.71,476.68 L128.2,476.31 L127.68,475.52 L127.17,474.36 L126.65,475.87 L126.14,475.15 L125.62,474.79 L125.11,474.82 L124.59,474.74 L124.08,474.9 L123.56,474.61 L123.05,473.47 L122.53,473.65 L122.02,472.52 L121.5,472.99 L120.99,472.54 L120.47,472.96 L119.96,472.04 L119.44,471.37 L118.93,472.6 L118.41,471.74 L117.9,471.18 L117.38,471.01 L116.87,469.21 L116.35,469.06 L115.83,469.94 L115.32,468.45 L114.8,468.06 L114.29,466.83 L113.77,467.01 L113.26,465.8 L112.74,463.74 L112.23,464.31 L111.71,463.56 L111.2,463.01 L110.68,463.31 L110.17,462.1 L109.65,461.08 L109.14,460.1 L108.62,458.44 L108.11,456.94 L107.59,457.51 L107.08,455.79 L106.56,455.69 L106.05,453.79 L105.53,454.06 L105.02,451.98 L104.5,452.38 L103.99,451.54 L103.47,451.42 L102.96,450.75 L102.44,450.66 L101.93,449.3 L101.41,449.73 L100.9,449.23 L100.38,447.91 L99.86,447.06 L99.35,446.93 L98.83,446.47 L98.32,446.13 L97.8,445.38 L97.29,445.54 L96.77,443.99 L96.26,444.29 L95.74,442.28 L95.23,442.15 L94.71,440.85 L94.2,438.97 L93.68,439.05 L93.17,437.06 L92.65,436.16 L92.14,434.17 L91.62,435.12 L91.11,436.8 L90.59,437.95 L90.08,440.3 L89.56,441.28 L89.05,441.05 L88.53,442.82 L88.02,445.19 L87.5,446.5 L86.99,448.14 L86.47,449.3 L85.96,450.27 L85.44,450.58 L84.93,451.46 L84.41,453.22 L83.89,455.11 L83.38,455.05 L82.86,456.25 L82.35,457.88 L81.83,457.96 L81.32,458.18 L80.8,457.7 L80.29,457.24 L79.77,454.57 L79.26,454.51 L78.74,454.52 L78.23,455.94 L77.71,459.27 L77.2,460.97 L76.68,469.26 L76.17,486.48 L75.65,488.47 L75.14,488.85 L74.62,488.88 L74.11,489.37 L73.59,488.19 L73.08,489.04 L72.56,488.81 L72.05,487.52 L71.53,489.27 L71.02,488.36 L70.5,488.8 L69.99,488.36 L69.47,489.27 L68.96,489.08 L68.44,488.65 L67.93,489.04 L67.41,488 L66.89,487.53 L66.38,488.69 L65.86,488.61 L65.35,489.37 L64.83,488.07 L64.32,488.36 L63.8,488.64 L63.29,489.23 L62.77,487.94 L62.26,488.83 L61.74,489.7Z" fill="rgba(249,241,203,0.82)"/>
<path d="M61.74,487.55 L62.26,487.9 L62.77,487.74 L63.29,487.95 L63.8,486.02 L64.32,487.31 L64.83,487.57 L65.35,486.75 L65.86,487.05 L66.38,487.5 L66.89,487.07 L67.41,487.27 L67.93,486.8 L68.44,486.54 L68.96,487.57 L69.47,487.43 L69.99,487.5 L70.5,486.77 L71.02,487.2 L71.53,487 L72.05,486.92 L72.56,487.74 L73.08,487.33 L73.59,486.68 L74.11,486.91 L74.62,486.98 L75.14,487.55 L75.65,487.6 L76.17,485.8 L76.68,468.3 L77.2,457.74 L77.71,455.9 L78.23,451.11 L78.74,449.15 L79.26,447.66 L79.77,448.39 L80.29,450.17 L80.8,451.97 L81.32,451.25 L81.83,450.95 L82.35,450.36 L82.86,448.5 L83.38,447.31 L83.89,446.87 L84.41,444.95 L84.93,444.4 L85.44,442.27 L85.96,440.21 L86.47,440.41 L86.99,438.8 L87.5,438.43 L88.02,434.98 L88.53,431.36 L89.05,428.96 L89.56,428.06 L90.08,425.55 L90.59,422.22 L91.11,421.7 L91.62,419.18 L92.14,416.82 L92.65,418.18 L93.17,421.38 L93.68,423.75 L94.2,425.06 L94.71,425.96 L95.23,427.47 L95.74,428.55 L96.26,430.05 L96.77,430.86 L97.29,431.73 L97.8,432 L98.32,432.74 L98.83,434.21 L99.35,433.73 L99.86,436.7 L100.38,436.1 L100.9,436.87 L101.41,438.19 L101.93,437.71 L102.44,440 L102.96,440.64 L103.47,440.76 L103.99,440.69 L104.5,441.06 L105.02,442.1 L105.53,442.62 L106.05,444.23 L106.56,445.17 L107.08,445.8 L107.59,447.64 L108.11,447.88 L108.62,449.22 L109.14,449.61 L109.65,451.39 L110.17,451.91 L110.68,452.6 L111.2,453.02 L111.71,453.8 L112.23,453.98 L112.74,455.3 L113.26,455.17 L113.77,456.05 L114.29,457.37 L114.8,458.4 L115.32,459.6 L115.83,460.35 L116.35,460.5 L116.87,461.17 L117.38,461.63 L117.9,461.35 L118.41,461.91 L118.93,462.6 L119.44,463.23 L119.96,463.16 L120.47,463.71 L120.99,463.85 L121.5,463.89 L122.02,464.05 L122.53,464.49 L123.05,465.69 L123.56,465.17 L124.08,466.8 L124.59,466.56 L125.11,465.98 L125.62,465.59 L126.14,467.01 L126.65,467.53 L127.17,467.84 L127.68,468.61 L128.2,468.4 L128.71,468.91 L129.23,469.46 L129.74,468.79 L130.26,470.2 L130.77,469.24 L131.29,470.02 L131.8,470.4 L132.32,471.31 L132.84,471.48 L133.35,472.44 L133.87,471.38 L134.38,471.85 L134.9,471.7 L135.41,472.49 L135.93,472.14 L136.44,473.47 L136.96,474.13 L137.47,473.05 L137.99,473.05 L138.5,475.61 L139.02,473.6 L139.53,474.78 L140.05,474.98 L140.56,476 L141.08,475.98 L141.59,475.33 L142.11,476.29 L142.62,476.11 L143.14,476.31 L143.65,475.26 L144.17,475.9 L144.68,477.14 L145.2,476.78 L145.71,477.22 L146.23,477.44 L146.74,477.18 L147.26,476.35 L147.77,477.03 L148.29,476.82 L148.81,477.38 L149.32,477.65 L149.84,477.53 L150.35,477.75 L150.87,476.85 L151.38,477.05 L151.9,477.95 L152.41,477.97 L152.93,479.49 L153.44,478.65 L153.96,477.48 L154.47,479.3 L154.99,478.6 L155.5,478.52 L156.02,479.51 L156.53,479.55 L157.05,479.8 L157.56,479.26 L158.08,479.79 L158.59,479.11 L159.11,479.39 L159.62,480.11 L160.14,478.84 L160.65,480.44 L161.17,480.68 L161.68,480.54 L162.2,480.94 L162.71,480.74 L163.23,480.62 L163.74,480.16 L164.26,481.53 L164.78,481.5 L165.29,481.25 L165.81,481.08 L166.32,480.77 L166.84,481.51 L167.35,480.4 L167.87,481.56 L168.38,481.5 L168.9,481.46 L169.41,480.98 L169.93,481.54 L170.44,481.8 L170.96,482.2 L171.47,481.94 L171.99,481.92 L172.5,482.43 L173.02,482.36 L173.53,483.43 L174.05,482.83 L174.56,482.04 L175.08,482.01 L175.59,482.89 L176.11,484.07 L176.62,482.06 L177.14,483.19 L177.65,481.83 L178.17,483.46 L178.68,482.79 L179.2,483.69 L179.71,482.7 L180.23,482.86 L180.75,484.08 L181.26,482.89 L181.78,482.12 L182.29,483.79 L182.81,484.38 L183.32,483.66 L183.84,484.09 L184.35,484.74 L184.87,484.59 L185.38,483.98 L185.9,485 L186.41,483.72 L186.93,484.15 L187.44,484.57 L187.96,483.84 L188.47,485.16 L188.99,484.42 L189.5,485.59 L190.02,485.17 L190.53,484.76 L191.05,485.5 L191.56,485.38 L192.08,485.1 L192.59,484.75 L193.11,484.99 L193.62,485.54 L194.14,486.04 L194.65,486.77 L195.17,485.23 L195.68,485.27 L196.2,487.5 L196.72,486.02 L197.23,486.62 L197.75,486.33 L198.26,486.65 L198.78,487.02 L199.29,487.03 L199.81,487.15 L200.32,486.62 L200.84,487.46 L201.35,487.71 L201.87,487.17 L202.38,487.27 L202.9,487.46 L203.41,487.62 L203.93,487.07 L204.44,487.34 L204.96,487.88 L205.16,488.13" fill="none" stroke="#ab7f3a" stroke-width="0.9" stroke-linejoin="round"/>
<line x1="61.6" y1="397.5" x2="61.6" y2="503.4" stroke="#7a7a7a" stroke-width="0.9"/>
<line x1="61.6" y1="503.4" x2="205.3" y2="503.4" stroke="#7a7a7a" stroke-width="0.9"/>
<line x1="60.2" y1="503.4" x2="61.6" y2="503.4" stroke="#7a7a7a" stroke-width="0.8"/>
<text x="57.9" y="506.3" font-size="8.1" fill="#333" text-anchor="end" stroke="#333" stroke-width="0.22">-5</text>
<line x1="60.2" y1="488.31" x2="61.6" y2="488.31" stroke="#7a7a7a" stroke-width="0.8"/>
<text x="57.9" y="491.21" font-size="8.1" fill="#333" text-anchor="end" stroke="#333" stroke-width="0.22">0</text>
<line x1="60.2" y1="473.23" x2="61.6" y2="473.23" stroke="#7a7a7a" stroke-width="0.8"/>
<text x="57.9" y="476.13" font-size="8.1" fill="#333" text-anchor="end" stroke="#333" stroke-width="0.22">5</text>
<line x1="60.2" y1="458.14" x2="61.6" y2="458.14" stroke="#7a7a7a" stroke-width="0.8"/>
<text x="57.9" y="461.04" font-size="8.1" fill="#333" text-anchor="end" stroke="#333" stroke-width="0.22">10</text>
<line x1="60.2" y1="443.06" x2="61.6" y2="443.06" stroke="#7a7a7a" stroke-width="0.8"/>
<text x="57.9" y="445.96" font-size="8.1" fill="#333" text-anchor="end" stroke="#333" stroke-width="0.22">15</text>
<line x1="60.2" y1="427.97" x2="61.6" y2="427.97" stroke="#7a7a7a" stroke-width="0.8"/>
<text x="57.9" y="430.87" font-size="8.1" fill="#333" text-anchor="end" stroke="#333" stroke-width="0.22">20</text>
<line x1="60.2" y1="412.89" x2="61.6" y2="412.89" stroke="#7a7a7a" stroke-width="0.8"/>
<text x="57.9" y="415.79" font-size="8.1" fill="#333" text-anchor="end" stroke="#333" stroke-width="0.22">25</text>
<line x1="60.2" y1="397.8" x2="61.6" y2="397.8" stroke="#7a7a7a" stroke-width="0.8"/>
<text x="57.9" y="400.7" font-size="8.1" fill="#333" text-anchor="end" stroke="#333" stroke-width="0.22">30</text>
<line x1="76" y1="503.4" x2="76" y2="505" stroke="#7a7a7a" stroke-width="0.8"/>
<text x="76" y="514.9" font-size="8.1" fill="#333" text-anchor="middle" stroke="#333" stroke-width="0.22">0</text>
<line x1="104.62" y1="503.4" x2="104.62" y2="505" stroke="#7a7a7a" stroke-width="0.8"/>
<text x="104.62" y="514.9" font-size="8.1" fill="#333" text-anchor="middle" stroke="#333" stroke-width="0.22">10</text>
<line x1="133.24" y1="503.4" x2="133.24" y2="505" stroke="#7a7a7a" stroke-width="0.8"/>
<text x="133.24" y="514.9" font-size="8.1" fill="#333" text-anchor="middle" stroke="#333" stroke-width="0.22">20</text>
<line x1="161.86" y1="503.4" x2="161.86" y2="505" stroke="#7a7a7a" stroke-width="0.8"/>
<text x="161.86" y="514.9" font-size="8.1" fill="#333" text-anchor="middle" stroke="#333" stroke-width="0.22">30</text>
<line x1="190.48" y1="503.4" x2="190.48" y2="505" stroke="#7a7a7a" stroke-width="0.8"/>
<text x="190.48" y="514.9" font-size="8.1" fill="#333" text-anchor="middle" stroke="#333" stroke-width="0.22">40</text>
<text x="77.2" y="500.1" font-size="7.1" fill="#111" stroke="#111" stroke-width="0.22">DBS</text>
<text x="45.8" y="442" font-size="13.9" fill="#2c2c2c" text-anchor="middle" transform="rotate(-90 45.8 442)" stroke="#2c2c2c" stroke-width="0.18">z-score</text>
<text x="202.1" y="529.4" font-size="14" fill="#2c2c2c" text-anchor="end" stroke="#2c2c2c" stroke-width="0.18">Time interval (s)</text>
<rect x="422.75" y="401" width="13.3" height="104.3" fill="#e9e9e9"/>
<path d="M408.34,489.04 L408.86,489.46 L409.38,489.22 L409.9,488.41 L410.42,489.13 L410.93,489.28 L411.45,488.85 L411.97,488.95 L412.49,489.4 L413,489.53 L413.52,488.93 L414.04,489.46 L414.56,488.58 L415.08,489.2 L415.59,489.63 L416.11,489.26 L416.63,489.35 L417.15,489.27 L417.67,490.01 L418.18,489.33 L418.7,489.76 L419.22,489.63 L419.74,489.83 L420.25,488.96 L420.77,489.16 L421.29,489.07 L421.81,489.41 L422.33,489.58 L422.84,483.63 L423.36,466.09 L423.88,450.43 L424.4,454.88 L424.92,460.96 L425.43,465.58 L425.95,467.25 L426.47,469.93 L426.99,472.61 L427.5,473.51 L428.02,475.28 L428.54,475.7 L429.06,476.08 L429.58,476.63 L430.09,477.12 L430.61,478.36 L431.13,478.82 L431.65,478.44 L432.17,479.23 L432.68,479.17 L433.2,478.97 L433.72,478.15 L434.24,478.53 L434.75,478.23 L435.27,477.7 L435.79,477.79 L436.31,476.87 L436.83,477.06 L437.34,477.07 L437.86,476.64 L438.38,476.77 L438.9,476.47 L439.42,476.64 L439.93,476.36 L440.45,476.19 L440.97,476.2 L441.49,475.98 L442,475.82 L442.52,475.59 L443.04,475.65 L443.56,475.39 L444.08,475.3 L444.59,474.77 L445.11,474.63 L445.63,474.44 L446.15,474.76 L446.67,474.75 L447.18,474.54 L447.7,474.88 L448.22,473.89 L448.74,474.4 L449.25,475.32 L449.77,474.46 L450.29,475.69 L450.81,475.32 L451.33,475.73 L451.84,475.71 L452.36,475.6 L452.88,475.79 L453.4,476.56 L453.92,475.68 L454.43,476.25 L454.95,476.71 L455.47,476.44 L455.99,477.53 L456.5,477.42 L457.02,478.83 L457.54,478.9 L458.06,479.46 L458.58,478.35 L459.09,479.74 L459.61,479.42 L460.13,479.85 L460.65,480.05 L461.17,480.78 L461.68,480.93 L462.2,480.17 L462.72,480.46 L463.24,481.37 L463.75,481.94 L464.27,481.58 L464.79,482.5 L465.31,481.43 L465.83,481.89 L466.34,482.43 L466.86,482.74 L467.38,483.42 L467.9,484.43 L468.42,484.46 L468.93,483.96 L469.45,484.46 L469.97,484.83 L470.49,485.17 L471,485.25 L471.52,484.88 L472.04,485.59 L472.56,485.98 L473.08,485.71 L473.59,485.96 L474.11,487.11 L474.63,486.42 L475.15,487 L475.67,486.32 L476.18,487.32 L476.7,487.72 L477.22,487.85 L477.74,487.38 L478.25,487.5 L478.77,488.63 L479.29,487.94 L479.81,488.7 L480.33,488.22 L480.84,488.16 L481.36,488.26 L481.88,488.45 L482.4,488.35 L482.92,487.66 L483.43,489.05 L483.95,488.2 L484.47,488.54 L484.99,488.54 L485.5,488.65 L486.02,488.34 L486.54,489.2 L487.06,488.61 L487.58,488.58 L488.09,488.51 L488.61,489.13 L489.13,489.35 L489.65,488.94 L490.17,489.13 L490.68,488.86 L491.2,488.85 L491.72,488.6 L492.24,489.36 L492.76,489.29 L493.27,489.6 L493.79,488.88 L494.31,489.62 L494.83,490.44 L495.34,489.14 L495.86,488.63 L496.38,489.99 L496.9,489.35 L497.42,490.19 L497.93,489.18 L498.45,489.85 L498.97,489.52 L499.49,489.68 L500.01,489.66 L500.52,489.88 L501.04,489.81 L501.56,490.37 L502.08,491.08 L502.59,490.11 L503.11,491.18 L503.63,490.99 L504.15,491.33 L504.67,491.76 L505.18,491.64 L505.7,491.1 L506.22,491.82 L506.74,491.27 L507.26,491.34 L507.77,491.72 L508.29,490.49 L508.81,491.62 L509.33,490.76 L509.84,491.42 L510.36,491.09 L510.88,490.98 L511.4,490.89 L511.92,491.11 L512.43,491.43 L512.95,490.69 L513.47,491.17 L513.99,490.43 L514.51,490.07 L515.02,490.73 L515.54,490.98 L516.06,490.48 L516.58,490.68 L517.09,490.39 L517.61,489.79 L518.13,490.49 L518.65,489.49 L519.17,490.35 L519.68,490.2 L520.2,490.71 L520.72,490.25 L521.24,490.5 L521.76,490.15 L522.27,490.43 L522.79,490.22 L523.31,489.9 L523.83,489.72 L524.34,490.99 L524.86,490.06 L525.38,489.51 L525.9,489.4 L526.42,489.66 L526.93,489.67 L527.45,490.15 L527.97,490.1 L528.49,490.14 L529.01,489.78 L529.52,490.13 L530.04,489.73 L530.56,490.09 L531.08,490.44 L531.59,490.37 L532.11,489.92 L532.63,490.21 L533.15,490.02 L533.67,490.27 L534.18,490.57 L534.7,490.05 L535.22,489.94 L535.74,489.46 L536.26,490.22 L536.77,490.26 L537.29,490.23 L537.81,489.44 L538.33,490.02 L538.84,490.46 L539.36,489.69 L539.88,489.41 L540.4,490.11 L540.92,489.87 L541.43,488.93 L541.95,489.71 L542.47,490.05 L542.99,490.47 L543.51,490.33 L544.02,490.1 L544.54,489.26 L545.06,490.09 L545.58,489.49 L546.09,489.71 L546.61,490.34 L547.13,489.28 L547.65,490.22 L548.17,489.95 L548.68,489.7 L549.2,489.99 L549.72,489.96 L550.24,490.33 L550.76,489.67 L551.27,490.04 L551.66,489.05 L551.66,491.82 L551.27,492.32 L550.76,492.36 L550.24,492.6 L549.72,492.35 L549.2,493.4 L548.68,493.05 L548.17,492.29 L547.65,492.95 L547.13,492.56 L546.61,492.83 L546.09,493.11 L545.58,493.67 L545.06,492.03 L544.54,492.33 L544.02,493.52 L543.51,493.47 L542.99,492.98 L542.47,493.19 L541.95,492.93 L541.43,492.64 L540.92,492.87 L540.4,492.92 L539.88,492.84 L539.36,492.88 L538.84,492.48 L538.33,493.48 L537.81,492.75 L537.29,493.01 L536.77,492.66 L536.26,492.86 L535.74,492.38 L535.22,493.7 L534.7,493.33 L534.18,491.99 L533.67,493.62 L533.15,493.01 L532.63,492.52 L532.11,493.81 L531.59,492.94 L531.08,492.94 L530.56,493.77 L530.04,493.47 L529.52,492.84 L529.01,492.81 L528.49,493.54 L527.97,493.01 L527.45,493.65 L526.93,493.32 L526.42,493.39 L525.9,492.86 L525.38,492.69 L524.86,493.5 L524.34,493.75 L523.83,493.33 L523.31,493.67 L522.79,493.62 L522.27,493.24 L521.76,493.32 L521.24,492.81 L520.72,493.78 L520.2,493.62 L519.68,492.93 L519.17,493.18 L518.65,493.73 L518.13,493.94 L517.61,493.23 L517.09,493.39 L516.58,494.13 L516.06,493.51 L515.54,493.72 L515.02,493.9 L514.51,494.48 L513.99,493.56 L513.47,493.28 L512.95,493.95 L512.43,493.31 L511.92,493.43 L511.4,494.11 L510.88,493.76 L510.36,494.26 L509.84,494.25 L509.33,493.89 L508.81,494.06 L508.29,494.55 L507.77,494.33 L507.26,494.32 L506.74,494.55 L506.22,494.39 L505.7,494.96 L505.18,493.69 L504.67,493.19 L504.15,493.73 L503.63,493.94 L503.11,494.05 L502.59,493.66 L502.08,494.19 L501.56,493.18 L501.04,493.11 L500.52,492.87 L500.01,493.07 L499.49,492.83 L498.97,492.52 L498.45,493.15 L497.93,492.89 L497.42,492.54 L496.9,491.97 L496.38,492.63 L495.86,492.77 L495.34,492.52 L494.83,492.74 L494.31,492.12 L493.79,492.27 L493.27,491.74 L492.76,491.86 L492.24,492.67 L491.72,492.71 L491.2,492.53 L490.68,492.36 L490.17,491.89 L489.65,491.96 L489.13,491.82 L488.61,492.32 L488.09,492.76 L487.58,491.93 L487.06,491.41 L486.54,492.13 L486.02,491.53 L485.5,491.91 L484.99,492.18 L484.47,491.7 L483.95,491.73 L483.43,492.01 L482.92,491.79 L482.4,491.6 L481.88,491.54 L481.36,491.14 L480.84,491.39 L480.33,490.92 L479.81,490.94 L479.29,491.78 L478.77,491.14 L478.25,491.02 L477.74,490.65 L477.22,490.37 L476.7,490.36 L476.18,490.52 L475.67,490.26 L475.15,490.08 L474.63,489.99 L474.11,489.93 L473.59,489.34 L473.08,489.32 L472.56,489.13 L472.04,488.96 L471.52,488.59 L471,488.86 L470.49,488.35 L469.97,488.84 L469.45,488.46 L468.93,488.23 L468.42,487.69 L467.9,487.91 L467.38,488.07 L466.86,486.55 L466.34,486.45 L465.83,486.55 L465.31,485.76 L464.79,486.23 L464.27,486.18 L463.75,485.65 L463.24,485.77 L462.72,485.5 L462.2,485 L461.68,485.73 L461.17,484.86 L460.65,484.95 L460.13,485.1 L459.61,484.25 L459.09,484.52 L458.58,483.29 L458.06,484.25 L457.54,484.24 L457.02,482.96 L456.5,482.71 L455.99,482.91 L455.47,482.39 L454.95,481.79 L454.43,482.3 L453.92,481.16 L453.4,481.23 L452.88,482.11 L452.36,480.97 L451.84,480.88 L451.33,481.19 L450.81,480.96 L450.29,480.92 L449.77,480.98 L449.25,480.71 L448.74,480.77 L448.22,480.46 L447.7,480.9 L447.18,480.45 L446.67,481.19 L446.15,480.14 L445.63,480.77 L445.11,480.5 L444.59,481.55 L444.08,480.97 L443.56,481.59 L443.04,481.9 L442.52,481.57 L442,482.06 L441.49,482.31 L440.97,482.15 L440.45,481.84 L439.93,482.26 L439.42,482.61 L438.9,481.68 L438.38,482.37 L437.86,482.43 L437.34,482.34 L436.83,483.2 L436.31,482.86 L435.79,482.99 L435.27,483.11 L434.75,482.91 L434.24,483.53 L433.72,483.8 L433.2,484.06 L432.68,483.73 L432.17,484.85 L431.65,483.83 L431.13,483.75 L430.61,482.69 L430.09,481.75 L429.58,481.05 L429.06,480.44 L428.54,480.16 L428.02,480.01 L427.5,479.08 L426.99,476.31 L426.47,473.84 L425.95,471.48 L425.43,470.29 L424.92,464.19 L424.4,459.17 L423.88,454.92 L423.36,468.41 L422.84,486.16 L422.33,491.08 L421.81,490.78 L421.29,490.9 L420.77,491.63 L420.25,491.39 L419.74,491.13 L419.22,491.29 L418.7,491.12 L418.18,491.34 L417.67,491.19 L417.15,491.06 L416.63,490.66 L416.11,491.54 L415.59,491.32 L415.08,491.52 L414.56,490.81 L414.04,491.56 L413.52,491.46 L413,491.06 L412.49,491.33 L411.97,490.67 L411.45,490.8 L410.93,491.2 L410.42,490.3 L409.9,490.83 L409.38,491.23 L408.86,491.34 L408.34,491.75Z" fill="rgba(130,210,180,0.32)"/>
<path d="M408.34,490.97 L408.86,490.2 L409.38,490.28 L409.9,490.13 L410.42,490.66 L410.93,489.77 L411.45,489.04 L411.97,489.46 L412.49,490.64 L413,490.46 L413.52,489.83 L414.04,490.12 L414.56,490.55 L415.08,489.59 L415.59,489.93 L416.11,489.69 L416.63,490.27 L417.15,489.57 L417.67,490.41 L418.18,490.73 L418.7,490.18 L419.22,490.86 L419.74,489.57 L420.25,489.83 L420.77,491 L421.29,490.1 L421.81,489.77 L422.33,490.36 L422.84,484.98 L423.36,467.54 L423.88,452.75 L424.4,456.42 L424.92,462.34 L425.43,468.31 L425.95,470.37 L426.47,471.66 L426.99,474.48 L427.5,476.11 L428.02,477.78 L428.54,478.56 L429.06,478.11 L429.58,478.99 L430.09,479.45 L430.61,480.65 L431.13,481.25 L431.65,480.92 L432.17,482.5 L432.68,480.71 L433.2,481.13 L433.72,481.21 L434.24,480.91 L434.75,480.43 L435.27,480.87 L435.79,480.15 L436.31,480.57 L436.83,480.87 L437.34,479.78 L437.86,479.76 L438.38,479.41 L438.9,479.36 L439.42,479.17 L439.93,479.01 L440.45,479.77 L440.97,478.54 L441.49,477.68 L442,479.11 L442.52,479.29 L443.04,478.2 L443.56,477.93 L444.08,477.75 L444.59,477.35 L445.11,478.64 L445.63,477.67 L446.15,477.52 L446.67,477.04 L447.18,478 L447.7,477.48 L448.22,477.72 L448.74,477.7 L449.25,477.79 L449.77,477.91 L450.29,478.82 L450.81,478.11 L451.33,478.2 L451.84,478.54 L452.36,480.19 L452.88,478.9 L453.4,478.97 L453.92,479.15 L454.43,478.17 L454.95,478.79 L455.47,479.68 L455.99,479.69 L456.5,478.8 L457.02,481.27 L457.54,480.93 L458.06,481.74 L458.58,480.96 L459.09,481.26 L459.61,482 L460.13,481.81 L460.65,482.7 L461.17,483.3 L461.68,482.36 L462.2,482.22 L462.72,483.4 L463.24,483.74 L463.75,484.56 L464.27,482.83 L464.79,484.6 L465.31,484.61 L465.83,484.41 L466.34,483.97 L466.86,484.84 L467.38,485.23 L467.9,485.58 L468.42,485.54 L468.93,486.3 L469.45,486.49 L469.97,486.82 L470.49,487.44 L471,486.35 L471.52,487.45 L472.04,487.89 L472.56,487.61 L473.08,487.55 L473.59,487.35 L474.11,488.65 L474.63,488.75 L475.15,488.24 L475.67,488.34 L476.18,489.26 L476.7,489.47 L477.22,489.02 L477.74,489.34 L478.25,490.22 L478.77,490 L479.29,488.98 L479.81,490.32 L480.33,489.37 L480.84,490.65 L481.36,489.21 L481.88,489.17 L482.4,490.29 L482.92,490.34 L483.43,489.74 L483.95,490.68 L484.47,489.85 L484.99,489.56 L485.5,490.06 L486.02,490.08 L486.54,490.35 L487.06,489.83 L487.58,490.77 L488.09,489.64 L488.61,490.47 L489.13,490.66 L489.65,491.35 L490.17,490.81 L490.68,490.53 L491.2,490.08 L491.72,491.52 L492.24,490.84 L492.76,491.15 L493.27,491.44 L493.79,490.89 L494.31,491.3 L494.83,490.54 L495.34,492.3 L495.86,490.66 L496.38,491.97 L496.9,492.01 L497.42,490.83 L497.93,491.3 L498.45,491.15 L498.97,491.77 L499.49,491.91 L500.01,491.88 L500.52,491.67 L501.04,492.19 L501.56,492.12 L502.08,492.47 L502.59,492.08 L503.11,492.88 L503.63,493.47 L504.15,493.85 L504.67,492.69 L505.18,492.73 L505.7,492.38 L506.22,493.26 L506.74,493.44 L507.26,493.59 L507.77,492.47 L508.29,493.11 L508.81,492.3 L509.33,492.79 L509.84,492.85 L510.36,493.58 L510.88,492.97 L511.4,492.21 L511.92,492.85 L512.43,492.18 L512.95,493.27 L513.47,491.93 L513.99,491.02 L514.51,491.79 L515.02,492.13 L515.54,492.84 L516.06,492.45 L516.58,492.46 L517.09,492.01 L517.61,493.04 L518.13,492.43 L518.65,491.59 L519.17,491.86 L519.68,491.54 L520.2,491.45 L520.72,492.38 L521.24,492.45 L521.76,491.55 L522.27,491.73 L522.79,491.68 L523.31,492.1 L523.83,491.2 L524.34,491.45 L524.86,491.13 L525.38,491.85 L525.9,491.33 L526.42,491.69 L526.93,492.11 L527.45,491.69 L527.97,492.44 L528.49,491.72 L529.01,491.54 L529.52,491.28 L530.04,492.11 L530.56,492.24 L531.08,491.94 L531.59,492.58 L532.11,491.88 L532.63,490.28 L533.15,491.47 L533.67,491.9 L534.18,491.85 L534.7,490.65 L535.22,492.06 L535.74,491.54 L536.26,491.51 L536.77,491.81 L537.29,491.79 L537.81,492.25 L538.33,491.83 L538.84,490.77 L539.36,490.71 L539.88,491.52 L540.4,491.03 L540.92,491.13 L541.43,491.29 L541.95,491.4 L542.47,490.73 L542.99,491.03 L543.51,491.4 L544.02,491.39 L544.54,490.82 L545.06,491.55 L545.58,491.59 L546.09,491.37 L546.61,491.47 L547.13,490.6 L547.65,491.03 L548.17,491.24 L548.68,491.44 L549.2,490.49 L549.72,490.95 L550.24,490.15 L550.76,490.71 L551.27,491.24 L551.66,491.4" fill="none" stroke="#3f9481" stroke-width="0.9" stroke-linejoin="round"/>
<path d="M408.34,488.22 L408.86,487.64 L409.38,487.21 L409.9,488.05 L410.42,488.63 L410.93,488.42 L411.45,488.9 L411.97,488.24 L412.49,488.67 L413,488.39 L413.52,488.37 L414.04,488.66 L414.56,487.83 L415.08,488.22 L415.59,488.03 L416.11,488.42 L416.63,488.57 L417.15,488 L417.67,488.23 L418.18,487.2 L418.7,487.93 L419.22,488.42 L419.74,489.36 L420.25,487.61 L420.77,487.72 L421.29,488.27 L421.81,487.28 L422.33,489.04 L422.84,482.82 L423.36,461.75 L423.88,439.64 L424.4,430.68 L424.92,432.83 L425.43,432.83 L425.95,434.7 L426.47,435.4 L426.99,438.23 L427.5,439.56 L428.02,438.36 L428.54,438.67 L429.06,437.91 L429.58,436.05 L430.09,434.55 L430.61,434.1 L431.13,431.49 L431.65,431.64 L432.17,428.68 L432.68,426.35 L433.2,424.35 L433.72,420.8 L434.24,419.92 L434.75,419.91 L435.27,419.29 L435.79,419.69 L436.31,418.83 L436.83,418.56 L437.34,416.83 L437.86,415.23 L438.38,413.77 L438.9,412.34 L439.42,411.58 L439.93,411.19 L440.45,412.67 L440.97,414.3 L441.49,414.87 L442,415.68 L442.52,414.88 L443.04,416.65 L443.56,416.12 L444.08,416.85 L444.59,417.21 L445.11,417.32 L445.63,419.07 L446.15,418.81 L446.67,418.56 L447.18,419.63 L447.7,420.83 L448.22,419.9 L448.74,420.16 L449.25,420.71 L449.77,421.73 L450.29,423.6 L450.81,424.12 L451.33,423.12 L451.84,424.59 L452.36,424.95 L452.88,425.76 L453.4,425.75 L453.92,425.58 L454.43,426.09 L454.95,429.37 L455.47,428.99 L455.99,429.94 L456.5,432.37 L457.02,432.55 L457.54,433.53 L458.06,435.96 L458.58,436.56 L459.09,438.68 L459.61,437.94 L460.13,439.75 L460.65,440.16 L461.17,442.08 L461.68,442.99 L462.2,445.51 L462.72,445.97 L463.24,447.05 L463.75,447.12 L464.27,449.29 L464.79,449.82 L465.31,451.02 L465.83,451.55 L466.34,452.46 L466.86,451.72 L467.38,453.45 L467.9,452.24 L468.42,454.37 L468.93,454.83 L469.45,455.18 L469.97,456.3 L470.49,457.56 L471,456.64 L471.52,459.94 L472.04,459.68 L472.56,460.05 L473.08,461.4 L473.59,462.55 L474.11,462.74 L474.63,463.3 L475.15,463.66 L475.67,463.74 L476.18,463.67 L476.7,464.71 L477.22,464.24 L477.74,465.54 L478.25,464.95 L478.77,465.2 L479.29,466 L479.81,466.34 L480.33,467.57 L480.84,467.44 L481.36,467.06 L481.88,468.79 L482.4,468.99 L482.92,468.39 L483.43,469.7 L483.95,470.23 L484.47,470.81 L484.99,470.89 L485.5,470.11 L486.02,471.67 L486.54,471.24 L487.06,471.2 L487.58,471.99 L488.09,471.79 L488.61,473.25 L489.13,472.44 L489.65,473.68 L490.17,473.21 L490.68,473.44 L491.2,473.74 L491.72,474.81 L492.24,474.61 L492.76,475.3 L493.27,476.47 L493.79,475.18 L494.31,476.49 L494.83,476.56 L495.34,476.2 L495.86,477.22 L496.38,477.29 L496.9,477.44 L497.42,477.51 L497.93,477.39 L498.45,477.19 L498.97,476.89 L499.49,478.04 L500.01,478.99 L500.52,478.25 L501.04,478.3 L501.56,479.09 L502.08,478.75 L502.59,478.47 L503.11,479.72 L503.63,479.31 L504.15,479.78 L504.67,479.92 L505.18,479.46 L505.7,479.71 L506.22,480.93 L506.74,479.77 L507.26,479.23 L507.77,482.02 L508.29,480.78 L508.81,481.15 L509.33,480.67 L509.84,480.14 L510.36,481.17 L510.88,481.05 L511.4,480.69 L511.92,480.73 L512.43,480.3 L512.95,479.97 L513.47,480 L513.99,480.13 L514.51,480.74 L515.02,479.93 L515.54,480.22 L516.06,479.95 L516.58,480.51 L517.09,480.27 L517.61,480.68 L518.13,480.39 L518.65,480.6 L519.17,480.29 L519.68,481.3 L520.2,481.67 L520.72,481.57 L521.24,481.4 L521.76,481.56 L522.27,482.61 L522.79,482.83 L523.31,482.04 L523.83,482.26 L524.34,482.27 L524.86,482.98 L525.38,483.55 L525.9,484.45 L526.42,483.24 L526.93,484.08 L527.45,484.73 L527.97,483.31 L528.49,484.4 L529.01,484.17 L529.52,484.25 L530.04,484.51 L530.56,484.48 L531.08,484.25 L531.59,484.61 L532.11,484.71 L532.63,484.55 L533.15,485.88 L533.67,484.66 L534.18,484.97 L534.7,485.67 L535.22,484.2 L535.74,484.94 L536.26,485.55 L536.77,486.05 L537.29,485.35 L537.81,486.02 L538.33,485.74 L538.84,486.05 L539.36,486.68 L539.88,486.19 L540.4,487.21 L540.92,486.69 L541.43,487.87 L541.95,486.83 L542.47,486.61 L542.99,486.97 L543.51,487.94 L544.02,486.71 L544.54,487.71 L545.06,488.66 L545.58,487.91 L546.09,488.38 L546.61,488.49 L547.13,487.48 L547.65,487.85 L548.17,488.96 L548.68,488.22 L549.2,488.82 L549.72,489.19 L550.24,488.43 L550.76,488.29 L551.27,489.43 L551.66,488.36 L551.66,492.65 L551.27,491.68 L550.76,492.4 L550.24,492.4 L549.72,492.18 L549.2,492.3 L548.68,492.31 L548.17,491.74 L547.65,491.77 L547.13,492.07 L546.61,491.29 L546.09,490.95 L545.58,490.77 L545.06,490.82 L544.54,491.51 L544.02,490.98 L543.51,490.59 L542.99,491.53 L542.47,490.69 L541.95,491.43 L541.43,490.34 L540.92,490.13 L540.4,490.89 L539.88,490.6 L539.36,489.9 L538.84,489.85 L538.33,490.25 L537.81,490.28 L537.29,489.33 L536.77,489.87 L536.26,489.36 L535.74,489.24 L535.22,489.38 L534.7,489.29 L534.18,489.62 L533.67,490.18 L533.15,489.21 L532.63,488.55 L532.11,489.34 L531.59,489.96 L531.08,489.69 L530.56,489.16 L530.04,490.39 L529.52,488.33 L529.01,488.83 L528.49,488.41 L527.97,488.6 L527.45,488.82 L526.93,490.04 L526.42,488.41 L525.9,489.21 L525.38,487.84 L524.86,488.98 L524.34,488.8 L523.83,488 L523.31,488.28 L522.79,487.38 L522.27,487.84 L521.76,487.57 L521.24,487.4 L520.72,486.82 L520.2,486.47 L519.68,486.92 L519.17,486.43 L518.65,487.11 L518.13,485.76 L517.61,485.7 L517.09,486.54 L516.58,485.7 L516.06,486.36 L515.54,484.89 L515.02,486.02 L514.51,485.82 L513.99,486.15 L513.47,486.86 L512.95,486.6 L512.43,486.54 L511.92,487.81 L511.4,487.42 L510.88,486.6 L510.36,487.4 L509.84,487.71 L509.33,487.5 L508.81,486.8 L508.29,487.86 L507.77,486.42 L507.26,487.64 L506.74,488 L506.22,486.62 L505.7,486.56 L505.18,486.12 L504.67,486.82 L504.15,487.02 L503.63,487.35 L503.11,486.96 L502.59,486.27 L502.08,485.97 L501.56,486.3 L501.04,486.39 L500.52,486.6 L500.01,485.8 L499.49,486.42 L498.97,486.04 L498.45,485.99 L497.93,486.03 L497.42,486.11 L496.9,484.76 L496.38,486.77 L495.86,485.93 L495.34,484.3 L494.83,485.37 L494.31,483.73 L493.79,483.88 L493.27,484.19 L492.76,484.27 L492.24,483.4 L491.72,482.49 L491.2,482.97 L490.68,481.96 L490.17,483.06 L489.65,481.33 L489.13,481.42 L488.61,481.79 L488.09,481.38 L487.58,481.15 L487.06,480.23 L486.54,480.3 L486.02,480.77 L485.5,482.06 L484.99,480.86 L484.47,479.33 L483.95,479.42 L483.43,479.65 L482.92,478.44 L482.4,478.53 L481.88,478.09 L481.36,477.19 L480.84,477.45 L480.33,477 L479.81,476.85 L479.29,475.89 L478.77,476.69 L478.25,475.16 L477.74,475.67 L477.22,474.45 L476.7,475.51 L476.18,474.83 L475.67,474.92 L475.15,474.37 L474.63,474.19 L474.11,473.87 L473.59,473.31 L473.08,473.93 L472.56,474.63 L472.04,473.82 L471.52,474.26 L471,473.75 L470.49,472.72 L469.97,471.28 L469.45,471.33 L468.93,471.69 L468.42,471.48 L467.9,471.21 L467.38,470.65 L466.86,471.44 L466.34,469.84 L465.83,470.75 L465.31,470.44 L464.79,469.65 L464.27,469.79 L463.75,468.68 L463.24,468.08 L462.72,465.33 L462.2,465.47 L461.68,463.91 L461.17,462.54 L460.65,462.43 L460.13,462.89 L459.61,461.48 L459.09,462.71 L458.58,462.34 L458.06,461.37 L457.54,459.65 L457.02,459.1 L456.5,458.48 L455.99,456.31 L455.47,456.5 L454.95,454.22 L454.43,453.82 L453.92,453.7 L453.4,453.45 L452.88,454.16 L452.36,452.94 L451.84,453.12 L451.33,451.93 L450.81,451.55 L450.29,449.8 L449.77,448.88 L449.25,450.07 L448.74,449.04 L448.22,448.39 L447.7,447.63 L447.18,446.91 L446.67,447.66 L446.15,448.27 L445.63,446.24 L445.11,447.29 L444.59,446.46 L444.08,446.27 L443.56,446.52 L443.04,445.54 L442.52,446.2 L442,446.55 L441.49,445.3 L440.97,445.02 L440.45,443.09 L439.93,442.03 L439.42,442.48 L438.9,442.02 L438.38,443.23 L437.86,444.45 L437.34,445.85 L436.83,446.77 L436.31,446.81 L435.79,446.85 L435.27,446.34 L434.75,446.34 L434.24,445.65 L433.72,446.52 L433.2,449.2 L432.68,451.51 L432.17,453.44 L431.65,454.5 L431.13,455.15 L430.61,455.91 L430.09,455.77 L429.58,458.22 L429.06,457.79 L428.54,458.98 L428.02,459.64 L427.5,457.6 L426.99,456.57 L426.47,454.18 L425.95,452.64 L425.43,449.81 L424.92,448.18 L424.4,447.1 L423.88,452.65 L423.36,468.86 L422.84,486.44 L422.33,490.57 L421.81,490.22 L421.29,489.89 L420.77,489.5 L420.25,490.19 L419.74,490.16 L419.22,490.39 L418.7,491.01 L418.18,491.18 L417.67,490.03 L417.15,490.1 L416.63,491.14 L416.11,490.46 L415.59,490.75 L415.08,489.79 L414.56,489.91 L414.04,489.73 L413.52,490.27 L413,490.01 L412.49,491.75 L411.97,489.96 L411.45,489.87 L410.93,491.02 L410.42,490.82 L409.9,491.26 L409.38,491.32 L408.86,490.22 L408.34,490.39Z" fill="rgba(249,241,203,0.82)"/>
<path d="M408.34,488.96 L408.86,489.91 L409.38,489.5 L409.9,489.48 L410.42,488.9 L410.93,489.96 L411.45,489.55 L411.97,489.65 L412.49,489.22 L413,489.94 L413.52,490 L414.04,487.75 L414.56,489.16 L415.08,490.09 L415.59,488.83 L416.11,489.99 L416.63,490.29 L417.15,488.38 L417.67,488.61 L418.18,489.73 L418.7,489.87 L419.22,489.02 L419.74,488.18 L420.25,488.96 L420.77,488.92 L421.29,489.92 L421.81,490.24 L422.33,489.07 L422.84,483.56 L423.36,465.42 L423.88,446.03 L424.4,438.38 L424.92,440.71 L425.43,441.2 L425.95,443.11 L426.47,445.7 L426.99,446.95 L427.5,448.27 L428.02,448.68 L428.54,448.91 L429.06,447.65 L429.58,446.47 L430.09,445.46 L430.61,444.55 L431.13,443.73 L431.65,443.07 L432.17,441.27 L432.68,437.9 L433.2,436.27 L433.72,434.14 L434.24,433.79 L434.75,433.82 L435.27,432.81 L435.79,432.93 L436.31,432.86 L436.83,432.18 L437.34,431.57 L437.86,429.86 L438.38,427.95 L438.9,427.6 L439.42,427.17 L439.93,426.66 L440.45,428.04 L440.97,430.25 L441.49,429.39 L442,430.31 L442.52,430.19 L443.04,431.54 L443.56,431.71 L444.08,431.97 L444.59,431.72 L445.11,433.02 L445.63,433.19 L446.15,432.65 L446.67,433.82 L447.18,433.68 L447.7,434.42 L448.22,435.13 L448.74,434.67 L449.25,435.19 L449.77,436.47 L450.29,435.81 L450.81,436.55 L451.33,437.18 L451.84,438.56 L452.36,439.48 L452.88,439.41 L453.4,439.67 L453.92,440.19 L454.43,441.01 L454.95,442.01 L455.47,442.82 L455.99,443.55 L456.5,444.93 L457.02,444.97 L457.54,447.19 L458.06,447.91 L458.58,449.39 L459.09,450.08 L459.61,451.16 L460.13,451.41 L460.65,452.63 L461.17,453.8 L461.68,452.99 L462.2,455.4 L462.72,455.77 L463.24,457.23 L463.75,458.55 L464.27,458.81 L464.79,460.27 L465.31,460.31 L465.83,460.99 L466.34,460.58 L466.86,460.93 L467.38,461.81 L467.9,461.7 L468.42,462.5 L468.93,462.45 L469.45,463.88 L469.97,465.19 L470.49,464.81 L471,465.36 L471.52,466.22 L472.04,466.67 L472.56,467.2 L473.08,468.19 L473.59,467.03 L474.11,468.73 L474.63,469.21 L475.15,469.76 L475.67,469.57 L476.18,469.34 L476.7,468.77 L477.22,469.51 L477.74,470.52 L478.25,471.13 L478.77,471.42 L479.29,471.24 L479.81,471.14 L480.33,472.27 L480.84,471.58 L481.36,471.83 L481.88,473.2 L482.4,474.86 L482.92,473.53 L483.43,474.56 L483.95,474.53 L484.47,474.71 L484.99,476.1 L485.5,475.82 L486.02,476.02 L486.54,476.75 L487.06,476.17 L487.58,476.76 L488.09,477.07 L488.61,476.05 L489.13,477.19 L489.65,476.66 L490.17,477.89 L490.68,477.55 L491.2,478.82 L491.72,478.66 L492.24,478.49 L492.76,480.55 L493.27,479.44 L493.79,480.19 L494.31,479.77 L494.83,480.54 L495.34,480.94 L495.86,481.82 L496.38,479.79 L496.9,481.93 L497.42,481.86 L497.93,482.15 L498.45,482 L498.97,481.81 L499.49,482.74 L500.01,481.58 L500.52,482.4 L501.04,482.07 L501.56,483.65 L502.08,482.94 L502.59,482.97 L503.11,483.17 L503.63,483.46 L504.15,483.09 L504.67,483.17 L505.18,484.05 L505.7,484.69 L506.22,483.38 L506.74,484.04 L507.26,483.4 L507.77,483.59 L508.29,484.17 L508.81,484.87 L509.33,484.25 L509.84,484.37 L510.36,483.24 L510.88,484.71 L511.4,483.22 L511.92,484.42 L512.43,483.8 L512.95,484.14 L513.47,483.66 L513.99,483.43 L514.51,482.91 L515.02,483.35 L515.54,482.6 L516.06,482.02 L516.58,482.95 L517.09,483.75 L517.61,483.35 L518.13,483.44 L518.65,483.72 L519.17,483.07 L519.68,483.24 L520.2,482.97 L520.72,483.93 L521.24,485.82 L521.76,484.67 L522.27,484.44 L522.79,485.42 L523.31,485.5 L523.83,484.88 L524.34,485.47 L524.86,486.32 L525.38,486.19 L525.9,487.68 L526.42,486.18 L526.93,486.95 L527.45,486.44 L527.97,487.13 L528.49,487.07 L529.01,486.89 L529.52,485.19 L530.04,487.36 L530.56,487.42 L531.08,487.14 L531.59,486.36 L532.11,486.56 L532.63,486.7 L533.15,487.32 L533.67,487.16 L534.18,487.72 L534.7,487.5 L535.22,487.92 L535.74,488.36 L536.26,488.22 L536.77,486.76 L537.29,487.68 L537.81,488.4 L538.33,488.16 L538.84,488.45 L539.36,487.67 L539.88,488.45 L540.4,488.88 L540.92,488.29 L541.43,488.6 L541.95,489.24 L542.47,489.4 L542.99,489.03 L543.51,490.09 L544.02,489.81 L544.54,488.9 L545.06,489.09 L545.58,489.06 L546.09,489.99 L546.61,490.18 L547.13,490.11 L547.65,490.31 L548.17,489.48 L548.68,490.36 L549.2,489.62 L549.72,490.8 L550.24,490.31 L550.76,489.72 L551.27,491.06 L551.66,491.06" fill="none" stroke="#ab7f3a" stroke-width="0.9" stroke-linejoin="round"/>
<line x1="408.2" y1="399.2" x2="408.2" y2="505.3" stroke="#7a7a7a" stroke-width="0.9"/>
<line x1="408.2" y1="505.3" x2="551.8" y2="505.3" stroke="#7a7a7a" stroke-width="0.9"/>
<line x1="406.8" y1="505.3" x2="408.2" y2="505.3" stroke="#7a7a7a" stroke-width="0.8"/>
<text x="404.5" y="508.2" font-size="8.1" fill="#333" text-anchor="end" stroke="#333" stroke-width="0.22">-5</text>
<line x1="406.8" y1="490.19" x2="408.2" y2="490.19" stroke="#7a7a7a" stroke-width="0.8"/>
<text x="404.5" y="493.09" font-size="8.1" fill="#333" text-anchor="end" stroke="#333" stroke-width="0.22">0</text>
<line x1="406.8" y1="475.07" x2="408.2" y2="475.07" stroke="#7a7a7a" stroke-width="0.8"/>
<text x="404.5" y="477.97" font-size="8.1" fill="#333" text-anchor="end" stroke="#333" stroke-width="0.22">5</text>
<line x1="406.8" y1="459.96" x2="408.2" y2="459.96" stroke="#7a7a7a" stroke-width="0.8"/>
<text x="404.5" y="462.86" font-size="8.1" fill="#333" text-anchor="end" stroke="#333" stroke-width="0.22">10</text>
<line x1="406.8" y1="444.84" x2="408.2" y2="444.84" stroke="#7a7a7a" stroke-width="0.8"/>
<text x="404.5" y="447.74" font-size="8.1" fill="#333" text-anchor="end" stroke="#333" stroke-width="0.22">15</text>
<line x1="406.8" y1="429.73" x2="408.2" y2="429.73" stroke="#7a7a7a" stroke-width="0.8"/>
<text x="404.5" y="432.63" font-size="8.1" fill="#333" text-anchor="end" stroke="#333" stroke-width="0.22">20</text>
<line x1="406.8" y1="414.61" x2="408.2" y2="414.61" stroke="#7a7a7a" stroke-width="0.8"/>
<text x="404.5" y="417.51" font-size="8.1" fill="#333" text-anchor="end" stroke="#333" stroke-width="0.22">25</text>
<line x1="406.8" y1="399.5" x2="408.2" y2="399.5" stroke="#7a7a7a" stroke-width="0.8"/>
<text x="404.5" y="402.4" font-size="8.1" fill="#333" text-anchor="end" stroke="#333" stroke-width="0.22">30</text>
<line x1="422.4" y1="505.3" x2="422.4" y2="506.9" stroke="#7a7a7a" stroke-width="0.8"/>
<text x="422.4" y="517.2" font-size="8.1" fill="#333" text-anchor="middle" stroke="#333" stroke-width="0.22">0</text>
<line x1="451.17" y1="505.3" x2="451.17" y2="506.9" stroke="#7a7a7a" stroke-width="0.8"/>
<text x="451.17" y="517.2" font-size="8.1" fill="#333" text-anchor="middle" stroke="#333" stroke-width="0.22">10</text>
<line x1="479.94" y1="505.3" x2="479.94" y2="506.9" stroke="#7a7a7a" stroke-width="0.8"/>
<text x="479.94" y="517.2" font-size="8.1" fill="#333" text-anchor="middle" stroke="#333" stroke-width="0.22">20</text>
<line x1="508.71" y1="505.3" x2="508.71" y2="506.9" stroke="#7a7a7a" stroke-width="0.8"/>
<text x="508.71" y="517.2" font-size="8.1" fill="#333" text-anchor="middle" stroke="#333" stroke-width="0.22">30</text>
<line x1="537.48" y1="505.3" x2="537.48" y2="506.9" stroke="#7a7a7a" stroke-width="0.8"/>
<text x="537.48" y="517.2" font-size="8.1" fill="#333" text-anchor="middle" stroke="#333" stroke-width="0.22">40</text>
<text x="423.6" y="502.1" font-size="7.1" fill="#111" stroke="#111" stroke-width="0.22">DBS</text>
<text x="392.5" y="443.8" font-size="13.9" fill="#2c2c2c" text-anchor="middle" transform="rotate(-90 392.5 443.8)" stroke="#2c2c2c" stroke-width="0.18">z-score</text>
<text x="548.2" y="531.7" font-size="14" fill="#2c2c2c" text-anchor="end" stroke="#2c2c2c" stroke-width="0.18">Time interval (s)</text>
<rect x="251.1" y="123.2" width="13.2" height="0.22" fill="#8fd7c3"/>
<line x1="257.7" y1="123.42" x2="257.7" y2="125.67" stroke="#4f8f82" stroke-width="0.9"/>
<line x1="254.4" y1="125.67" x2="261" y2="125.67" stroke="#4f8f82" stroke-width="0.9"/>
<rect x="268.1" y="118.82" width="13.2" height="4.38" fill="#dcc482"/>
<line x1="274.7" y1="118.82" x2="274.7" y2="116.69" stroke="#a08862" stroke-width="0.9"/>
<line x1="271.4" y1="116.69" x2="278" y2="116.69" stroke="#a08862" stroke-width="0.9"/>
<rect x="298.1" y="117.59" width="13.2" height="5.61" fill="#8fd7c3"/>
<line x1="304.7" y1="117.59" x2="304.7" y2="115.57" stroke="#4f8f82" stroke-width="0.9"/>
<line x1="301.4" y1="115.57" x2="308" y2="115.57" stroke="#4f8f82" stroke-width="0.9"/>
<rect x="315.1" y="83.35" width="13.2" height="39.85" fill="#dcc482"/>
<line x1="321.7" y1="83.35" x2="321.7" y2="65.62" stroke="#a08862" stroke-width="0.9"/>
<line x1="318.4" y1="65.62" x2="325" y2="65.62" stroke="#a08862" stroke-width="0.9"/>
<line x1="244.4" y1="55.45" x2="244.4" y2="145.65" stroke="#555" stroke-width="0.9"/>
<line x1="244.4" y1="145.65" x2="334.7" y2="145.65" stroke="#555" stroke-width="0.9"/>
<line x1="244.4" y1="123.2" x2="334.7" y2="123.2" stroke="#555" stroke-width="0.9"/>
<line x1="241.4" y1="145.65" x2="244.4" y2="145.65" stroke="#555" stroke-width="0.8"/>
<text x="239.8" y="148.15" font-size="6.9" fill="#222" text-anchor="end" stroke="#222" stroke-width="0.22">-200</text>
<line x1="241.4" y1="123.2" x2="244.4" y2="123.2" stroke="#555" stroke-width="0.8"/>
<text x="239.8" y="125.7" font-size="6.9" fill="#222" text-anchor="end" stroke="#222" stroke-width="0.22">0</text>
<line x1="241.4" y1="100.75" x2="244.4" y2="100.75" stroke="#555" stroke-width="0.8"/>
<text x="239.8" y="103.25" font-size="6.9" fill="#222" text-anchor="end" stroke="#222" stroke-width="0.22">200</text>
<line x1="241.4" y1="78.3" x2="244.4" y2="78.3" stroke="#555" stroke-width="0.8"/>
<text x="239.8" y="80.8" font-size="6.9" fill="#222" text-anchor="end" stroke="#222" stroke-width="0.22">400</text>
<line x1="241.4" y1="55.85" x2="244.4" y2="55.85" stroke="#555" stroke-width="0.8"/>
<text x="239.8" y="58.35" font-size="6.9" fill="#222" text-anchor="end" stroke="#222" stroke-width="0.22">600</text>
<line x1="266.2" y1="145.65" x2="266.2" y2="148.65" stroke="#555" stroke-width="0.8"/>
<line x1="313.2" y1="145.65" x2="313.2" y2="148.65" stroke="#555" stroke-width="0.8"/>
<text x="266.2" y="158.95" font-size="8.8" fill="#222" text-anchor="middle" stroke="#222" stroke-width="0.22">-5 - 0s</text>
<text x="313.2" y="158.95" font-size="8.8" fill="#222" text-anchor="middle" stroke="#222" stroke-width="0.22">5 - 10s</text>
<text x="221.5" y="100.5" font-size="8.7" fill="#222" text-anchor="middle" transform="rotate(-90 221.5 100.5)" stroke="#222" stroke-width="0.22">AUC (a.u.)</text>
<rect x="259.1" y="75.6" width="9.7" height="5.1" fill="#8fd7c3"/>
<rect x="259.1" y="88.2" width="9.7" height="5.1" fill="#dcc482"/>
<text x="274.4" y="80.8" font-size="7.4" fill="#222" stroke="#222" stroke-width="0.22">SD</text>
<text x="274.4" y="93.4" font-size="7.4" fill="#222" stroke="#222" stroke-width="0.22">FSL</text>
<rect x="600" y="147.8" width="13.2" height="0.6" fill="#8fd7c3"/>
<line x1="606.6" y1="147.8" x2="606.6" y2="146.72" stroke="#4f8f82" stroke-width="0.9"/>
<line x1="603.3" y1="146.72" x2="609.9" y2="146.72" stroke="#4f8f82" stroke-width="0.9"/>
<rect x="617" y="148.04" width="13.2" height="0.36" fill="#dcc482"/>
<line x1="623.6" y1="148.04" x2="623.6" y2="147.14" stroke="#a08862" stroke-width="0.9"/>
<line x1="620.3" y1="147.14" x2="626.9" y2="147.14" stroke="#a08862" stroke-width="0.9"/>
<rect x="646.6" y="136.7" width="13.2" height="11.7" fill="#8fd7c3"/>
<line x1="653.2" y1="136.7" x2="653.2" y2="131.42" stroke="#4f8f82" stroke-width="0.9"/>
<line x1="649.9" y1="131.42" x2="656.5" y2="131.42" stroke="#4f8f82" stroke-width="0.9"/>
<rect x="663.6" y="102.8" width="13.2" height="45.6" fill="#dcc482"/>
<line x1="670.2" y1="102.8" x2="670.2" y2="84.2" stroke="#a08862" stroke-width="0.9"/>
<line x1="666.9" y1="84.2" x2="673.5" y2="84.2" stroke="#a08862" stroke-width="0.9"/>
<line x1="592.5" y1="58" x2="592.5" y2="148.4" stroke="#555" stroke-width="0.9"/>
<line x1="592.5" y1="148.4" x2="682.3" y2="148.4" stroke="#555" stroke-width="0.9"/>
<line x1="589.5" y1="148.4" x2="592.5" y2="148.4" stroke="#555" stroke-width="0.8"/>
<text x="587.9" y="150.9" font-size="6.9" fill="#222" text-anchor="end" stroke="#222" stroke-width="0.22">0</text>
<line x1="589.5" y1="118.4" x2="592.5" y2="118.4" stroke="#555" stroke-width="0.8"/>
<text x="587.9" y="120.9" font-size="6.9" fill="#222" text-anchor="end" stroke="#222" stroke-width="0.22">500</text>
<line x1="589.5" y1="88.4" x2="592.5" y2="88.4" stroke="#555" stroke-width="0.8"/>
<text x="587.9" y="90.9" font-size="6.9" fill="#222" text-anchor="end" stroke="#222" stroke-width="0.22">1000</text>
<line x1="589.5" y1="58.4" x2="592.5" y2="58.4" stroke="#555" stroke-width="0.8"/>
<text x="587.9" y="60.9" font-size="6.9" fill="#222" text-anchor="end" stroke="#222" stroke-width="0.22">1500</text>
<line x1="615.1" y1="148.4" x2="615.1" y2="151.4" stroke="#555" stroke-width="0.8"/>
<line x1="661.7" y1="148.4" x2="661.7" y2="151.4" stroke="#555" stroke-width="0.8"/>
<text x="615.1" y="161.7" font-size="8.8" fill="#222" text-anchor="middle" stroke="#222" stroke-width="0.22">-5 - 0s</text>
<text x="661.7" y="161.7" font-size="8.8" fill="#222" text-anchor="middle" stroke="#222" stroke-width="0.22">5 - 10s</text>
<text x="568.5" y="103.9" font-size="8.7" fill="#222" text-anchor="middle" transform="rotate(-90 568.5 103.9)" stroke="#222" stroke-width="0.22">AUC (a.u.)</text>
<rect x="606.7" y="72.6" width="9.7" height="5.1" fill="#8fd7c3"/>
<rect x="606.7" y="85.2" width="9.7" height="5.1" fill="#dcc482"/>
<text x="622" y="77.8" font-size="7.4" fill="#222" stroke="#222" stroke-width="0.22">SD</text>
<text x="622" y="90.4" font-size="7.4" fill="#222" stroke="#222" stroke-width="0.22">FSL</text>
<line x1="614.3" y1="63.3" x2="662.5" y2="63.3" stroke="#555" stroke-width="0.9"/>
<text x="638.4" y="64.1" font-size="14.5" fill="#111" text-anchor="middle" font-weight="bold">*</text>
<rect x="251.2" y="319.78" width="13.2" height="0.72" fill="#8fd7c3"/>
<line x1="257.8" y1="319.78" x2="257.8" y2="319.06" stroke="#4f8f82" stroke-width="0.9"/>
<line x1="254.5" y1="319.06" x2="261.1" y2="319.06" stroke="#4f8f82" stroke-width="0.9"/>
<rect x="268.2" y="319.6" width="13.2" height="0.9" fill="#dcc482"/>
<line x1="274.8" y1="319.6" x2="274.8" y2="318.09" stroke="#a08862" stroke-width="0.9"/>
<line x1="271.5" y1="318.09" x2="278.1" y2="318.09" stroke="#a08862" stroke-width="0.9"/>
<rect x="297.3" y="312.01" width="13.2" height="8.49" fill="#8fd7c3"/>
<line x1="303.9" y1="312.01" x2="303.9" y2="307.8" stroke="#4f8f82" stroke-width="0.9"/>
<line x1="300.6" y1="307.8" x2="307.2" y2="307.8" stroke="#4f8f82" stroke-width="0.9"/>
<rect x="314.3" y="271.2" width="13.2" height="49.3" fill="#dcc482"/>
<line x1="320.9" y1="271.2" x2="320.9" y2="254.4" stroke="#a08862" stroke-width="0.9"/>
<line x1="317.6" y1="254.4" x2="324.2" y2="254.4" stroke="#a08862" stroke-width="0.9"/>
<line x1="243.8" y1="229.8" x2="243.8" y2="320.5" stroke="#555" stroke-width="0.9"/>
<line x1="243.8" y1="320.5" x2="334.9" y2="320.5" stroke="#555" stroke-width="0.9"/>
<line x1="240.8" y1="320.5" x2="243.8" y2="320.5" stroke="#555" stroke-width="0.8"/>
<text x="239.2" y="323" font-size="6.9" fill="#222" text-anchor="end" stroke="#222" stroke-width="0.22">0</text>
<line x1="240.8" y1="290.4" x2="243.8" y2="290.4" stroke="#555" stroke-width="0.8"/>
<text x="239.2" y="292.9" font-size="6.9" fill="#222" text-anchor="end" stroke="#222" stroke-width="0.22">500</text>
<line x1="240.8" y1="260.3" x2="243.8" y2="260.3" stroke="#555" stroke-width="0.8"/>
<text x="239.2" y="262.8" font-size="6.9" fill="#222" text-anchor="end" stroke="#222" stroke-width="0.22">1000</text>
<line x1="240.8" y1="230.2" x2="243.8" y2="230.2" stroke="#555" stroke-width="0.8"/>
<text x="239.2" y="232.7" font-size="6.9" fill="#222" text-anchor="end" stroke="#222" stroke-width="0.22">1500</text>
<line x1="266.3" y1="320.5" x2="266.3" y2="323.5" stroke="#555" stroke-width="0.8"/>
<line x1="312.4" y1="320.5" x2="312.4" y2="323.5" stroke="#555" stroke-width="0.8"/>
<text x="266.3" y="333.8" font-size="8.8" fill="#222" text-anchor="middle" stroke="#222" stroke-width="0.22">-5 - 0s</text>
<text x="312.4" y="333.8" font-size="8.8" fill="#222" text-anchor="middle" stroke="#222" stroke-width="0.22">5 - 10s</text>
<text x="220.3" y="276.3" font-size="8.7" fill="#222" text-anchor="middle" transform="rotate(-90 220.3 276.3)" stroke="#222" stroke-width="0.22">AUC (a.u.)</text>
<rect x="257.8" y="249.8" width="9.7" height="5.1" fill="#8fd7c3"/>
<rect x="257.8" y="262.4" width="9.7" height="5.1" fill="#dcc482"/>
<text x="273.1" y="255" font-size="7.4" fill="#222" stroke="#222" stroke-width="0.22">SD</text>
<text x="273.1" y="267.6" font-size="7.4" fill="#222" stroke="#222" stroke-width="0.22">FSL</text>
<line x1="257" y1="200.3" x2="304.7" y2="200.3" stroke="#555" stroke-width="0.9"/>
<text x="280.85" y="195.9" font-size="7.4" fill="#222" text-anchor="middle" stroke="#222" stroke-width="0.22">ns</text>
<line x1="274" y1="218.3" x2="321.7" y2="218.3" stroke="#555" stroke-width="0.9"/>
<text x="297.85" y="219.1" font-size="14.5" fill="#111" text-anchor="middle" font-weight="bold">**</text>
<line x1="257" y1="238.2" x2="275.6" y2="238.2" stroke="#555" stroke-width="0.9"/>
<text x="266.3" y="233.8" font-size="7.4" fill="#222" text-anchor="middle" stroke="#222" stroke-width="0.22">ns</text>
<line x1="303.1" y1="238.2" x2="321.7" y2="238.2" stroke="#555" stroke-width="0.9"/>
<text x="312.4" y="239" font-size="14.5" fill="#111" text-anchor="middle" font-weight="bold">*</text>
<rect x="599.7" y="324.58" width="13.2" height="0.72" fill="#8fd7c3"/>
<line x1="606.3" y1="324.58" x2="606.3" y2="323.86" stroke="#4f8f82" stroke-width="0.9"/>
<line x1="603" y1="323.86" x2="609.6" y2="323.86" stroke="#4f8f82" stroke-width="0.9"/>
<rect x="616.7" y="324.22" width="13.2" height="1.08" fill="#dcc482"/>
<line x1="623.3" y1="324.22" x2="623.3" y2="322.33" stroke="#a08862" stroke-width="0.9"/>
<line x1="620" y1="322.33" x2="626.6" y2="322.33" stroke="#a08862" stroke-width="0.9"/>
<rect x="646.4" y="306.94" width="13.2" height="18.36" fill="#8fd7c3"/>
<line x1="653" y1="306.94" x2="653" y2="297.67" stroke="#4f8f82" stroke-width="0.9"/>
<line x1="649.7" y1="297.67" x2="656.3" y2="297.67" stroke="#4f8f82" stroke-width="0.9"/>
<rect x="663.4" y="257.44" width="13.2" height="67.86" fill="#dcc482"/>
<line x1="670" y1="257.44" x2="670" y2="241.33" stroke="#a08862" stroke-width="0.9"/>
<line x1="666.7" y1="241.33" x2="673.3" y2="241.33" stroke="#a08862" stroke-width="0.9"/>
<line x1="592.9" y1="234.9" x2="592.9" y2="325.3" stroke="#555" stroke-width="0.9"/>
<line x1="592.9" y1="325.3" x2="682.7" y2="325.3" stroke="#555" stroke-width="0.9"/>
<line x1="589.9" y1="325.3" x2="592.9" y2="325.3" stroke="#555" stroke-width="0.8"/>
<text x="588.3" y="327.8" font-size="6.9" fill="#222" text-anchor="end" stroke="#222" stroke-width="0.22">0</text>
<line x1="589.9" y1="307.3" x2="592.9" y2="307.3" stroke="#555" stroke-width="0.8"/>
<text x="588.3" y="309.8" font-size="6.9" fill="#222" text-anchor="end" stroke="#222" stroke-width="0.22">200</text>
<line x1="589.9" y1="289.3" x2="592.9" y2="289.3" stroke="#555" stroke-width="0.8"/>
<text x="588.3" y="291.8" font-size="6.9" fill="#222" text-anchor="end" stroke="#222" stroke-width="0.22">400</text>
<line x1="589.9" y1="271.3" x2="592.9" y2="271.3" stroke="#555" stroke-width="0.8"/>
<text x="588.3" y="273.8" font-size="6.9" fill="#222" text-anchor="end" stroke="#222" stroke-width="0.22">600</text>
<line x1="589.9" y1="253.3" x2="592.9" y2="253.3" stroke="#555" stroke-width="0.8"/>
<text x="588.3" y="255.8" font-size="6.9" fill="#222" text-anchor="end" stroke="#222" stroke-width="0.22">800</text>
<line x1="589.9" y1="235.3" x2="592.9" y2="235.3" stroke="#555" stroke-width="0.8"/>
<text x="588.3" y="237.8" font-size="6.9" fill="#222" text-anchor="end" stroke="#222" stroke-width="0.22">1000</text>
<line x1="614.8" y1="325.3" x2="614.8" y2="328.3" stroke="#555" stroke-width="0.8"/>
<line x1="661.5" y1="325.3" x2="661.5" y2="328.3" stroke="#555" stroke-width="0.8"/>
<text x="614.8" y="338.6" font-size="8.8" fill="#222" text-anchor="middle" stroke="#222" stroke-width="0.22">-5 - 0s</text>
<text x="661.5" y="338.6" font-size="8.8" fill="#222" text-anchor="middle" stroke="#222" stroke-width="0.22">5 - 10s</text>
<text x="568.7" y="280.9" font-size="8.7" fill="#222" text-anchor="middle" transform="rotate(-90 568.7 280.9)" stroke="#222" stroke-width="0.22">AUC (a.u.)</text>
<rect x="606.7" y="253.2" width="9.7" height="5.1" fill="#8fd7c3"/>
<rect x="606.7" y="265.8" width="9.7" height="5.1" fill="#dcc482"/>
<text x="622" y="258.4" font-size="7.4" fill="#222" stroke="#222" stroke-width="0.22">SD</text>
<text x="622" y="271" font-size="7.4" fill="#222" stroke="#222" stroke-width="0.22">FSL</text>
<line x1="605.5" y1="192.3" x2="653.8" y2="192.3" stroke="#555" stroke-width="0.9"/>
<text x="629.65" y="187.9" font-size="7.4" fill="#222" text-anchor="middle" stroke="#222" stroke-width="0.22">ns</text>
<line x1="622.5" y1="210.7" x2="670.8" y2="210.7" stroke="#555" stroke-width="0.9"/>
<text x="646.65" y="211.5" font-size="14.5" fill="#111" text-anchor="middle" font-weight="bold">***</text>
<line x1="605.5" y1="230.2" x2="624.1" y2="230.2" stroke="#555" stroke-width="0.9"/>
<text x="614.8" y="225.8" font-size="7.4" fill="#222" text-anchor="middle" stroke="#222" stroke-width="0.22">ns</text>
<line x1="652.2" y1="230.2" x2="670.8" y2="230.2" stroke="#555" stroke-width="0.9"/>
<text x="661.5" y="231" font-size="14.5" fill="#111" text-anchor="middle" font-weight="bold">*</text>
<rect x="251.2" y="503" width="13.2" height="0.9" fill="#8fd7c3"/>
<line x1="257.8" y1="503" x2="257.8" y2="502.28" stroke="#4f8f82" stroke-width="0.9"/>
<line x1="254.5" y1="502.28" x2="261.1" y2="502.28" stroke="#4f8f82" stroke-width="0.9"/>
<rect x="268.2" y="501.07" width="13.2" height="2.83" fill="#dcc482"/>
<line x1="274.8" y1="501.07" x2="274.8" y2="499.51" stroke="#a08862" stroke-width="0.9"/>
<line x1="271.5" y1="499.51" x2="278.1" y2="499.51" stroke="#a08862" stroke-width="0.9"/>
<rect x="297.3" y="490.13" width="13.2" height="13.77" fill="#8fd7c3"/>
<line x1="303.9" y1="490.13" x2="303.9" y2="483.4" stroke="#4f8f82" stroke-width="0.9"/>
<line x1="300.6" y1="483.4" x2="307.2" y2="483.4" stroke="#4f8f82" stroke-width="0.9"/>
<rect x="314.3" y="442.03" width="13.2" height="61.87" fill="#dcc482"/>
<line x1="320.9" y1="442.03" x2="320.9" y2="424.71" stroke="#a08862" stroke-width="0.9"/>
<line x1="317.6" y1="424.71" x2="324.2" y2="424.71" stroke="#a08862" stroke-width="0.9"/>
<line x1="243.8" y1="413.31" x2="243.8" y2="503.9" stroke="#555" stroke-width="0.9"/>
<line x1="243.8" y1="503.9" x2="334.9" y2="503.9" stroke="#555" stroke-width="0.9"/>
<line x1="240.8" y1="503.9" x2="243.8" y2="503.9" stroke="#555" stroke-width="0.8"/>
<text x="239.2" y="506.4" font-size="6.9" fill="#222" text-anchor="end" stroke="#222" stroke-width="0.22">0</text>
<line x1="240.8" y1="473.83" x2="243.8" y2="473.83" stroke="#555" stroke-width="0.8"/>
<text x="239.2" y="476.33" font-size="6.9" fill="#222" text-anchor="end" stroke="#222" stroke-width="0.22">500</text>
<line x1="240.8" y1="443.77" x2="243.8" y2="443.77" stroke="#555" stroke-width="0.8"/>
<text x="239.2" y="446.27" font-size="6.9" fill="#222" text-anchor="end" stroke="#222" stroke-width="0.22">1000</text>
<line x1="240.8" y1="413.7" x2="243.8" y2="413.7" stroke="#555" stroke-width="0.8"/>
<text x="239.2" y="416.2" font-size="6.9" fill="#222" text-anchor="end" stroke="#222" stroke-width="0.22">1500</text>
<line x1="266.3" y1="503.9" x2="266.3" y2="506.9" stroke="#555" stroke-width="0.8"/>
<line x1="312.4" y1="503.9" x2="312.4" y2="506.9" stroke="#555" stroke-width="0.8"/>
<text x="266.3" y="517.2" font-size="8.8" fill="#222" text-anchor="middle" stroke="#222" stroke-width="0.22">-5 - 0s</text>
<text x="312.4" y="517.2" font-size="8.8" fill="#222" text-anchor="middle" stroke="#222" stroke-width="0.22">5 - 10s</text>
<text x="220.3" y="459.7" font-size="8.7" fill="#222" text-anchor="middle" transform="rotate(-90 220.3 459.7)" stroke="#222" stroke-width="0.22">AUC (a.u.)</text>
<rect x="259" y="426.8" width="9.7" height="5.1" fill="#8fd7c3"/>
<rect x="259" y="439.4" width="9.7" height="5.1" fill="#dcc482"/>
<text x="274.3" y="432" font-size="7.4" fill="#222" stroke="#222" stroke-width="0.22">SD</text>
<text x="274.3" y="444.6" font-size="7.4" fill="#222" stroke="#222" stroke-width="0.22">FSL</text>
<line x1="257" y1="376.4" x2="304.7" y2="376.4" stroke="#555" stroke-width="0.9"/>
<text x="280.85" y="372" font-size="7.4" fill="#222" text-anchor="middle" stroke="#222" stroke-width="0.22">ns</text>
<line x1="274" y1="394.6" x2="321.7" y2="394.6" stroke="#555" stroke-width="0.9"/>
<text x="297.85" y="395.4" font-size="14.5" fill="#111" text-anchor="middle" font-weight="bold">**</text>
<line x1="257" y1="414.4" x2="275.6" y2="414.4" stroke="#555" stroke-width="0.9"/>
<text x="266.3" y="410" font-size="7.4" fill="#222" text-anchor="middle" stroke="#222" stroke-width="0.22">ns</text>
<line x1="303.1" y1="414.4" x2="321.7" y2="414.4" stroke="#555" stroke-width="0.9"/>
<text x="312.4" y="415.2" font-size="14.5" fill="#111" text-anchor="middle" font-weight="bold">*</text>
<rect x="599.7" y="504.1" width="13.2" height="1.2" fill="#8fd7c3"/>
<line x1="606.3" y1="504.1" x2="606.3" y2="503.38" stroke="#4f8f82" stroke-width="0.9"/>
<line x1="603" y1="503.38" x2="609.6" y2="503.38" stroke="#4f8f82" stroke-width="0.9"/>
<rect x="616.7" y="505" width="13.2" height="0.3" fill="#dcc482"/>
<line x1="623.3" y1="505" x2="623.3" y2="503.68" stroke="#a08862" stroke-width="0.9"/>
<line x1="620" y1="503.68" x2="626.6" y2="503.68" stroke="#a08862" stroke-width="0.9"/>
<rect x="646.4" y="488.02" width="13.2" height="17.28" fill="#8fd7c3"/>
<line x1="653" y1="488.02" x2="653" y2="482.02" stroke="#4f8f82" stroke-width="0.9"/>
<line x1="649.7" y1="482.02" x2="656.3" y2="482.02" stroke="#4f8f82" stroke-width="0.9"/>
<rect x="663.4" y="447.82" width="13.2" height="57.48" fill="#dcc482"/>
<line x1="670" y1="447.82" x2="670" y2="432.58" stroke="#a08862" stroke-width="0.9"/>
<line x1="666.7" y1="432.58" x2="673.3" y2="432.58" stroke="#a08862" stroke-width="0.9"/>
<line x1="592.9" y1="414.9" x2="592.9" y2="505.3" stroke="#555" stroke-width="0.9"/>
<line x1="592.9" y1="505.3" x2="682.7" y2="505.3" stroke="#555" stroke-width="0.9"/>
<line x1="589.9" y1="505.3" x2="592.9" y2="505.3" stroke="#555" stroke-width="0.8"/>
<text x="588.3" y="507.8" font-size="6.9" fill="#222" text-anchor="end" stroke="#222" stroke-width="0.22">0</text>
<line x1="589.9" y1="475.3" x2="592.9" y2="475.3" stroke="#555" stroke-width="0.8"/>
<text x="588.3" y="477.8" font-size="6.9" fill="#222" text-anchor="end" stroke="#222" stroke-width="0.22">500</text>
<line x1="589.9" y1="445.3" x2="592.9" y2="445.3" stroke="#555" stroke-width="0.8"/>
<text x="588.3" y="447.8" font-size="6.9" fill="#222" text-anchor="end" stroke="#222" stroke-width="0.22">1000</text>
<line x1="589.9" y1="415.3" x2="592.9" y2="415.3" stroke="#555" stroke-width="0.8"/>
<text x="588.3" y="417.8" font-size="6.9" fill="#222" text-anchor="end" stroke="#222" stroke-width="0.22">1500</text>
<line x1="614.8" y1="505.3" x2="614.8" y2="508.3" stroke="#555" stroke-width="0.8"/>
<line x1="661.5" y1="505.3" x2="661.5" y2="508.3" stroke="#555" stroke-width="0.8"/>
<text x="614.8" y="518.6" font-size="8.8" fill="#222" text-anchor="middle" stroke="#222" stroke-width="0.22">-5 - 0s</text>
<text x="661.5" y="518.6" font-size="8.8" fill="#222" text-anchor="middle" stroke="#222" stroke-width="0.22">5 - 10s</text>
<text x="568.7" y="460.9" font-size="8.7" fill="#222" text-anchor="middle" transform="rotate(-90 568.7 460.9)" stroke="#222" stroke-width="0.22">AUC (a.u.)</text>
<rect x="605.6" y="424.5" width="9.7" height="5.1" fill="#8fd7c3"/>
<rect x="605.6" y="437.1" width="9.7" height="5.1" fill="#dcc482"/>
<text x="620.9" y="429.7" font-size="7.4" fill="#222" stroke="#222" stroke-width="0.22">SD</text>
<text x="620.9" y="442.3" font-size="7.4" fill="#222" stroke="#222" stroke-width="0.22">FSL</text>
<line x1="605.5" y1="377.3" x2="653.8" y2="377.3" stroke="#555" stroke-width="0.9"/>
<text x="629.65" y="372.9" font-size="7.4" fill="#222" text-anchor="middle" stroke="#222" stroke-width="0.22">ns</text>
<line x1="622.5" y1="395.3" x2="670.8" y2="395.3" stroke="#555" stroke-width="0.9"/>
<text x="646.65" y="396.1" font-size="14.5" fill="#111" text-anchor="middle" font-weight="bold">***</text>
<line x1="605.5" y1="414.8" x2="624.1" y2="414.8" stroke="#555" stroke-width="0.9"/>
<text x="614.8" y="410.4" font-size="7.4" fill="#222" text-anchor="middle" stroke="#222" stroke-width="0.22">ns</text>
<line x1="652.2" y1="414.8" x2="670.8" y2="414.8" stroke="#555" stroke-width="0.9"/>
<text x="661.5" y="415.6" font-size="14.5" fill="#111" text-anchor="middle" font-weight="bold">*</text>
<line x1="70.6" y1="589.3" x2="70.6" y2="707.9" stroke="#666" stroke-width="1"/>
<line x1="70.6" y1="707.9" x2="247.7" y2="707.9" stroke="#666" stroke-width="1"/>
<line x1="65.6" y1="707.9" x2="70.6" y2="707.9" stroke="#666" stroke-width="1"/>
<text x="63.2" y="712.2" font-size="12.2" fill="#222" text-anchor="end" stroke="#222" stroke-width="0.18">0.0</text>
<line x1="65.6" y1="684.26" x2="70.6" y2="684.26" stroke="#666" stroke-width="1"/>
<text x="63.2" y="688.56" font-size="12.2" fill="#222" text-anchor="end" stroke="#222" stroke-width="0.18">0.1</text>
<line x1="65.6" y1="660.62" x2="70.6" y2="660.62" stroke="#666" stroke-width="1"/>
<text x="63.2" y="664.92" font-size="12.2" fill="#222" text-anchor="end" stroke="#222" stroke-width="0.18">0.2</text>
<line x1="65.6" y1="636.98" x2="70.6" y2="636.98" stroke="#666" stroke-width="1"/>
<text x="63.2" y="641.28" font-size="12.2" fill="#222" text-anchor="end" stroke="#222" stroke-width="0.18">0.3</text>
<line x1="65.6" y1="613.34" x2="70.6" y2="613.34" stroke="#666" stroke-width="1"/>
<text x="63.2" y="617.64" font-size="12.2" fill="#222" text-anchor="end" stroke="#222" stroke-width="0.18">0.4</text>
<line x1="65.6" y1="589.7" x2="70.6" y2="589.7" stroke="#666" stroke-width="1"/>
<text x="63.2" y="594" font-size="12.2" fill="#222" text-anchor="end" stroke="#222" stroke-width="0.18">0.5</text>
<line x1="95.4" y1="707.9" x2="95.4" y2="712.5" stroke="#666" stroke-width="1"/>
<text x="97.9" y="723.4" font-size="12.2" fill="#222" text-anchor="end" transform="rotate(-45 97.9 723.4)" stroke="#222" stroke-width="0.18">30 Hz_100 µs</text>
<line x1="120.85" y1="707.9" x2="120.85" y2="712.5" stroke="#666" stroke-width="1"/>
<text x="123.35" y="723.4" font-size="12.2" fill="#222" text-anchor="end" transform="rotate(-45 123.35 723.4)" stroke="#222" stroke-width="0.18">30 Hz_250 µs</text>
<line x1="146.3" y1="707.9" x2="146.3" y2="712.5" stroke="#666" stroke-width="1"/>
<text x="148.8" y="723.4" font-size="12.2" fill="#222" text-anchor="end" transform="rotate(-45 148.8 723.4)" stroke="#222" stroke-width="0.18">30 Hz_350 µs</text>
<line x1="171.75" y1="707.9" x2="171.75" y2="712.5" stroke="#666" stroke-width="1"/>
<text x="174.25" y="723.4" font-size="12.2" fill="#222" text-anchor="end" transform="rotate(-45 174.25 723.4)" stroke="#222" stroke-width="0.18">130 Hz_100 µs</text>
<line x1="197.2" y1="707.9" x2="197.2" y2="712.5" stroke="#666" stroke-width="1"/>
<text x="199.7" y="723.4" font-size="12.2" fill="#222" text-anchor="end" transform="rotate(-45 199.7 723.4)" stroke="#222" stroke-width="0.18">130 Hz_250 µs</text>
<line x1="222.65" y1="707.9" x2="222.65" y2="712.5" stroke="#666" stroke-width="1"/>
<text x="225.15" y="723.4" font-size="12.2" fill="#222" text-anchor="end" transform="rotate(-45 225.15 723.4)" stroke="#222" stroke-width="0.18">130 Hz_350 µs</text>
<text x="40.2" y="645.9" font-size="12" fill="#222" text-anchor="middle" transform="rotate(-90 40.2 645.9)" stroke="#222" stroke-width="0.18">Time of activation (s)</text>
<line x1="95.4" y1="636.73" x2="95.4" y2="613.34" stroke="#6db9b6" stroke-width="1"/>
<line x1="91.8" y1="613.34" x2="99" y2="613.34" stroke="#6db9b6" stroke-width="1"/>
<line x1="95.4" y1="644.33" x2="95.4" y2="665.35" stroke="#6db9b6" stroke-width="1"/>
<line x1="91.8" y1="665.35" x2="99" y2="665.35" stroke="#6db9b6" stroke-width="1"/>
<circle cx="95.4" cy="640.53" r="3.7" fill="none" stroke="#6db9b6" stroke-width="1"/>
<line x1="95.4" y1="648.55" x2="95.4" y2="636.74" stroke="#bba659" stroke-width="1"/>
<line x1="91.8" y1="636.74" x2="99" y2="636.74" stroke="#bba659" stroke-width="1"/>
<line x1="95.4" y1="656.15" x2="95.4" y2="665.35" stroke="#bba659" stroke-width="1"/>
<line x1="91.8" y1="665.35" x2="99" y2="665.35" stroke="#bba659" stroke-width="1"/>
<circle cx="95.4" cy="652.35" r="3.7" fill="none" stroke="#bba659" stroke-width="1"/>
<line x1="120.85" y1="628.92" x2="120.85" y2="619.49" stroke="#6db9b6" stroke-width="1"/>
<line x1="117.25" y1="619.49" x2="124.45" y2="619.49" stroke="#6db9b6" stroke-width="1"/>
<line x1="120.85" y1="636.52" x2="120.85" y2="640.53" stroke="#6db9b6" stroke-width="1"/>
<line x1="117.25" y1="640.53" x2="124.45" y2="640.53" stroke="#6db9b6" stroke-width="1"/>
<circle cx="120.85" cy="632.72" r="3.7" fill="none" stroke="#6db9b6" stroke-width="1"/>
<line x1="120.85" y1="638.14" x2="120.85" y2="626.34" stroke="#bba659" stroke-width="1"/>
<line x1="117.25" y1="626.34" x2="124.45" y2="626.34" stroke="#bba659" stroke-width="1"/>
<line x1="120.85" y1="645.74" x2="120.85" y2="654.24" stroke="#bba659" stroke-width="1"/>
<line x1="117.25" y1="654.24" x2="124.45" y2="654.24" stroke="#bba659" stroke-width="1"/>
<circle cx="120.85" cy="641.94" r="3.7" fill="none" stroke="#bba659" stroke-width="1"/>
<line x1="146.3" y1="643.11" x2="146.3" y2="632.72" stroke="#6db9b6" stroke-width="1"/>
<line x1="142.7" y1="632.72" x2="149.9" y2="632.72" stroke="#6db9b6" stroke-width="1"/>
<line x1="146.3" y1="650.71" x2="146.3" y2="657.55" stroke="#6db9b6" stroke-width="1"/>
<line x1="142.7" y1="657.55" x2="149.9" y2="657.55" stroke="#6db9b6" stroke-width="1"/>
<circle cx="146.3" cy="646.91" r="3.7" fill="none" stroke="#6db9b6" stroke-width="1"/>
<line x1="146.3" y1="647.36" x2="146.3" y2="636.74" stroke="#bba659" stroke-width="1"/>
<line x1="142.7" y1="636.74" x2="149.9" y2="636.74" stroke="#bba659" stroke-width="1"/>
<line x1="146.3" y1="654.96" x2="146.3" y2="663.69" stroke="#bba659" stroke-width="1"/>
<line x1="142.7" y1="663.69" x2="149.9" y2="663.69" stroke="#bba659" stroke-width="1"/>
<circle cx="146.3" cy="651.16" r="3.7" fill="none" stroke="#bba659" stroke-width="1"/>
<line x1="171.75" y1="632.47" x2="171.75" y2="629.89" stroke="#6db9b6" stroke-width="1"/>
<line x1="168.15" y1="629.89" x2="175.35" y2="629.89" stroke="#6db9b6" stroke-width="1"/>
<line x1="171.75" y1="640.07" x2="171.75" y2="640.53" stroke="#6db9b6" stroke-width="1"/>
<line x1="168.15" y1="640.53" x2="175.35" y2="640.53" stroke="#6db9b6" stroke-width="1"/>
<circle cx="171.75" cy="636.27" r="3.7" fill="none" stroke="#6db9b6" stroke-width="1"/>
<line x1="171.75" y1="638.14" x2="171.75" y2="626.34" stroke="#bba659" stroke-width="1"/>
<line x1="168.15" y1="626.34" x2="175.35" y2="626.34" stroke="#bba659" stroke-width="1"/>
<line x1="171.75" y1="645.74" x2="171.75" y2="654.24" stroke="#bba659" stroke-width="1"/>
<line x1="168.15" y1="654.24" x2="175.35" y2="654.24" stroke="#bba659" stroke-width="1"/>
<circle cx="171.75" cy="641.94" r="3.7" fill="none" stroke="#bba659" stroke-width="1"/>
<line x1="197.2" y1="643.11" x2="197.2" y2="632.72" stroke="#6db9b6" stroke-width="1"/>
<line x1="193.6" y1="632.72" x2="200.8" y2="632.72" stroke="#6db9b6" stroke-width="1"/>
<line x1="197.2" y1="650.71" x2="197.2" y2="657.55" stroke="#6db9b6" stroke-width="1"/>
<line x1="193.6" y1="657.55" x2="200.8" y2="657.55" stroke="#6db9b6" stroke-width="1"/>
<circle cx="197.2" cy="646.91" r="3.7" fill="none" stroke="#6db9b6" stroke-width="1"/>
<line x1="197.2" y1="666.04" x2="197.2" y2="654" stroke="#bba659" stroke-width="1"/>
<line x1="193.6" y1="654" x2="200.8" y2="654" stroke="#bba659" stroke-width="1"/>
<line x1="197.2" y1="673.64" x2="197.2" y2="683.31" stroke="#bba659" stroke-width="1"/>
<line x1="193.6" y1="683.31" x2="200.8" y2="683.31" stroke="#bba659" stroke-width="1"/>
<circle cx="197.2" cy="669.84" r="3.7" fill="none" stroke="#bba659" stroke-width="1"/>
<line x1="222.65" y1="643.11" x2="222.65" y2="634.62" stroke="#6db9b6" stroke-width="1"/>
<line x1="219.05" y1="634.62" x2="226.25" y2="634.62" stroke="#6db9b6" stroke-width="1"/>
<line x1="222.65" y1="650.71" x2="222.65" y2="658.26" stroke="#6db9b6" stroke-width="1"/>
<line x1="219.05" y1="658.26" x2="226.25" y2="658.26" stroke="#6db9b6" stroke-width="1"/>
<circle cx="222.65" cy="646.91" r="3.7" fill="none" stroke="#6db9b6" stroke-width="1"/>
<line x1="222.65" y1="628.92" x2="222.65" y2="602.7" stroke="#bba659" stroke-width="1"/>
<line x1="219.05" y1="602.7" x2="226.25" y2="602.7" stroke="#bba659" stroke-width="1"/>
<line x1="222.65" y1="636.52" x2="222.65" y2="659.2" stroke="#bba659" stroke-width="1"/>
<line x1="219.05" y1="659.2" x2="226.25" y2="659.2" stroke="#bba659" stroke-width="1"/>
<circle cx="222.65" cy="632.72" r="3.7" fill="none" stroke="#bba659" stroke-width="1"/>
<line x1="360.6" y1="589.4" x2="360.6" y2="707.3" stroke="#666" stroke-width="1"/>
<line x1="360.6" y1="707.3" x2="538.4" y2="707.3" stroke="#666" stroke-width="1"/>
<line x1="355.6" y1="707.3" x2="360.6" y2="707.3" stroke="#666" stroke-width="1"/>
<text x="354.3" y="711.6" font-size="12.2" fill="#222" text-anchor="end" stroke="#222" stroke-width="0.18">0.0</text>
<line x1="355.6" y1="677.92" x2="360.6" y2="677.92" stroke="#666" stroke-width="1"/>
<text x="354.3" y="682.22" font-size="12.2" fill="#222" text-anchor="end" stroke="#222" stroke-width="0.18">0.1</text>
<line x1="355.6" y1="648.55" x2="360.6" y2="648.55" stroke="#666" stroke-width="1"/>
<text x="354.3" y="652.85" font-size="12.2" fill="#222" text-anchor="end" stroke="#222" stroke-width="0.18">0.2</text>
<line x1="355.6" y1="619.17" x2="360.6" y2="619.17" stroke="#666" stroke-width="1"/>
<text x="354.3" y="623.47" font-size="12.2" fill="#222" text-anchor="end" stroke="#222" stroke-width="0.18">0.3</text>
<line x1="355.6" y1="589.8" x2="360.6" y2="589.8" stroke="#666" stroke-width="1"/>
<text x="354.3" y="594.1" font-size="12.2" fill="#222" text-anchor="end" stroke="#222" stroke-width="0.18">0.4</text>
<line x1="379.3" y1="707.3" x2="379.3" y2="711.9" stroke="#666" stroke-width="1"/>
<text x="381.8" y="722.8" font-size="12.2" fill="#222" text-anchor="end" transform="rotate(-45 381.8 722.8)" stroke="#222" stroke-width="0.18">30 Hz_100 µs</text>
<line x1="407.37" y1="707.3" x2="407.37" y2="711.9" stroke="#666" stroke-width="1"/>
<text x="409.87" y="722.8" font-size="12.2" fill="#222" text-anchor="end" transform="rotate(-45 409.87 722.8)" stroke="#222" stroke-width="0.18">30 Hz_250 µs</text>
<line x1="435.44" y1="707.3" x2="435.44" y2="711.9" stroke="#666" stroke-width="1"/>
<text x="437.94" y="722.8" font-size="12.2" fill="#222" text-anchor="end" transform="rotate(-45 437.94 722.8)" stroke="#222" stroke-width="0.18">30 Hz_350 µs</text>
<line x1="463.51" y1="707.3" x2="463.51" y2="711.9" stroke="#666" stroke-width="1"/>
<text x="466.01" y="722.8" font-size="12.2" fill="#222" text-anchor="end" transform="rotate(-45 466.01 722.8)" stroke="#222" stroke-width="0.18">130 Hz_100 µs</text>
<line x1="491.58" y1="707.3" x2="491.58" y2="711.9" stroke="#666" stroke-width="1"/>
<text x="494.08" y="722.8" font-size="12.2" fill="#222" text-anchor="end" transform="rotate(-45 494.08 722.8)" stroke="#222" stroke-width="0.18">130 Hz_250 µs</text>
<line x1="519.65" y1="707.3" x2="519.65" y2="711.9" stroke="#666" stroke-width="1"/>
<text x="522.15" y="722.8" font-size="12.2" fill="#222" text-anchor="end" transform="rotate(-45 522.15 722.8)" stroke="#222" stroke-width="0.18">130 Hz_350 µs</text>
<text x="330" y="646" font-size="12" fill="#222" text-anchor="middle" transform="rotate(-90 330 646)" stroke="#222" stroke-width="0.18">Time of activation (s)</text>
<line x1="379.3" y1="638.58" x2="379.3" y2="626.81" stroke="#6db9b6" stroke-width="1"/>
<line x1="375.7" y1="626.81" x2="382.9" y2="626.81" stroke="#6db9b6" stroke-width="1"/>
<line x1="379.3" y1="646.18" x2="379.3" y2="655.89" stroke="#6db9b6" stroke-width="1"/>
<line x1="375.7" y1="655.89" x2="382.9" y2="655.89" stroke="#6db9b6" stroke-width="1"/>
<circle cx="379.3" cy="642.38" r="3.7" fill="none" stroke="#6db9b6" stroke-width="1"/>
<line x1="379.3" y1="627.12" x2="379.3" y2="618.59" stroke="#bba659" stroke-width="1"/>
<line x1="375.7" y1="618.59" x2="382.9" y2="618.59" stroke="#bba659" stroke-width="1"/>
<line x1="379.3" y1="634.72" x2="379.3" y2="640.32" stroke="#bba659" stroke-width="1"/>
<line x1="375.7" y1="640.32" x2="382.9" y2="640.32" stroke="#bba659" stroke-width="1"/>
<circle cx="379.3" cy="630.92" r="3.7" fill="none" stroke="#bba659" stroke-width="1"/>
<line x1="407.37" y1="634.17" x2="407.37" y2="629.46" stroke="#6db9b6" stroke-width="1"/>
<line x1="403.77" y1="629.46" x2="410.97" y2="629.46" stroke="#6db9b6" stroke-width="1"/>
<line x1="407.37" y1="641.77" x2="407.37" y2="644.44" stroke="#6db9b6" stroke-width="1"/>
<line x1="403.77" y1="644.44" x2="410.97" y2="644.44" stroke="#6db9b6" stroke-width="1"/>
<circle cx="407.37" cy="637.97" r="3.7" fill="none" stroke="#6db9b6" stroke-width="1"/>
<line x1="407.37" y1="656.21" x2="407.37" y2="647.96" stroke="#bba659" stroke-width="1"/>
<line x1="403.77" y1="647.96" x2="410.97" y2="647.96" stroke="#bba659" stroke-width="1"/>
<line x1="407.37" y1="663.81" x2="407.37" y2="669.41" stroke="#bba659" stroke-width="1"/>
<line x1="403.77" y1="669.41" x2="410.97" y2="669.41" stroke="#bba659" stroke-width="1"/>
<circle cx="407.37" cy="660.01" r="3.7" fill="none" stroke="#bba659" stroke-width="1"/>
<line x1="435.44" y1="670.6" x2="435.44" y2="664.41" stroke="#6db9b6" stroke-width="1"/>
<line x1="431.84" y1="664.41" x2="439.04" y2="664.41" stroke="#6db9b6" stroke-width="1"/>
<line x1="435.44" y1="678.2" x2="435.44" y2="681.16" stroke="#6db9b6" stroke-width="1"/>
<line x1="431.84" y1="681.16" x2="439.04" y2="681.16" stroke="#6db9b6" stroke-width="1"/>
<circle cx="435.44" cy="674.4" r="3.7" fill="none" stroke="#6db9b6" stroke-width="1"/>
<line x1="435.44" y1="636.52" x2="435.44" y2="632.98" stroke="#bba659" stroke-width="1"/>
<line x1="431.84" y1="632.98" x2="439.04" y2="632.98" stroke="#bba659" stroke-width="1"/>
<line x1="435.44" y1="644.12" x2="435.44" y2="645.32" stroke="#bba659" stroke-width="1"/>
<line x1="431.84" y1="645.32" x2="439.04" y2="645.32" stroke="#bba659" stroke-width="1"/>
<circle cx="435.44" cy="640.32" r="3.7" fill="none" stroke="#bba659" stroke-width="1"/>
<line x1="463.51" y1="649.16" x2="463.51" y2="647.08" stroke="#6db9b6" stroke-width="1"/>
<line x1="459.91" y1="647.08" x2="467.11" y2="647.08" stroke="#6db9b6" stroke-width="1"/>
<line x1="463.51" y1="656.76" x2="463.51" y2="665.29" stroke="#6db9b6" stroke-width="1"/>
<line x1="459.91" y1="665.29" x2="467.11" y2="665.29" stroke="#6db9b6" stroke-width="1"/>
<circle cx="463.51" cy="652.96" r="3.7" fill="none" stroke="#6db9b6" stroke-width="1"/>
<line x1="463.51" y1="641.81" x2="463.51" y2="637.68" stroke="#bba659" stroke-width="1"/>
<line x1="459.91" y1="637.68" x2="467.11" y2="637.68" stroke="#bba659" stroke-width="1"/>
<line x1="463.51" y1="649.41" x2="463.51" y2="652.96" stroke="#bba659" stroke-width="1"/>
<line x1="459.91" y1="652.96" x2="467.11" y2="652.96" stroke="#bba659" stroke-width="1"/>
<circle cx="463.51" cy="645.61" r="3.7" fill="none" stroke="#bba659" stroke-width="1"/>
<line x1="491.58" y1="654.15" x2="491.58" y2="649.43" stroke="#6db9b6" stroke-width="1"/>
<line x1="487.98" y1="649.43" x2="495.18" y2="649.43" stroke="#6db9b6" stroke-width="1"/>
<line x1="491.58" y1="661.75" x2="491.58" y2="667.35" stroke="#6db9b6" stroke-width="1"/>
<line x1="487.98" y1="667.35" x2="495.18" y2="667.35" stroke="#6db9b6" stroke-width="1"/>
<circle cx="491.58" cy="657.95" r="3.7" fill="none" stroke="#6db9b6" stroke-width="1"/>
<line x1="491.58" y1="651.51" x2="491.58" y2="645.02" stroke="#bba659" stroke-width="1"/>
<line x1="487.98" y1="645.02" x2="495.18" y2="645.02" stroke="#bba659" stroke-width="1"/>
<line x1="491.58" y1="659.11" x2="491.58" y2="663.24" stroke="#bba659" stroke-width="1"/>
<line x1="487.98" y1="663.24" x2="495.18" y2="663.24" stroke="#bba659" stroke-width="1"/>
<circle cx="491.58" cy="655.31" r="3.7" fill="none" stroke="#bba659" stroke-width="1"/>
<line x1="519.65" y1="650.62" x2="519.65" y2="647.38" stroke="#6db9b6" stroke-width="1"/>
<line x1="516.05" y1="647.38" x2="523.25" y2="647.38" stroke="#6db9b6" stroke-width="1"/>
<line x1="519.65" y1="658.22" x2="519.65" y2="660.3" stroke="#6db9b6" stroke-width="1"/>
<line x1="516.05" y1="660.3" x2="523.25" y2="660.3" stroke="#6db9b6" stroke-width="1"/>
<circle cx="519.65" cy="654.42" r="3.7" fill="none" stroke="#6db9b6" stroke-width="1"/>
<line x1="519.65" y1="651.51" x2="519.65" y2="645.02" stroke="#bba659" stroke-width="1"/>
<line x1="516.05" y1="645.02" x2="523.25" y2="645.02" stroke="#bba659" stroke-width="1"/>
<line x1="519.65" y1="659.11" x2="519.65" y2="662.65" stroke="#bba659" stroke-width="1"/>
<line x1="516.05" y1="662.65" x2="523.25" y2="662.65" stroke="#bba659" stroke-width="1"/>
<circle cx="519.65" cy="655.31" r="3.7" fill="none" stroke="#bba659" stroke-width="1"/>
<circle cx="499.2" cy="591.6" r="3.6" fill="none" stroke="#8fcaca" stroke-width="1"/>
<circle cx="499.2" cy="608.1" r="3.6" fill="none" stroke="#c6b06c" stroke-width="1"/>
<text x="513.3" y="595.7" font-size="11.5" fill="#222" stroke="#222" stroke-width="0.18">SD</text>
<text x="513.3" y="612.2" font-size="11.5" fill="#222" stroke="#222" stroke-width="0.18">FSL</text>
<text x="3.3" y="31" font-size="17.5" fill="#000" font-weight="bold">A</text>
<text x="205.2" y="30.8" font-size="17.5" fill="#000" font-weight="bold">A'</text>
<text x="344.4" y="30.5" font-size="17.5" fill="#000" font-weight="bold">B</text>
<text x="547.2" y="30.9" font-size="17.5" fill="#000" font-weight="bold">B'</text>
<text x="3.6" y="196.3" font-size="17.5" fill="#000" font-weight="bold">C</text>
<text x="205.7" y="196.9" font-size="17.5" fill="#000" font-weight="bold">C'</text>
<text x="345.3" y="195.9" font-size="17.5" fill="#000" font-weight="bold">D</text>
<text x="547.3" y="196.9" font-size="17.5" fill="#000" font-weight="bold">D'</text>
<text x="3.6" y="377.1" font-size="17.5" fill="#000" font-weight="bold">E</text>
<text x="206.2" y="376.9" font-size="17.5" fill="#000" font-weight="bold">E'</text>
<text x="345.3" y="377.1" font-size="17.5" fill="#000" font-weight="bold">F</text>
<text x="547.3" y="376.9" font-size="17.5" fill="#000" font-weight="bold">F'</text>
<text x="8.3" y="564.6" font-size="17.5" fill="#000" font-weight="bold">G</text>
<text x="292.6" y="564.8" font-size="17.5" fill="#000" font-weight="bold">H</text>
<text x="138.1" y="14.9" font-size="15" fill="#111" stroke="#111" stroke-width="0.18">30 Hz</text>
<text x="467.6" y="14.9" font-size="15" fill="#111" stroke="#111" stroke-width="0.18">130 Hz</text>
<text x="17" y="102" font-size="15" fill="#111" text-anchor="middle" transform="rotate(-90 17 102)" stroke="#111" stroke-width="0.18">100 µs</text>
<text x="17.5" y="272.8" font-size="15" fill="#111" text-anchor="middle" transform="rotate(-90 17.5 272.8)" stroke="#111" stroke-width="0.18">250 µs</text>
<text x="19" y="451.4" font-size="15" fill="#111" text-anchor="middle" transform="rotate(-90 19 451.4)" stroke="#111" stroke-width="0.18">350 µs</text>
<text x="101" y="47.7" font-size="10.8" fill="#c9b47c" stroke="#c9b47c" stroke-width="0.18">FSL n = 6</text>
<text x="101" y="60.6" font-size="10.8" fill="#5cb9a2" stroke="#5cb9a2" stroke-width="0.18">SD n = 5</text>
<circle cx="63.9" cy="58" r="0.5" fill="#aaa"/>
<rect x="414.6" y="59.6" width="1.6" height="0.8" fill="#555"/>
<circle cx="60.7" cy="545.7" r="0.5" fill="#aaa"/>
</svg></body></html>
